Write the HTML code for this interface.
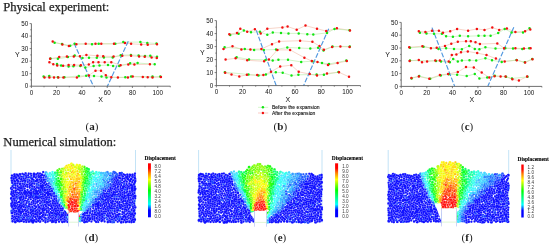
<!DOCTYPE html>
<html><head><meta charset="utf-8"><style>
html,body{margin:0;padding:0;background:#fff;overflow:hidden}
body{width:550px;height:247px}
svg{display:block}
</style></head><body>
<svg width="550" height="247" viewBox="0 0 550 247">
<text x="3.2" y="11.3" font-family="'Liberation Serif', serif" font-size="12.6" fill="#1e1e1e" stroke="#1e1e1e" stroke-width=".25">Physical experiment:</text>
<text x="3.3" y="145.6" font-family="'Liberation Serif', serif" font-size="12.6" fill="#1e1e1e" stroke="#1e1e1e" stroke-width=".25">Numerical simulation:</text>
<g font-family="'Liberation Sans', sans-serif" font-size="6.3" fill="#111"><path d="M52.7 41.6 62.4 44.4 68.9 46 76.4 44.2 85.7 43.8 95.5 43.8 101.3 43.8 114 43.8 125 43.1 131.1 43.8 141.2 44.4 147.7 44.7 157 44.2" fill="none" stroke="#f2b8a4" stroke-width=".6"/><path d="M54.6 42.8 62 44 70.2 45.7 74.7 43.8 92 44.2 98.7 43.8 115.3 43.8 123.3 42.1 140.4 42.1 147.3 42.9 156.5 43.5" fill="none" stroke="#b4eca4" stroke-width=".6"/><path d="M50.1 58.8 59.2 57.1 66.9 56.5 73.8 56.5 79.9 56.2 86.4 54.9 97.4 55.8 103.2 56.2 113.6 56.5 122.3 55.8 131.1 55.8 139.1 56.5 144.7 56.7 151.6 57.5 156.8 58" fill="none" stroke="#f2b8a4" stroke-width=".6"/><path d="M50.5 58.5 57.9 58.8 67.9 57.1 74.7 55.4 82.5 58 89 57.8 96.8 57.8 103.9 57.5 112.7 57.5 120.7 55.2 130.9 54.9 138.6 55.4 145 56 150.3 55.8 157 56.7" fill="none" stroke="#b4eca4" stroke-width=".6"/><path d="M49.4 62.3 53.3 64.3 57.2 65.6 63.1 65.8 68.6 64.9 74.1 64.9 80.8 65.2 88.8 64.6 93.1 62.2 98.5 62.2 104.7 62.2 111.3 62.2 120.6 65.2 128.3 64.5 134.4 64.5 149.9 64.3" fill="none" stroke="#f2b8a4" stroke-width=".6"/><path d="M57 64 61.1 65.6 68.6 66.6 73.4 66.2 80.3 66.1 85.3 67.5 93.6 66.1 99.5 65.5 108 65 113.1 66 119.2 66 130.1 63.2 137.6 63 154.7 64.3" fill="none" stroke="#b4eca4" stroke-width=".6"/><path d="M44.5 77.5 49.4 77.5 54 77.5 58.3 77.5 63.4 77.5 76.9 77.5 88.9 75.4 95.5 70.7 101 70.7 105.8 75.2 111.3 77.2 117.9 77.5 127.9 77.5 132.7 76.6 142.8 77 147.7 77.2 152.5 77.5 160.9 77" fill="none" stroke="#f2b8a4" stroke-width=".6"/><path d="M43.6 76.6 49.2 75.9 57.9 77.2 64.4 77.2 78.8 76 86.2 75.8 94 76 101.5 76.5 106.5 77.4 125.3 77.2 131.1 76.6 152.5 76.6 160.3 76.6" fill="none" stroke="#b4eca4" stroke-width=".6"/><line x1="74" y1="43.1" x2="93.4" y2="86.2" stroke="#5198e0" stroke-width="1.15" stroke-dasharray="5 1.7"/><line x1="128.3" y1="41.2" x2="107.4" y2="86.2" stroke="#5198e0" stroke-width="1.15" stroke-dasharray="5 1.7"/><path d="M54.6 42.8h0M62 44h0M70.2 45.7h0M74.7 43.8h0M92 44.2h0M98.7 43.8h0M115.3 43.8h0M123.3 42.1h0M140.4 42.1h0M147.3 42.9h0M156.5 43.5h0" stroke="#12e412" stroke-width="2.5" stroke-linecap="round"/><path d="M50.5 58.5h0M57.9 58.8h0M67.9 57.1h0M74.7 55.4h0M82.5 58h0M89 57.8h0M96.8 57.8h0M103.9 57.5h0M112.7 57.5h0M120.7 55.2h0M130.9 54.9h0M138.6 55.4h0M145 56h0M150.3 55.8h0M157 56.7h0" stroke="#12e412" stroke-width="2.5" stroke-linecap="round"/><path d="M57 64h0M61.1 65.6h0M68.6 66.6h0M73.4 66.2h0M80.3 66.1h0M85.3 67.5h0M93.6 66.1h0M99.5 65.5h0M108 65h0M113.1 66h0M119.2 66h0M130.1 63.2h0M137.6 63h0M154.7 64.3h0" stroke="#12e412" stroke-width="2.5" stroke-linecap="round"/><path d="M43.6 76.6h0M49.2 75.9h0M57.9 77.2h0M64.4 77.2h0M78.8 76h0M86.2 75.8h0M94 76h0M101.5 76.5h0M106.5 77.4h0M125.3 77.2h0M131.1 76.6h0M152.5 76.6h0M160.3 76.6h0" stroke="#12e412" stroke-width="2.5" stroke-linecap="round"/><path d="M52.7 41.6h0M62.4 44.4h0M68.9 46h0M76.4 44.2h0M85.7 43.8h0M95.5 43.8h0M101.3 43.8h0M114 43.8h0M125 43.1h0M131.1 43.8h0M141.2 44.4h0M147.7 44.7h0M157 44.2h0" stroke="#f21010" stroke-width="2.5" stroke-linecap="round"/><path d="M50.1 58.8h0M59.2 57.1h0M66.9 56.5h0M73.8 56.5h0M79.9 56.2h0M86.4 54.9h0M97.4 55.8h0M103.2 56.2h0M113.6 56.5h0M122.3 55.8h0M131.1 55.8h0M139.1 56.5h0M144.7 56.7h0M151.6 57.5h0M156.8 58h0" stroke="#f21010" stroke-width="2.5" stroke-linecap="round"/><path d="M49.4 62.3h0M53.3 64.3h0M57.2 65.6h0M63.1 65.8h0M68.6 64.9h0M74.1 64.9h0M80.8 65.2h0M88.8 64.6h0M93.1 62.2h0M98.5 62.2h0M104.7 62.2h0M111.3 62.2h0M120.6 65.2h0M128.3 64.5h0M134.4 64.5h0M149.9 64.3h0" stroke="#f21010" stroke-width="2.5" stroke-linecap="round"/><path d="M44.5 77.5h0M49.4 77.5h0M54 77.5h0M58.3 77.5h0M63.4 77.5h0M76.9 77.5h0M88.9 75.4h0M95.5 70.7h0M101 70.7h0M105.8 75.2h0M111.3 77.2h0M117.9 77.5h0M127.9 77.5h0M132.7 76.6h0M142.8 77h0M147.7 77.2h0M152.5 77.5h0M160.9 77h0" stroke="#f21010" stroke-width="2.5" stroke-linecap="round"/><path d="M31.4 86.2H170.3M31.4 86.2V23.6" fill="none" stroke="#4a4a4a" stroke-width=".8"/><path d="M31.4 86.2v1.8M44 86.2v1.1M56.6 86.2v1.8M69.3 86.2v1.1M81.9 86.2v1.8M94.5 86.2v1.1M107.2 86.2v1.8M119.8 86.2v1.1M132.4 86.2v1.8M145 86.2v1.1M157.7 86.2v1.8M170.3 86.2v1.1M31.4 86.2h-1.8M31.4 79.9h-1.1M31.4 73.7h-1.8M31.4 67.4h-1.1M31.4 61.1h-1.8M31.4 54.9h-1.1M31.4 48.6h-1.8M31.4 42.3h-1.1M31.4 36.1h-1.8M31.4 29.8h-1.1M31.4 23.6h-1.8" fill="none" stroke="#4a4a4a" stroke-width=".7"/><text x="31.4" y="94.6" text-anchor="middle">0</text><text x="56.6" y="94.6" text-anchor="middle">20</text><text x="81.9" y="94.6" text-anchor="middle">40</text><text x="107.2" y="94.6" text-anchor="middle">60</text><text x="132.4" y="94.6" text-anchor="middle">80</text><text x="157.7" y="94.6" text-anchor="middle">100</text><text x="28.3" y="88.4" text-anchor="end">0</text><text x="28.3" y="75.8" text-anchor="end">10</text><text x="28.3" y="63.3" text-anchor="end">20</text><text x="28.3" y="50.8" text-anchor="end">30</text><text x="28.3" y="38.2" text-anchor="end">40</text><text x="28.3" y="25.7" text-anchor="end">50</text><text x="100.6" y="101.9" text-anchor="middle" font-size="7">X</text><text x="17.45" y="57.0" text-anchor="middle" font-size="7">Y</text></g>
<g font-family="'Liberation Sans', sans-serif" font-size="6.3" fill="#111"><path d="M229.3 34.2 237 32.9 240.3 28.7 247.2 31.8 254.9 29.3 260.7 33.4 267.3 28.7 282.4 27.4 287.6 26.5 296.7 29.7 305.5 25.6 317 28.7 326.2 31.1 336.9 28.3 350 30.4" fill="none" stroke="#f2b8a4" stroke-width=".6"/><path d="M230.2 34.9 238.6 33.8 243.9 30.4 251 32.2 260 31.8 267.3 34.8 272.8 32.5 281 32.9 288.5 33.4 298.7 33.4 307.3 34.2 313.3 34.5 327 32.9 334.5 29 349.5 30.2" fill="none" stroke="#b4eca4" stroke-width=".6"/><path d="M223.5 49 232.5 46.2 241.4 49.4 250.4 49.4 261.4 48.9 272 44.2 279.1 41.4 300.1 40.7 312.4 41.8 319.5 46.1 323.9 49.7 332.1 46.9 340.4 46.6 349.6 46.9" fill="none" stroke="#f2b8a4" stroke-width=".6"/><path d="M224.6 47.2 244.8 49 254.1 49.9 263.8 49.9 276 49.5 287.3 47.5 299.2 48 310.3 48.5 318.1 47.8 323.5 50.6 332.5 46.5 349.8 46.4" fill="none" stroke="#b4eca4" stroke-width=".6"/><path d="M225.6 59.6 235.6 58.3 247.2 60.3 264.1 61.3 268.9 59.4 277.4 49.9 290.1 49.9 304.4 57.7 311.8 61.1 317.5 62.1 328 65.1 337.6 63.1 346.8 61" fill="none" stroke="#f2b8a4" stroke-width=".6"/><path d="M236.6 57.2 249 59.4 265.5 59.9 272.7 60.5 278.4 59.8 288 59.8 301.2 61.9 312.4 61.2 322 62.9 329 64 346.3 60.6" fill="none" stroke="#b4eca4" stroke-width=".6"/><path d="M225.2 72.7 231.5 74.5 239.3 76.4 246.9 74.8 257.2 75.1 263.4 75.1 271 71.8 280.2 66.5 291.3 65.2 298.7 71.8 309.7 74.1 317 75.5 327 73.4 339 72.3 349 76.8" fill="none" stroke="#f2b8a4" stroke-width=".6"/><path d="M224.8 72.2 248.5 74.5 258.5 75.5 265.9 74.5 275.8 72.3 282.7 72.7 291.5 75.5 298.4 74.8 316.6 74.5 323.9 74.8 338.5 72" fill="none" stroke="#b4eca4" stroke-width=".6"/><line x1="256.3" y1="30.4" x2="276.2" y2="85.6" stroke="#5198e0" stroke-width="1.15" stroke-dasharray="5 1.7"/><line x1="328.7" y1="28.7" x2="303.6" y2="85.6" stroke="#5198e0" stroke-width="1.15" stroke-dasharray="5 1.7"/><path d="M230.2 34.9h0M238.6 33.8h0M243.9 30.4h0M251 32.2h0M260 31.8h0M267.3 34.8h0M272.8 32.5h0M281 32.9h0M288.5 33.4h0M298.7 33.4h0M307.3 34.2h0M313.3 34.5h0M327 32.9h0M334.5 29h0M349.5 30.2h0" stroke="#12e412" stroke-width="2.5" stroke-linecap="round"/><path d="M224.6 47.2h0M244.8 49h0M254.1 49.9h0M263.8 49.9h0M276 49.5h0M287.3 47.5h0M299.2 48h0M310.3 48.5h0M318.1 47.8h0M323.5 50.6h0M332.5 46.5h0M349.8 46.4h0" stroke="#12e412" stroke-width="2.5" stroke-linecap="round"/><path d="M236.6 57.2h0M249 59.4h0M265.5 59.9h0M272.7 60.5h0M278.4 59.8h0M288 59.8h0M301.2 61.9h0M312.4 61.2h0M322 62.9h0M329 64h0M346.3 60.6h0" stroke="#12e412" stroke-width="2.5" stroke-linecap="round"/><path d="M224.8 72.2h0M248.5 74.5h0M258.5 75.5h0M265.9 74.5h0M275.8 72.3h0M282.7 72.7h0M291.5 75.5h0M298.4 74.8h0M316.6 74.5h0M323.9 74.8h0M338.5 72h0" stroke="#12e412" stroke-width="2.5" stroke-linecap="round"/><path d="M229.3 34.2h0M237 32.9h0M240.3 28.7h0M247.2 31.8h0M254.9 29.3h0M260.7 33.4h0M267.3 28.7h0M282.4 27.4h0M287.6 26.5h0M296.7 29.7h0M305.5 25.6h0M317 28.7h0M326.2 31.1h0M336.9 28.3h0M350 30.4h0" stroke="#f21010" stroke-width="2.5" stroke-linecap="round"/><path d="M223.5 49h0M232.5 46.2h0M241.4 49.4h0M250.4 49.4h0M261.4 48.9h0M272 44.2h0M279.1 41.4h0M300.1 40.7h0M312.4 41.8h0M319.5 46.1h0M323.9 49.7h0M332.1 46.9h0M340.4 46.6h0M349.6 46.9h0" stroke="#f21010" stroke-width="2.5" stroke-linecap="round"/><path d="M225.6 59.6h0M235.6 58.3h0M247.2 60.3h0M264.1 61.3h0M268.9 59.4h0M277.4 49.9h0M290.1 49.9h0M304.4 57.7h0M311.8 61.1h0M317.5 62.1h0M328 65.1h0M337.6 63.1h0M346.8 61h0" stroke="#f21010" stroke-width="2.5" stroke-linecap="round"/><path d="M225.2 72.7h0M231.5 74.5h0M239.3 76.4h0M246.9 74.8h0M257.2 75.1h0M263.4 75.1h0M271 71.8h0M280.2 66.5h0M291.3 65.2h0M298.7 71.8h0M309.7 74.1h0M317 75.5h0M327 73.4h0M339 72.3h0M349 76.8h0" stroke="#f21010" stroke-width="2.5" stroke-linecap="round"/><path d="M216.4 85.6H360.5M216.4 85.6V20.6" fill="none" stroke="#4a4a4a" stroke-width=".8"/><path d="M216.4 85.6v1.8M229.5 85.6v1.1M242.6 85.6v1.8M255.7 85.6v1.1M268.8 85.6v1.8M281.9 85.6v1.1M295 85.6v1.8M308.1 85.6v1.1M321.2 85.6v1.8M334.3 85.6v1.1M347.4 85.6v1.8M360.5 85.6v1.1M216.4 85.6h-1.8M216.4 79.1h-1.1M216.4 72.6h-1.8M216.4 66.1h-1.1M216.4 59.6h-1.8M216.4 53.1h-1.1M216.4 46.6h-1.8M216.4 40.1h-1.1M216.4 33.6h-1.8M216.4 27.1h-1.1M216.4 20.6h-1.8" fill="none" stroke="#4a4a4a" stroke-width=".7"/><text x="216.4" y="94" text-anchor="middle">0</text><text x="242.6" y="94" text-anchor="middle">20</text><text x="268.8" y="94" text-anchor="middle">40</text><text x="295" y="94" text-anchor="middle">60</text><text x="321.2" y="94" text-anchor="middle">80</text><text x="347.4" y="94" text-anchor="middle">100</text><text x="213.3" y="87.8" text-anchor="end">0</text><text x="213.3" y="74.8" text-anchor="end">10</text><text x="213.3" y="61.7" text-anchor="end">20</text><text x="213.3" y="48.7" text-anchor="end">30</text><text x="213.3" y="35.7" text-anchor="end">40</text><text x="213.3" y="22.7" text-anchor="end">50</text><text x="287.85" y="101.9" text-anchor="middle" font-size="7">X</text><text x="202.3" y="55.4" text-anchor="middle" font-size="7">Y</text></g>
<g font-family="'Liberation Sans', sans-serif" font-size="6.3" fill="#111"><path d="M418.8 31.3 425.4 32.1 432 30.7 438.9 30.7 443 32.7 450.2 31.3 457.1 28.9 468.1 30.7 476.9 28.9 484.5 29.9 492.3 27.6 499.2 29.9 506.9 28.5 515.4 32.1 525.1 31.3 530.3 29.4" fill="none" stroke="#f2b8a4" stroke-width=".6"/><path d="M419.9 32.7 426.5 33.5 434 33.8 441.9 33.8 446.1 36.2 452.9 36.8 459.8 35.8 468.1 36.2 478.5 35.8 484.5 35.8 490.6 35.8 498.2 33.1 504.7 28.9 511.6 32.4 523 32.4 529.5 28.3" fill="none" stroke="#b4eca4" stroke-width=".6"/><path d="M409.2 47.3 422.4 46.2 430.9 48.2 436.7 47.8 445 45.9 451.3 43.7 457.8 41.8 466 41.3 470.8 41.3 475.5 42.3 479.9 44.1 497.3 43.4 504.1 48.2 515.4 48.2 524 48.6 530.6 48.2" fill="none" stroke="#f2b8a4" stroke-width=".6"/><path d="M410 47.8 423.5 46.8 438.5 48.9 446.1 48.2 454 48.9 461.9 49.2 469.2 45.9 474.8 48.9 479.4 49.2 485.4 47.3 495.5 48.6 505.3 48.2 513 48.6 522.3 48.9 529.2 48.2" fill="none" stroke="#b4eca4" stroke-width=".6"/><path d="M409.6 60.9 418.8 60 422 62.3 427.1 61.6 435.3 60.5 439.9 60.5 448.7 61.4 451.8 55 456.4 54.5 461 52.3 467.8 51.4 477.2 53.1 486.5 55 495.9 58.6 504.7 61.4 516.8 60.2 525.1 62.6 532.5 59.2" fill="none" stroke="#f2b8a4" stroke-width=".6"/><path d="M410 60.5 436 60.9 441 61.4 449.9 62.3 453.2 58.9 457.8 61.4 461.9 60.5 469.5 60.3 476.2 60.5 485.4 58.2 492 60.3 501.7 61.9 516.5 60 524.8 62.3 532.2 58.9" fill="none" stroke="#b4eca4" stroke-width=".6"/><path d="M411.4 77.9 418.8 76.5 429.3 78.8 439.9 75.1 448.1 74 457.8 72 466 67.1 473.8 67.4 481.7 72.6 489.3 77.5 494.5 76.3 500.6 76.5 505.5 76.5 512.4 79.3 518.9 80.6 527.1 76.5" fill="none" stroke="#f2b8a4" stroke-width=".6"/><path d="M411.6 78.4 419.2 76.1 430.2 78.8 440.8 75.4 448.8 74.3 457.1 74.7 466.7 76.1 474.8 74 479.4 78.4 487.2 77.5 494.8 75.7 506 76.8 512 78.5 527.5 76.8" fill="none" stroke="#b4eca4" stroke-width=".6"/><line x1="432" y1="27.6" x2="454.6" y2="86.1" stroke="#5198e0" stroke-width="1.15" stroke-dasharray="5 1.7"/><line x1="513.8" y1="27.2" x2="487.9" y2="86.1" stroke="#5198e0" stroke-width="1.15" stroke-dasharray="5 1.7"/><path d="M419.9 32.7h0M426.5 33.5h0M434 33.8h0M441.9 33.8h0M446.1 36.2h0M452.9 36.8h0M459.8 35.8h0M468.1 36.2h0M478.5 35.8h0M484.5 35.8h0M490.6 35.8h0M498.2 33.1h0M504.7 28.9h0M511.6 32.4h0M523 32.4h0M529.5 28.3h0" stroke="#12e412" stroke-width="2.5" stroke-linecap="round"/><path d="M410 47.8h0M423.5 46.8h0M438.5 48.9h0M446.1 48.2h0M454 48.9h0M461.9 49.2h0M469.2 45.9h0M474.8 48.9h0M479.4 49.2h0M485.4 47.3h0M495.5 48.6h0M505.3 48.2h0M513 48.6h0M522.3 48.9h0M529.2 48.2h0" stroke="#12e412" stroke-width="2.5" stroke-linecap="round"/><path d="M410 60.5h0M436 60.9h0M441 61.4h0M449.9 62.3h0M453.2 58.9h0M457.8 61.4h0M461.9 60.5h0M469.5 60.3h0M476.2 60.5h0M485.4 58.2h0M492 60.3h0M501.7 61.9h0M516.5 60h0M524.8 62.3h0M532.2 58.9h0" stroke="#12e412" stroke-width="2.5" stroke-linecap="round"/><path d="M411.6 78.4h0M419.2 76.1h0M430.2 78.8h0M440.8 75.4h0M448.8 74.3h0M457.1 74.7h0M466.7 76.1h0M474.8 74h0M479.4 78.4h0M487.2 77.5h0M494.8 75.7h0M506 76.8h0M512 78.5h0M527.5 76.8h0" stroke="#12e412" stroke-width="2.5" stroke-linecap="round"/><path d="M418.8 31.3h0M425.4 32.1h0M432 30.7h0M438.9 30.7h0M443 32.7h0M450.2 31.3h0M457.1 28.9h0M468.1 30.7h0M476.9 28.9h0M484.5 29.9h0M492.3 27.6h0M499.2 29.9h0M506.9 28.5h0M515.4 32.1h0M525.1 31.3h0M530.3 29.4h0" stroke="#f21010" stroke-width="2.5" stroke-linecap="round"/><path d="M409.2 47.3h0M422.4 46.2h0M430.9 48.2h0M436.7 47.8h0M445 45.9h0M451.3 43.7h0M457.8 41.8h0M466 41.3h0M470.8 41.3h0M475.5 42.3h0M479.9 44.1h0M497.3 43.4h0M504.1 48.2h0M515.4 48.2h0M524 48.6h0M530.6 48.2h0" stroke="#f21010" stroke-width="2.5" stroke-linecap="round"/><path d="M409.6 60.9h0M418.8 60h0M422 62.3h0M427.1 61.6h0M435.3 60.5h0M439.9 60.5h0M448.7 61.4h0M451.8 55h0M456.4 54.5h0M461 52.3h0M467.8 51.4h0M477.2 53.1h0M486.5 55h0M495.9 58.6h0M504.7 61.4h0M516.8 60.2h0M525.1 62.6h0M532.5 59.2h0" stroke="#f21010" stroke-width="2.5" stroke-linecap="round"/><path d="M411.4 77.9h0M418.8 76.5h0M429.3 78.8h0M439.9 75.1h0M448.1 74h0M457.8 72h0M466 67.1h0M473.8 67.4h0M481.7 72.6h0M489.3 77.5h0M494.5 76.3h0M500.6 76.5h0M505.5 76.5h0M512.4 79.3h0M518.9 80.6h0M527.1 76.5h0" stroke="#f21010" stroke-width="2.5" stroke-linecap="round"/><path d="M401.2 86.4H541.9M401.2 86.4V22.4" fill="none" stroke="#4a4a4a" stroke-width=".8"/><path d="M401.2 86.4v1.8M414 86.4v1.1M426.8 86.4v1.8M439.6 86.4v1.1M452.4 86.4v1.8M465.1 86.4v1.1M477.9 86.4v1.8M490.7 86.4v1.1M503.5 86.4v1.8M516.3 86.4v1.1M529.1 86.4v1.8M541.9 86.4v1.1M401.2 86.4h-1.8M401.2 80h-1.1M401.2 73.6h-1.8M401.2 67.2h-1.1M401.2 60.8h-1.8M401.2 54.4h-1.1M401.2 48h-1.8M401.2 41.6h-1.1M401.2 35.2h-1.8M401.2 28.8h-1.1M401.2 22.4h-1.8" fill="none" stroke="#4a4a4a" stroke-width=".7"/><text x="401.2" y="94.8" text-anchor="middle">0</text><text x="426.8" y="94.8" text-anchor="middle">20</text><text x="452.4" y="94.8" text-anchor="middle">40</text><text x="477.9" y="94.8" text-anchor="middle">60</text><text x="503.5" y="94.8" text-anchor="middle">80</text><text x="529.1" y="94.8" text-anchor="middle">100</text><text x="398.1" y="88.6" text-anchor="end">0</text><text x="398.1" y="75.8" text-anchor="end">10</text><text x="398.1" y="63" text-anchor="end">20</text><text x="398.1" y="50.2" text-anchor="end">30</text><text x="398.1" y="37.4" text-anchor="end">40</text><text x="398.1" y="24.6" text-anchor="end">50</text><text x="471.75" y="101.9" text-anchor="middle" font-size="7">X</text><text x="387.7" y="57.1" text-anchor="middle" font-size="7">Y</text></g>
<path d="M258 107.3h10.2" stroke="#b8f0a8" stroke-width=".6"/><path d="M258 113h10.2" stroke="#f7a8a0" stroke-width=".6"/>
<path d="M262.9 107.3h0" stroke="#12e412" stroke-width="2.4" stroke-linecap="round"/><path d="M262.9 113h0" stroke="#f21010" stroke-width="2.4" stroke-linecap="round"/>
<g font-family="'Liberation Sans', sans-serif" font-size="5.05" fill="#111" stroke="#111" stroke-width=".1"><text x="271.9" y="109.1">Before the expansion</text><text x="271.9" y="114.8">After the expansion</text></g>
<text x="85.6" y="129.9" font-family="'Liberation Serif', serif" font-size="11" fill="#1e1e1e">(<tspan font-weight="bold">a</tspan>)</text>
<text x="273.6" y="129.9" font-family="'Liberation Serif', serif" font-size="11" fill="#1e1e1e">(<tspan font-weight="bold">b</tspan>)</text>
<text x="461.0" y="129.9" font-family="'Liberation Serif', serif" font-size="11" fill="#1e1e1e">(<tspan font-weight="bold">c</tspan>)</text>
<text x="84.8" y="240.9" font-family="'Liberation Serif', serif" font-size="11" fill="#1e1e1e">(<tspan font-weight="bold">d</tspan>)</text>
<text x="274.0" y="240.9" font-family="'Liberation Serif', serif" font-size="11" fill="#1e1e1e">(<tspan font-weight="bold">e</tspan>)</text>
<text x="461.6" y="240.9" font-family="'Liberation Serif', serif" font-size="11" fill="#1e1e1e">(<tspan font-weight="bold">f</tspan>)</text>
<defs><linearGradient id="jet" x1="0" y1="0" x2="0" y2="1"><stop offset="0" stop-color="#f00"/><stop offset=".09" stop-color="#f00"/><stop offset=".18" stop-color="#ff8000"/><stop offset=".3" stop-color="#ff0"/><stop offset=".5" stop-color="#0f0"/><stop offset=".76" stop-color="#0ff"/><stop offset=".87" stop-color="#00f"/><stop offset="1" stop-color="#00f"/></linearGradient></defs>
<path d="M11.0 150V222.5M135.5 150V222.5" stroke="#b4dcf4" stroke-width=".8"/>
<path d="M14.6 174.8h0m5.3-.4h0m14.1-.5h0m7.8 .8h0m88 .2h0m-117.9 3.1h0m2.5-1h0m1.6 .6h0m18.1-1.2h0m4.8 .4h0m1.6-.6h0m77.3-.1h0m8.1 1.3h0m1.7-.5h0m5-.3h0m-118.5 3.7h0m7.2-1.3h0m1.1 1.9h0m17.1-1h0m86 .6h0m-110.4 1.3h0m29.9-.2h0m74.6 2.4h0m-96 2.3h0m8.8 .3h0m4.6-.9h0m3.6 .2h0m2.3-.8h0m69.1 .3h0m13.6 1.9h0m3.8-2.1h0m1.7-.4h0m1.8 1.1h0m-121.4 2.3h0m6.3 .7h0m2.4 1.6h0m2.4-2.1h0m13 .5h0m5.8-.4h0m1.2 1.4h0m.5-2.4h0m4.1 2.1h0m69 .5h0m15.4-2.2h0m.6 2.1h0m1-1.5h0m-108.9 4.4h0m.5-1.7h0m2 1.2h0m2.1-.3h0m2.8 .5h0m13.1-.8h0m87.8 .5h0m-115.7 2h0m4.7 2.1h0m3.9-2.2h0m4.5-.1h0m1.7 1.5h0m4.6 .2h0m6.9 .5h0m9-2.4h0m54 1.5h0m3.3 .6h0m1.9-1.7h0m11 .2h0m10.5 1.9h0m2-.4h0m-119.1 2.1h0m2.8-.8h0m1.7 .9h0m5.2-.4h0m4.1-.6h0m5.2 0h0m1.8 1.1h0m1.9-.7h0m2.6-.4h0m4.5-.3h0m1.8 .3h0m8.3 .5h0m52.3-.5h0m13.9 1.1h0m4.3-1.4h0m4.4 2.6h0m4.2-1.4h0m-122.4 1.7h0m10.5 .1h0m12.4 1.5h0m8 .6h0m9.8-1.5h0m2.4 1.7h0m48.1-.4h0m4.8-1.1h0m8.7 1.4h0m5.5-.2h0m1.3-1.9h0m-110.9 4.2h0m1.6 1.1h0m7.5-.1h0m3.4-.8h0m21.9-.6h0m3.1 .7h0m44.7 0h0m2-1.3h0m.4 2.2h0m1.3-2.8h0m.4 2.4h0m2.7-.3h0m4.3-1.8h0m12.6 1.1h0m9.5 .3h0m1.7 1.2h0m-116 1.7h0m2.3-.9h0m4.2 .6h0m3.3-.3h0m6.2 1.2h0m10.4 .4h0m14.6-1.9h0m4.2 .7h0m39.2 1.1h0m9.1-1.1h0m5.9 0h0m6.3-.9h0m.8 1.7h0m2.2-2.1h0m-108.6 5.2h0m3.8-2.4h0m3.1 .3h0m4 1.1h0m8.1 .2h0m5.1-.7h0m61.5 2h0m5.9-.1h0m4.8-1.1h0m6-1.1h0m8.1-.5h0m1.9 1.6h0m7.4-.1h0m-117.1 3.4h0m13.7-.7h0m1.9-1.2h0m2.9 2.4h0m1.8 .3h0m1.8-1.7h0m4.3-.2h0m7.5 .2h0m2.1 .7h0m4.5-.8h0m1.1 1.3h0m26.8-.9h0m7.1 1.6h0m4.5-1.6h0m2.3 .7h0m4.4-1.6h0m30.2 .3h0m-115 4.6h0m6-1.5h0m14.7 1.4h0m1.7 .6h0m4.3-2.6h0m10.5 1.8h0m3.9-1.1h0m6.4 1.9h0m31.8-1.8h0m9.1-.3h0m1.4 .9h0m14 1.3h0m2-2h0m-111.1 2.1h0m4.4 1.5h0m3.7 1.4h0m6.7-.6h0m2.8-.9h0m1.2 1.2h0m1.9 .2h0m5.1-1.9h0m9.7-1h0m9.3 2.1h0m27.1-1.3h0m6.2-.5h0m6.3 1.6h0m3.5-1h0m9.1 1.8h0m15.4-2.4h0m6.5 1.7h0m2.3 0h0m-117.9 1.3h0m2.7 .1h0m11-.2h0m2.5 1.2h0m51.6-.1h0m2.5-.6h0m34.3 .8h0m10.1-.3h0" stroke="#adadff" stroke-width="3.36" stroke-linecap="round"/>
<path d="M113.5 177.7h0m.2 3.2h0m-10.6 11.5h0" stroke="#adb4ff" stroke-width="3.36" stroke-linecap="round"/>
<path d="M115.3 173.1h0m-3.7 6.7h0m8.6 1.6h0m-80.7 14.6h0m60.9-.9h0m14.1 1.4h0m-19.8 5.9h0m-61.8 6.1h0m59.7-2h0m26 1.6h0m-106.7 2.9h0m15.2 6.5h0m26.7-2.7h0" stroke="#adbbff" stroke-width="3.36" stroke-linecap="round"/>
<path d="M113.8 172.3h0m-3.4 13.7h0m-8.6 7.8h0m-4.4 3.9h0m-15.7 21.2h0" stroke="#adc2ff" stroke-width="3.36" stroke-linecap="round"/>
<path d="M104.5 186.4h0m-15.2 19.8h0" stroke="#adc9ff" stroke-width="3.36" stroke-linecap="round"/>
<path d="M45.8 174.9h0m65.2 2.6h0m-17.8 23.6h0" stroke="#add0ff" stroke-width="3.36" stroke-linecap="round"/>
<path d="M104.2 177.6h0m-.1 6.8h0m-7.3 6.6h0m-4.6 7.9h0m-1.2 3.4h0" stroke="#add7ff" stroke-width="3.36" stroke-linecap="round"/>
<path d="M46 172.8h0m3.2 6.7h0m53.1 7.7h0m-16.8 22.7h0" stroke="#addeff" stroke-width="3.36" stroke-linecap="round"/>
<path d="M105.4 173.3h0m-12.7 16.6h0m-38.5 1.8h0m13.7 24.9h0m12.3 4.1h0" stroke="#ade5ff" stroke-width="3.36" stroke-linecap="round"/>
<path d="M99.8 177.2h0m3.4-1.4h0m-52.2 3.7h0m46.7 .9h0m-14.5 30h0m-12.8 4.6h0" stroke="#adecff" stroke-width="3.36" stroke-linecap="round"/>
<path d="M94.9 180.1h0m3.6 2.8h0m-12.5 22.6h0" stroke="#adf3ff" stroke-width="3.36" stroke-linecap="round"/>
<path d="M95.8 178.3h0" stroke="#adfaff" stroke-width="3.36" stroke-linecap="round"/>
<path d="M91.4 184.7h0m.8 3.4h0m-1.5 3.9h0" stroke="#adfffd" stroke-width="3.36" stroke-linecap="round"/>
<path d="M99.1 173h0m-11.6 25.2h0m-3.7 5.7h0m-19.3 3.2h0" stroke="#adfff6" stroke-width="3.36" stroke-linecap="round"/>
<path d="M52.4 174.4h0m2.1 .2h0m36.6 6.2h0" stroke="#adffef" stroke-width="3.36" stroke-linecap="round"/>
<path d="M88.2 187.6h0m-29.3 4h0" stroke="#adffe1" stroke-width="3.36" stroke-linecap="round"/>
<path d="M55.9 185.1h0m32.2-.2h0" stroke="#adffd4" stroke-width="3.36" stroke-linecap="round"/>
<path d="M87.5 173.4h0m4.1 4.7h0m-3.3 .9h0m.9 4.3h0m-8.1 23.4h0" stroke="#adffcd" stroke-width="3.36" stroke-linecap="round"/>
<path d="M57.8 185.6h0m28.5 4.8h0" stroke="#adffc6" stroke-width="3.36" stroke-linecap="round"/>
<path d="M88.1 171.2h0m-31.5 9.8h0m29.1-.3h0" stroke="#adffbf" stroke-width="3.36" stroke-linecap="round"/>
<path d="M64.4 205h0m9.4 10h0" stroke="#adffb8" stroke-width="3.36" stroke-linecap="round"/>
<path d="M86.6 178.3h0m-27.8 2.6h0" stroke="#adffb1" stroke-width="3.36" stroke-linecap="round"/>
<path d="M86.5 170.4h0m-1.8 6.5h0m-24.2 5.5h0m13.3 36.4h0m2.2 .3h0" stroke="#b1ffad" stroke-width="3.36" stroke-linecap="round"/>
<path d="M63 196.7h0" stroke="#b8ffad" stroke-width="3.36" stroke-linecap="round"/>
<path d="M61.1 178.7h0m-.8 5.4h0m20.7 13.7h0" stroke="#bfffad" stroke-width="3.36" stroke-linecap="round"/>
<path d="M85 169.2h0m-1.2 10.3h0m-.8 4.7h0m-19.4 14.7h0" stroke="#c6ffad" stroke-width="3.36" stroke-linecap="round"/>
<path d="M81.8 191.7h0m-1.5 11.9h0" stroke="#cdffad" stroke-width="3.36" stroke-linecap="round"/>
<path d="M80.5 193.3h0" stroke="#d4ffad" stroke-width="3.36" stroke-linecap="round"/>
<path d="M82.5 178.1h0m-20.7 10.7h0m1.9 2.6h0" stroke="#dbffad" stroke-width="3.36" stroke-linecap="round"/>
<path d="M82 171.6h0m-19.6 3.3h0m1.2 4h0m-1.5 2.9h0" stroke="#e1ffad" stroke-width="3.36" stroke-linecap="round"/>
<path d="M64.5 174.9h0m1.6 21.2h0" stroke="#e8ffad" stroke-width="3.36" stroke-linecap="round"/>
<path d="M80.8 167.3h0m0 11.1h0m-15.4 5h0m1.2 22.3h0" stroke="#efffad" stroke-width="3.36" stroke-linecap="round"/>
<path d="M73.9 166.8h0m1.7 .1h0m1.4 1.2h0m-5.1 7.8h0m9 .8h0m-.2 6h0" stroke="#f6ffad" stroke-width="3.36" stroke-linecap="round"/>
<path d="M71.5 164h0m-4.1 3.8h0m-.2 6.8h0m6.5 .3h0m-6.8 7.3h0m13.3 2.8h0m-14.8 8.4h0m2-1.8h0" stroke="#fdffad" stroke-width="3.36" stroke-linecap="round"/>
<path d="M73.5 170.8h0m1.8 7.7h0" stroke="#fffaad" stroke-width="3.36" stroke-linecap="round"/>
<path d="M66.8 166.2h0m11.2 10.8h0" stroke="#fff3ad" stroke-width="3.36" stroke-linecap="round"/>
<path d="M71.4 182.5h0" stroke="#ffecad" stroke-width="3.36" stroke-linecap="round"/>
<path d="M72.2 172.2h0m.2 15.9h0m6.3 3.9h0" stroke="#ffe5ad" stroke-width="3.36" stroke-linecap="round"/>
<path d="M72.4 191.8h0" stroke="#ffd7ad" stroke-width="3.36" stroke-linecap="round"/>
<path d="M75.4 196.7h0" stroke="#ffd0ad" stroke-width="3.36" stroke-linecap="round"/>
<path d="M78.2 199.2h0" stroke="#ffc9ad" stroke-width="3.36" stroke-linecap="round"/>
<path d="M70.5 200.7h0" stroke="#ffc2ad" stroke-width="3.36" stroke-linecap="round"/>
<path d="M70.6 198.6h0m4.1 1.4h0m-2.3 6.3h0" stroke="#ffbbad" stroke-width="3.36" stroke-linecap="round"/>
<path d="M74.5 202.6h0m.9 3.4h0m-5.5 4h0m8.8 6.4h0" stroke="#ffadad" stroke-width="3.36" stroke-linecap="round"/>
<path d="M14.6 174.8h0m5.3-.4h0m14.1-.5h0m7.8 .8h0m88 .2h0m-117.9 3.1h0m2.5-1h0m1.6 .6h0m18.1-1.2h0m4.8 .4h0m1.6-.6h0m77.3-.1h0m8.1 1.3h0m1.7-.5h0m5-.3h0m-118.5 3.7h0m7.2-1.3h0m1.1 1.9h0m17.1-1h0m86 .6h0m-110.4 1.3h0m29.9-.2h0m74.6 2.4h0m-96 2.3h0m8.8 .3h0m4.6-.9h0m3.6 .2h0m2.3-.8h0m69.1 .3h0m13.6 1.9h0m3.8-2.1h0m1.7-.4h0m1.8 1.1h0m-121.4 2.3h0m6.3 .7h0m2.4 1.6h0m2.4-2.1h0m13 .5h0m5.8-.4h0m1.2 1.4h0m.5-2.4h0m4.1 2.1h0m69 .5h0m15.4-2.2h0m.6 2.1h0m1-1.5h0m-108.9 4.4h0m.5-1.7h0m2 1.2h0m2.1-.3h0m2.8 .5h0m13.1-.8h0m87.8 .5h0m-115.7 2h0m4.7 2.1h0m3.9-2.2h0m4.5-.1h0m1.7 1.5h0m4.6 .2h0m6.9 .5h0m9-2.4h0m54 1.5h0m3.3 .6h0m1.9-1.7h0m11 .2h0m10.5 1.9h0m2-.4h0m-119.1 2.1h0m2.8-.8h0m1.7 .9h0m5.2-.4h0m4.1-.6h0m5.2 0h0m1.8 1.1h0m1.9-.7h0m2.6-.4h0m4.5-.3h0m1.8 .3h0m8.3 .5h0m52.3-.5h0m13.9 1.1h0m4.3-1.4h0m4.4 2.6h0m4.2-1.4h0m-122.4 1.7h0m10.5 .1h0m12.4 1.5h0m8 .6h0m9.8-1.5h0m2.4 1.7h0m48.1-.4h0m4.8-1.1h0m8.7 1.4h0m5.5-.2h0m1.3-1.9h0m-110.9 4.2h0m1.6 1.1h0m7.5-.1h0m3.4-.8h0m21.9-.6h0m3.1 .7h0m44.7 0h0m2-1.3h0m.4 2.2h0m1.3-2.8h0m.4 2.4h0m2.7-.3h0m4.3-1.8h0m12.6 1.1h0m9.5 .3h0m1.7 1.2h0m-116 1.7h0m2.3-.9h0m4.2 .6h0m3.3-.3h0m6.2 1.2h0m10.4 .4h0m14.6-1.9h0m4.2 .7h0m39.2 1.1h0m9.1-1.1h0m5.9 0h0m6.3-.9h0m.8 1.7h0m2.2-2.1h0m-108.6 5.2h0m3.8-2.4h0m3.1 .3h0m4 1.1h0m8.1 .2h0m5.1-.7h0m61.5 2h0m5.9-.1h0m4.8-1.1h0m6-1.1h0m8.1-.5h0m1.9 1.6h0m7.4-.1h0m-117.1 3.4h0m13.7-.7h0m1.9-1.2h0m2.9 2.4h0m1.8 .3h0m1.8-1.7h0m4.3-.2h0m7.5 .2h0m2.1 .7h0m4.5-.8h0m1.1 1.3h0m26.8-.9h0m7.1 1.6h0m4.5-1.6h0m2.3 .7h0m4.4-1.6h0m30.2 .3h0m-115 4.6h0m6-1.5h0m14.7 1.4h0m1.7 .6h0m4.3-2.6h0m10.5 1.8h0m3.9-1.1h0m6.4 1.9h0m31.8-1.8h0m9.1-.3h0m1.4 .9h0m14 1.3h0m2-2h0m-111.1 2.1h0m4.4 1.5h0m3.7 1.4h0m6.7-.6h0m2.8-.9h0m1.2 1.2h0m1.9 .2h0m5.1-1.9h0m9.7-1h0m9.3 2.1h0m27.1-1.3h0m6.2-.5h0m6.3 1.6h0m3.5-1h0m9.1 1.8h0m15.4-2.4h0m6.5 1.7h0m2.3 0h0m-117.9 1.3h0m2.7 .1h0m11-.2h0m2.5 1.2h0m51.6-.1h0m2.5-.6h0m34.3 .8h0m10.1-.3h0" stroke="#1212ff" stroke-width="3.0" stroke-linecap="round"/>
<path d="M113.5 177.7h0m.2 3.2h0m-10.6 11.5h0" stroke="#182bff" stroke-width="3.0" stroke-linecap="round"/>
<path d="M115.3 173.1h0m-3.7 6.7h0m8.6 1.6h0m-80.7 14.6h0m60.9-.9h0m14.1 1.4h0m-19.8 5.9h0m-61.8 6.1h0m59.7-2h0m26 1.6h0m-106.7 2.9h0m15.2 6.5h0m26.7-2.7h0" stroke="#1e44ff" stroke-width="3.0" stroke-linecap="round"/>
<path d="M113.8 172.3h0m-3.4 13.7h0m-8.6 7.8h0m-4.4 3.9h0m-15.7 21.2h0" stroke="#245cff" stroke-width="3.0" stroke-linecap="round"/>
<path d="M104.5 186.4h0m-15.2 19.8h0" stroke="#2a72ff" stroke-width="3.0" stroke-linecap="round"/>
<path d="M45.8 174.9h0m65.2 2.6h0m-17.8 23.6h0" stroke="#3088ff" stroke-width="3.0" stroke-linecap="round"/>
<path d="M104.2 177.6h0m-.1 6.8h0m-7.3 6.6h0m-4.6 7.9h0m-1.2 3.4h0" stroke="#369cff" stroke-width="3.0" stroke-linecap="round"/>
<path d="M46 172.8h0m3.2 6.7h0m53.1 7.7h0m-16.8 22.7h0" stroke="#3cb0ff" stroke-width="3.0" stroke-linecap="round"/>
<path d="M105.4 173.3h0m-12.7 16.6h0m-38.5 1.8h0m13.7 24.9h0m12.3 4.1h0" stroke="#42c3ff" stroke-width="3.0" stroke-linecap="round"/>
<path d="M99.8 177.2h0m3.4-1.4h0m-52.2 3.7h0m46.7 .9h0m-14.5 30h0m-12.8 4.6h0" stroke="#48d4ff" stroke-width="3.0" stroke-linecap="round"/>
<path d="M94.9 180.1h0m3.6 2.8h0m-12.5 22.6h0" stroke="#46e4ff" stroke-width="3.0" stroke-linecap="round"/>
<path d="M95.8 178.3h0" stroke="#40f3ff" stroke-width="3.0" stroke-linecap="round"/>
<path d="M91.4 184.7h0m.8 3.4h0m-1.5 3.9h0" stroke="#3afffb" stroke-width="3.0" stroke-linecap="round"/>
<path d="M99.1 173h0m-11.6 25.2h0m-3.7 5.7h0m-19.3 3.2h0" stroke="#34ffe9" stroke-width="3.0" stroke-linecap="round"/>
<path d="M52.4 174.4h0m2.1 .2h0m36.6 6.2h0" stroke="#2effd7" stroke-width="3.0" stroke-linecap="round"/>
<path d="M88.2 187.6h0m-29.3 4h0" stroke="#23ffaf" stroke-width="3.0" stroke-linecap="round"/>
<path d="M55.9 185.1h0m32.2-.2h0" stroke="#17ff83" stroke-width="3.0" stroke-linecap="round"/>
<path d="M87.5 173.4h0m4.1 4.7h0m-3.3 .9h0m.9 4.3h0m-8.1 23.4h0" stroke="#12ff6d" stroke-width="3.0" stroke-linecap="round"/>
<path d="M57.8 185.6h0m28.5 4.8h0" stroke="#12ff58" stroke-width="3.0" stroke-linecap="round"/>
<path d="M88.1 171.2h0m-31.5 9.8h0m29.1-.3h0" stroke="#12ff44" stroke-width="3.0" stroke-linecap="round"/>
<path d="M64.4 205h0m9.4 10h0" stroke="#12ff30" stroke-width="3.0" stroke-linecap="round"/>
<path d="M86.6 178.3h0m-27.8 2.6h0" stroke="#12ff1c" stroke-width="3.0" stroke-linecap="round"/>
<path d="M86.5 170.4h0m-1.8 6.5h0m-24.2 5.5h0m13.3 36.4h0m2.2 .3h0" stroke="#1cff12" stroke-width="3.0" stroke-linecap="round"/>
<path d="M63 196.7h0" stroke="#30ff12" stroke-width="3.0" stroke-linecap="round"/>
<path d="M61.1 178.7h0m-.8 5.4h0m20.7 13.7h0" stroke="#44ff12" stroke-width="3.0" stroke-linecap="round"/>
<path d="M85 169.2h0m-1.2 10.3h0m-.8 4.7h0m-19.4 14.7h0" stroke="#58ff12" stroke-width="3.0" stroke-linecap="round"/>
<path d="M81.8 191.7h0m-1.5 11.9h0" stroke="#6dff12" stroke-width="3.0" stroke-linecap="round"/>
<path d="M80.5 193.3h0" stroke="#81ff12" stroke-width="3.0" stroke-linecap="round"/>
<path d="M82.5 178.1h0m-20.7 10.7h0m1.9 2.6h0" stroke="#95ff12" stroke-width="3.0" stroke-linecap="round"/>
<path d="M82 171.6h0m-19.6 3.3h0m1.2 4h0m-1.5 2.9h0" stroke="#a9ff12" stroke-width="3.0" stroke-linecap="round"/>
<path d="M64.5 174.9h0m1.6 21.2h0" stroke="#bdff12" stroke-width="3.0" stroke-linecap="round"/>
<path d="M80.8 167.3h0m0 11.1h0m-15.4 5h0m1.2 22.3h0" stroke="#d2ff12" stroke-width="3.0" stroke-linecap="round"/>
<path d="M73.9 166.8h0m1.7 .1h0m1.4 1.2h0m-5.1 7.8h0m9 .8h0m-.2 6h0" stroke="#e6ff12" stroke-width="3.0" stroke-linecap="round"/>
<path d="M71.5 164h0m-4.1 3.8h0m-.2 6.8h0m6.5 .3h0m-6.8 7.3h0m13.3 2.8h0m-14.8 8.4h0m2-1.8h0" stroke="#faff12" stroke-width="3.0" stroke-linecap="round"/>
<path d="M73.5 170.8h0m1.8 7.7h0" stroke="#fff012" stroke-width="3.0" stroke-linecap="round"/>
<path d="M66.8 166.2h0m11.2 10.8h0" stroke="#ffdc12" stroke-width="3.0" stroke-linecap="round"/>
<path d="M71.4 182.5h0" stroke="#ffc712" stroke-width="3.0" stroke-linecap="round"/>
<path d="M72.2 172.2h0m.2 15.9h0m6.3 3.9h0" stroke="#ffb312" stroke-width="3.0" stroke-linecap="round"/>
<path d="M72.4 191.8h0" stroke="#ff8b12" stroke-width="3.0" stroke-linecap="round"/>
<path d="M75.4 196.7h0" stroke="#ff7712" stroke-width="3.0" stroke-linecap="round"/>
<path d="M78.2 199.2h0" stroke="#ff6312" stroke-width="3.0" stroke-linecap="round"/>
<path d="M70.5 200.7h0" stroke="#ff4e12" stroke-width="3.0" stroke-linecap="round"/>
<path d="M70.6 198.6h0m4.1 1.4h0m-2.3 6.3h0" stroke="#ff3a12" stroke-width="3.0" stroke-linecap="round"/>
<path d="M74.5 202.6h0m.9 3.4h0m-5.5 4h0m8.8 6.4h0" stroke="#ff1212" stroke-width="3.0" stroke-linecap="round"/>
<path d="M25.8 175.3h0m4.9-1.3h0m89.2-.7h0m1.2 2h0m11.5-.5h0m-112.5 1.8h0m8 .5h0m13.1 1h0m75.1 .1h0m18.3-1h0m-121 1.4h0m3.5 1.3h0m8.4-.9h0m6.4-.4h0m1.4 1.4h0m10.4-.3h0m72.2 .8h0m12.2-1.3h0m1.9 1.7h0m1.3-1.9h0m3.7 0h0m-116.6 2.7h0m1.8 2.5h0m9.8-2.1h0m2.1 1.3h0m11.9-.3h0m69.6 1.1h0m2.4 0h0m1-2.2h0m7.2-.1h0m-98.7 3.9h0m22.3-.3h0m70.2 .8h0m5.2 .6h0m1.3-1.2h0m-105.6 1.8h0m2 .5h0m12.8 1.4h0m11.3 .6h0m65.5-2.2h0m.7 2.2h0m6-1.8h0m3.5 .8h0m2.5-.1h0m3.8 1h0m.7-1.9h0m6.7 2.4h0m.7-1.6h0m-123.2 3.2h0m3.2 .3h0m.7-1.7h0m3.3 2.4h0m16.5-2.4h0m1.3 1.1h0m2-1h0m7.5 2.3h0m1.8-1.4h0m3.6-.5h0m55 2.4h0m13.1-1.9h0m-108.4 2.5h0m1.3 1.9h0m13.7 .1h0m.9-1.9h0m6.6-.7h0m1.7 .2h0m2.2 0h0m3.2 .2h0m3.6 1.2h0m3.4-1.6h0m0 1.9h0m2.1-1.4h0m1.2 1.5h0m52.9-1.5h0m7.8 2.1h0m1.1-1.9h0m1.7 .4h0m3.9-.4h0m3.1 2.3h0m2.8-.6h0m2.8-.5h0m1.1-1.5h0m1.3 1.2h0m1.7 .2h0m-120.3 3.1h0m2.9-1.5h0m2.7 0h0m15.6 .3h0m9.7 1.3h0m11.9-2h0m52.8 2.2h0m3.4-.8h0m4.2 .9h0m9.3-.8h0m9.3 .5h0m-112.7 1.7h0m12.7 .8h0m5.1 .1h0m3.2 .8h0m3.6-2.2h0m0 2.3h0m11.5-1.4h0m48.7-.2h0m6 2h0m1.5-1h0m12.7-.4h0m4-.3h0m3.5 1h0m-112.1 1.9h0m12.8-.3h0m3.2-.8h0m18 1.3h0m2.7-.9h0m46.6 .9h0m8.6 .5h0m13.2-.2h0m1.5-1.3h0m4.1 .5h0m-119.8 2.4h0m.7 1.6h0m14.9 .3h0m1.9-1.4h0m9.8 .7h0m7.3-.5h0m5-.3h0m.9 1.8h0m50.2-.3h0m23.2-.3h0m9.5 0h0m-116.6 4.2h0m.7-1.8h0m3.6 1.8h0m7.9-1.7h0m23 .8h0m1.4-1.4h0m1.7 .1h0m3.1 .7h0m2.2 .1h0m2.9 1.4h0m22.7-1h0m4.8 .8h0m3.5-1.9h0m11.3-.1h0m8.8 1.5h0m-104.1 2.2h0m2.8-.5h0m5.6-.7h0m.4 1.7h0m5-.2h0m23.6 .7h0m5.8-.6h0m10.6-.4h0m17.1 1.2h0m4.3-1.4h0m20.8 .8h0m3.7-1h0m7.7 1.5h0m9.8-.7h0m3.3 .5h0m-105.3 1.6h0m1.9 1h0m4.1-.8h0m4.2 .6h0m5-.3h0m.9-1.4h0m6.2 1.2h0m7.2-1.1h0m4.9 1.6h0m.2-1.7h0m2.1 .2h0m20.7 .7h0m3.7 1.8h0m4.5-.7h0m7.2-1.2h0m2.3 .4h0m.9 1.5h0m8.8-.3h0m5.6-1.9h0m.6 2h0m12.7-2.3h0m2.8 .7h0m-119.4 4h0m8.2-.8h0m1.8 .5h0m21.2 .9h0m7.8-2.5h0m7 .3h0m4 1.4h0m25.6-.3h0m6.7-.8h0m12.1 2.2h0m10.4 0h0m2.9-1.3h0m2.6 .9h0m4.2-1.9h0m-113.5 3.9h0m13.6-.5h0m7.4 0h0m3.7 0h0m15.8 .4h0m6.6-.1h0m3.5-.8h0m23.1-.5h0m40.4 1.2h0" stroke="#adadff" stroke-width="3.06" stroke-linecap="round"/>
<path d="M54.1 193.4h0m45.8 5.4h0" stroke="#adb4ff" stroke-width="3.06" stroke-linecap="round"/>
<path d="M121.7 173.2h0m-91.3 4.1h0m85.4-1.1h0m-69.6 3.3h0m-21.2 3.2h0m8.5-1h0m3.5 2.2h0m9.7 3h0m58.8 2.1h0m-72 6.5h0m22.9 .6h0m52.5-2.4h0m-10.6 5.6h0m21.5-1h0m-97.6 4.1h0m6.5-.7h0m20.3-1.8h0m47.1 1.4h0m5.1-1.2h0m-58.6 4.4h0m-16.2 1.6h0m82.7 3h0m21.3 2.9h0m-108 3.9h0m91.4 4.1h0m5.6-1.3h0m-7.2 3.2h0" stroke="#adbbff" stroke-width="3.06" stroke-linecap="round"/>
<path d="M110.2 175.5h0" stroke="#adc2ff" stroke-width="3.06" stroke-linecap="round"/>
<path d="M112.6 176.1h0" stroke="#adc9ff" stroke-width="3.06" stroke-linecap="round"/>
<path d="M104.1 180.3h0m-7.6 12.4h0" stroke="#add0ff" stroke-width="3.06" stroke-linecap="round"/>
<path d="M102 179.2h0m3.3 3.1h0m-10.6 10.3h0m-35.5 7.1h0" stroke="#add7ff" stroke-width="3.06" stroke-linecap="round"/>
<path d="M106.8 175.4h0m-.9 1.4h0m-19.9 24h0m1 6.4h0m-18.1 10.7h0" stroke="#addeff" stroke-width="3.06" stroke-linecap="round"/>
<path d="M101.2 173.2h0m2.2 .1h0m-51.8 8.1h0m51.2 1.4h0m-7.9 7.4h0m.9 6.5h0m-7.6 7.8h0m-2.8 3.3h0m-12.1 9.2h0" stroke="#ade5ff" stroke-width="3.06" stroke-linecap="round"/>
<path d="M49.4 174.8h0m.5 6.8h0m50.2 .7h0m2.6 3.1h0m-12.1 14.3h0" stroke="#adecff" stroke-width="3.06" stroke-linecap="round"/>
<path d="M101.2 175.1h0m-47.6 4.7h0m-1.5 3.3h0m46.5 2.2h0m-43.9 4.5h0m35.2 3.9h0m.3 1.7h0m-1 1.9h0m-18.4 20.2h0" stroke="#adf3ff" stroke-width="3.06" stroke-linecap="round"/>
<path d="M85.3 202.6h0" stroke="#adfaff" stroke-width="3.06" stroke-linecap="round"/>
<path d="M96.8 173.8h0m-42.7 13.8h0m36.7 2.4h0m-4.7 7.2h0m-5.9 15.3h0" stroke="#adfffd" stroke-width="3.06" stroke-linecap="round"/>
<path d="M93.8 177.2h0m-6.5 18.6h0" stroke="#adfff6" stroke-width="3.06" stroke-linecap="round"/>
<path d="M95.1 173.8h0m-7.5 20.4h0m-21.7 15h0" stroke="#adffef" stroke-width="3.06" stroke-linecap="round"/>
<path d="M57.7 190h0m28.1 9h0" stroke="#adffe8" stroke-width="3.06" stroke-linecap="round"/>
<path d="M89.9 177.8h0m-9 33.2h0" stroke="#adffe1" stroke-width="3.06" stroke-linecap="round"/>
<path d="M90.7 174.8h0m-1.3 1.2h0" stroke="#adffdb" stroke-width="3.06" stroke-linecap="round"/>
<path d="M60.8 197.2h0" stroke="#adffd4" stroke-width="3.06" stroke-linecap="round"/>
<path d="M86.9 183.6h0m-24.2 18.8h0" stroke="#adffcd" stroke-width="3.06" stroke-linecap="round"/>
<path d="M88.6 169.4h0m.8 4h0m-7.2 26.8h0" stroke="#adffc6" stroke-width="3.06" stroke-linecap="round"/>
<path d="M56.4 182.9h0m28.5 .3h0" stroke="#adffbf" stroke-width="3.06" stroke-linecap="round"/>
<path d="M86.8 168.5h0" stroke="#adffb8" stroke-width="3.06" stroke-linecap="round"/>
<path d="M59.5 189.6h0m23.7-.1h0m-6.4 24.5h0m-.8 3.2h0" stroke="#adffb1" stroke-width="3.06" stroke-linecap="round"/>
<path d="M61.5 195h0m21 1.4h0m-6.8 24.5h0" stroke="#b1ffad" stroke-width="3.06" stroke-linecap="round"/>
<path d="M57.7 170.7h0" stroke="#bfffad" stroke-width="3.06" stroke-linecap="round"/>
<path d="M83.2 182.1h0m-.7 3.9h0m-18.9 14.8h0" stroke="#c6ffad" stroke-width="3.06" stroke-linecap="round"/>
<path d="M62.6 193.4h0" stroke="#cdffad" stroke-width="3.06" stroke-linecap="round"/>
<path d="M80.5 199.6h0" stroke="#d4ffad" stroke-width="3.06" stroke-linecap="round"/>
<path d="M64 186.9h0m-.5 2.1h0m2 2.5h0" stroke="#dbffad" stroke-width="3.06" stroke-linecap="round"/>
<path d="M80.1 170.1h0" stroke="#e1ffad" stroke-width="3.06" stroke-linecap="round"/>
<path d="M79 168.7h0m1.5 26.8h0m-15.7 2.1h0" stroke="#e8ffad" stroke-width="3.06" stroke-linecap="round"/>
<path d="M78.6 166.8h0m-14 14.9h0m1.1 5.4h0m15.8 2.7h0" stroke="#efffad" stroke-width="3.06" stroke-linecap="round"/>
<path d="M79.6 165.3h0m-4.1 6.2h0m-12.4 1.9h0" stroke="#f6ffad" stroke-width="3.06" stroke-linecap="round"/>
<path d="M68.8 165.4h0m10.5 9.8h0m-14.8 1.7h0m1.5 8.2h0m.3 18.7h0" stroke="#fdffad" stroke-width="3.06" stroke-linecap="round"/>
<path d="M68.1 173.2h0m5.6-.3h0m-3.9 3.6h0m1.1 10.2h0m-4.4 11.1h0" stroke="#fff3ad" stroke-width="3.06" stroke-linecap="round"/>
<path d="M71.7 166.1h0m6 7.7h0m1.4 5.3h0m-8.9 5.2h0m3-1.8h0" stroke="#ffecad" stroke-width="3.06" stroke-linecap="round"/>
<path d="M77.6 187h0m1.4 9.7h0" stroke="#ffe5ad" stroke-width="3.06" stroke-linecap="round"/>
<path d="M69.4 187.5h0m9.5 6.6h0" stroke="#ffdead" stroke-width="3.06" stroke-linecap="round"/>
<path d="M76.4 200h0" stroke="#ffc2ad" stroke-width="3.06" stroke-linecap="round"/>
<path d="M68.2 209.4h0m8.9 1.8h0" stroke="#ffbbad" stroke-width="3.06" stroke-linecap="round"/>
<path d="M76.1 201.8h0m-2 10h0" stroke="#ffb4ad" stroke-width="3.06" stroke-linecap="round"/>
<path d="M70.4 204.1h0m8.5 6.8h0m-3.8 2.3h0" stroke="#ffadad" stroke-width="3.06" stroke-linecap="round"/>
<path d="M25.8 175.3h0m4.9-1.3h0m89.2-.7h0m1.2 2h0m11.5-.5h0m-112.5 1.8h0m8 .5h0m13.1 1h0m75.1 .1h0m18.3-1h0m-121 1.4h0m3.5 1.3h0m8.4-.9h0m6.4-.4h0m1.4 1.4h0m10.4-.3h0m72.2 .8h0m12.2-1.3h0m1.9 1.7h0m1.3-1.9h0m3.7 0h0m-116.6 2.7h0m1.8 2.5h0m9.8-2.1h0m2.1 1.3h0m11.9-.3h0m69.6 1.1h0m2.4 0h0m1-2.2h0m7.2-.1h0m-98.7 3.9h0m22.3-.3h0m70.2 .8h0m5.2 .6h0m1.3-1.2h0m-105.6 1.8h0m2 .5h0m12.8 1.4h0m11.3 .6h0m65.5-2.2h0m.7 2.2h0m6-1.8h0m3.5 .8h0m2.5-.1h0m3.8 1h0m.7-1.9h0m6.7 2.4h0m.7-1.6h0m-123.2 3.2h0m3.2 .3h0m.7-1.7h0m3.3 2.4h0m16.5-2.4h0m1.3 1.1h0m2-1h0m7.5 2.3h0m1.8-1.4h0m3.6-.5h0m55 2.4h0m13.1-1.9h0m-108.4 2.5h0m1.3 1.9h0m13.7 .1h0m.9-1.9h0m6.6-.7h0m1.7 .2h0m2.2 0h0m3.2 .2h0m3.6 1.2h0m3.4-1.6h0m0 1.9h0m2.1-1.4h0m1.2 1.5h0m52.9-1.5h0m7.8 2.1h0m1.1-1.9h0m1.7 .4h0m3.9-.4h0m3.1 2.3h0m2.8-.6h0m2.8-.5h0m1.1-1.5h0m1.3 1.2h0m1.7 .2h0m-120.3 3.1h0m2.9-1.5h0m2.7 0h0m15.6 .3h0m9.7 1.3h0m11.9-2h0m52.8 2.2h0m3.4-.8h0m4.2 .9h0m9.3-.8h0m9.3 .5h0m-112.7 1.7h0m12.7 .8h0m5.1 .1h0m3.2 .8h0m3.6-2.2h0m0 2.3h0m11.5-1.4h0m48.7-.2h0m6 2h0m1.5-1h0m12.7-.4h0m4-.3h0m3.5 1h0m-112.1 1.9h0m12.8-.3h0m3.2-.8h0m18 1.3h0m2.7-.9h0m46.6 .9h0m8.6 .5h0m13.2-.2h0m1.5-1.3h0m4.1 .5h0m-119.8 2.4h0m.7 1.6h0m14.9 .3h0m1.9-1.4h0m9.8 .7h0m7.3-.5h0m5-.3h0m.9 1.8h0m50.2-.3h0m23.2-.3h0m9.5 0h0m-116.6 4.2h0m.7-1.8h0m3.6 1.8h0m7.9-1.7h0m23 .8h0m1.4-1.4h0m1.7 .1h0m3.1 .7h0m2.2 .1h0m2.9 1.4h0m22.7-1h0m4.8 .8h0m3.5-1.9h0m11.3-.1h0m8.8 1.5h0m-104.1 2.2h0m2.8-.5h0m5.6-.7h0m.4 1.7h0m5-.2h0m23.6 .7h0m5.8-.6h0m10.6-.4h0m17.1 1.2h0m4.3-1.4h0m20.8 .8h0m3.7-1h0m7.7 1.5h0m9.8-.7h0m3.3 .5h0m-105.3 1.6h0m1.9 1h0m4.1-.8h0m4.2 .6h0m5-.3h0m.9-1.4h0m6.2 1.2h0m7.2-1.1h0m4.9 1.6h0m.2-1.7h0m2.1 .2h0m20.7 .7h0m3.7 1.8h0m4.5-.7h0m7.2-1.2h0m2.3 .4h0m.9 1.5h0m8.8-.3h0m5.6-1.9h0m.6 2h0m12.7-2.3h0m2.8 .7h0m-119.4 4h0m8.2-.8h0m1.8 .5h0m21.2 .9h0m7.8-2.5h0m7 .3h0m4 1.4h0m25.6-.3h0m6.7-.8h0m12.1 2.2h0m10.4 0h0m2.9-1.3h0m2.6 .9h0m4.2-1.9h0m-113.5 3.9h0m13.6-.5h0m7.4 0h0m3.7 0h0m15.8 .4h0m6.6-.1h0m3.5-.8h0m23.1-.5h0m40.4 1.2h0" stroke="#1212ff" stroke-width="2.7" stroke-linecap="round"/>
<path d="M54.1 193.4h0m45.8 5.4h0" stroke="#182bff" stroke-width="2.7" stroke-linecap="round"/>
<path d="M121.7 173.2h0m-91.3 4.1h0m85.4-1.1h0m-69.6 3.3h0m-21.2 3.2h0m8.5-1h0m3.5 2.2h0m9.7 3h0m58.8 2.1h0m-72 6.5h0m22.9 .6h0m52.5-2.4h0m-10.6 5.6h0m21.5-1h0m-97.6 4.1h0m6.5-.7h0m20.3-1.8h0m47.1 1.4h0m5.1-1.2h0m-58.6 4.4h0m-16.2 1.6h0m82.7 3h0m21.3 2.9h0m-108 3.9h0m91.4 4.1h0m5.6-1.3h0m-7.2 3.2h0" stroke="#1e44ff" stroke-width="2.7" stroke-linecap="round"/>
<path d="M110.2 175.5h0" stroke="#245cff" stroke-width="2.7" stroke-linecap="round"/>
<path d="M112.6 176.1h0" stroke="#2a72ff" stroke-width="2.7" stroke-linecap="round"/>
<path d="M104.1 180.3h0m-7.6 12.4h0" stroke="#3088ff" stroke-width="2.7" stroke-linecap="round"/>
<path d="M102 179.2h0m3.3 3.1h0m-10.6 10.3h0m-35.5 7.1h0" stroke="#369cff" stroke-width="2.7" stroke-linecap="round"/>
<path d="M106.8 175.4h0m-.9 1.4h0m-19.9 24h0m1 6.4h0m-18.1 10.7h0" stroke="#3cb0ff" stroke-width="2.7" stroke-linecap="round"/>
<path d="M101.2 173.2h0m2.2 .1h0m-51.8 8.1h0m51.2 1.4h0m-7.9 7.4h0m.9 6.5h0m-7.6 7.8h0m-2.8 3.3h0m-12.1 9.2h0" stroke="#42c3ff" stroke-width="2.7" stroke-linecap="round"/>
<path d="M49.4 174.8h0m.5 6.8h0m50.2 .7h0m2.6 3.1h0m-12.1 14.3h0" stroke="#48d4ff" stroke-width="2.7" stroke-linecap="round"/>
<path d="M101.2 175.1h0m-47.6 4.7h0m-1.5 3.3h0m46.5 2.2h0m-43.9 4.5h0m35.2 3.9h0m.3 1.7h0m-1 1.9h0m-18.4 20.2h0" stroke="#46e4ff" stroke-width="2.7" stroke-linecap="round"/>
<path d="M85.3 202.6h0" stroke="#40f3ff" stroke-width="2.7" stroke-linecap="round"/>
<path d="M96.8 173.8h0m-42.7 13.8h0m36.7 2.4h0m-4.7 7.2h0m-5.9 15.3h0" stroke="#3afffb" stroke-width="2.7" stroke-linecap="round"/>
<path d="M93.8 177.2h0m-6.5 18.6h0" stroke="#34ffe9" stroke-width="2.7" stroke-linecap="round"/>
<path d="M95.1 173.8h0m-7.5 20.4h0m-21.7 15h0" stroke="#2effd7" stroke-width="2.7" stroke-linecap="round"/>
<path d="M57.7 190h0m28.1 9h0" stroke="#29ffc4" stroke-width="2.7" stroke-linecap="round"/>
<path d="M89.9 177.8h0m-9 33.2h0" stroke="#23ffaf" stroke-width="2.7" stroke-linecap="round"/>
<path d="M90.7 174.8h0m-1.3 1.2h0" stroke="#1dff9a" stroke-width="2.7" stroke-linecap="round"/>
<path d="M60.8 197.2h0" stroke="#17ff83" stroke-width="2.7" stroke-linecap="round"/>
<path d="M86.9 183.6h0m-24.2 18.8h0" stroke="#12ff6d" stroke-width="2.7" stroke-linecap="round"/>
<path d="M88.6 169.4h0m.8 4h0m-7.2 26.8h0" stroke="#12ff58" stroke-width="2.7" stroke-linecap="round"/>
<path d="M56.4 182.9h0m28.5 .3h0" stroke="#12ff44" stroke-width="2.7" stroke-linecap="round"/>
<path d="M86.8 168.5h0" stroke="#12ff30" stroke-width="2.7" stroke-linecap="round"/>
<path d="M59.5 189.6h0m23.7-.1h0m-6.4 24.5h0m-.8 3.2h0" stroke="#12ff1c" stroke-width="2.7" stroke-linecap="round"/>
<path d="M61.5 195h0m21 1.4h0m-6.8 24.5h0" stroke="#1cff12" stroke-width="2.7" stroke-linecap="round"/>
<path d="M57.7 170.7h0" stroke="#44ff12" stroke-width="2.7" stroke-linecap="round"/>
<path d="M83.2 182.1h0m-.7 3.9h0m-18.9 14.8h0" stroke="#58ff12" stroke-width="2.7" stroke-linecap="round"/>
<path d="M62.6 193.4h0" stroke="#6dff12" stroke-width="2.7" stroke-linecap="round"/>
<path d="M80.5 199.6h0" stroke="#81ff12" stroke-width="2.7" stroke-linecap="round"/>
<path d="M64 186.9h0m-.5 2.1h0m2 2.5h0" stroke="#95ff12" stroke-width="2.7" stroke-linecap="round"/>
<path d="M80.1 170.1h0" stroke="#a9ff12" stroke-width="2.7" stroke-linecap="round"/>
<path d="M79 168.7h0m1.5 26.8h0m-15.7 2.1h0" stroke="#bdff12" stroke-width="2.7" stroke-linecap="round"/>
<path d="M78.6 166.8h0m-14 14.9h0m1.1 5.4h0m15.8 2.7h0" stroke="#d2ff12" stroke-width="2.7" stroke-linecap="round"/>
<path d="M79.6 165.3h0m-4.1 6.2h0m-12.4 1.9h0" stroke="#e6ff12" stroke-width="2.7" stroke-linecap="round"/>
<path d="M68.8 165.4h0m10.5 9.8h0m-14.8 1.7h0m1.5 8.2h0m.3 18.7h0" stroke="#faff12" stroke-width="2.7" stroke-linecap="round"/>
<path d="M68.1 173.2h0m5.6-.3h0m-3.9 3.6h0m1.1 10.2h0m-4.4 11.1h0" stroke="#ffdc12" stroke-width="2.7" stroke-linecap="round"/>
<path d="M71.7 166.1h0m6 7.7h0m1.4 5.3h0m-8.9 5.2h0m3-1.8h0" stroke="#ffc712" stroke-width="2.7" stroke-linecap="round"/>
<path d="M77.6 187h0m1.4 9.7h0" stroke="#ffb312" stroke-width="2.7" stroke-linecap="round"/>
<path d="M69.4 187.5h0m9.5 6.6h0" stroke="#ff9f12" stroke-width="2.7" stroke-linecap="round"/>
<path d="M76.4 200h0" stroke="#ff4e12" stroke-width="2.7" stroke-linecap="round"/>
<path d="M68.2 209.4h0m8.9 1.8h0" stroke="#ff3a12" stroke-width="2.7" stroke-linecap="round"/>
<path d="M76.1 201.8h0m-2 10h0" stroke="#ff2612" stroke-width="2.7" stroke-linecap="round"/>
<path d="M70.4 204.1h0m8.5 6.8h0m-3.8 2.3h0" stroke="#ff1212" stroke-width="2.7" stroke-linecap="round"/>
<path d="M16.8 174.6h0m8.8-1.1h0m13.1 1.3h0m88.6-.1h0m-115.3 .9h0m6.2 .2h0m1.1 2.4h0m17.1-2h0m82.5 1.3h0m1.5 .9h0m2.5-2.2h0m-111 4.3h0m12.1-.5h0m1.4 1h0m9.9 .1h0m1.7-1.7h0m.4 1.8h0m3 .2h0m1.1-1.5h0m76.2 .2h0m17.5 .8h0m-122.9 1.8h0m2.7 .8h0m2.5 0h0m12.1 .5h0m4.7-.4h0m8.2-1.5h0m91.3 2.2h0m.9-1.8h0m-122.1 3.7h0m3-.6h0m11.5-1h0m.4 2.2h0m22.4 0h0m71.3-1.6h0m13.5 1.5h0m-119.1 1.4h0m9 .5h0m6.2 1.8h0m7.9-2.5h0m1.7 2h0m68.2-.2h0m3.8-1.3h0m9.6 2.1h0m-108.8 2.8h0m.3-2.4h0m7.9 1.9h0m12.2-1h0m6.4 .4h0m69.7-.6h0m3.8 .1h0m1.8 .8h0m2.1-1h0m3.4 1.7h0m3.5-1.3h0m-109.7 3.2h0m7.8-.4h0m6.3 .7h0m73.8 .4h0m16.8 .5h0m4.9-2.7h0m8.7 .4h0m-119.1 4.6h0m21.4 .9h0m14.1-2.1h0m5.2 1.6h0m47.2-.8h0m15 .8h0m11.8-1.7h0m.1 1.7h0m-116.2 3.2h0m2.2-1.8h0m4.5 1.5h0m4.7-.3h0m23 .1h0m1.7 .7h0m1.8-1h0m52.8-1.8h0m16.5 2.6h0m7.9-1.1h0m2.4 1.3h0m-118.5 1.3h0m3.5-.8h0m2.2 .1h0m2.8 2.1h0m9.4-1h0m2.3 .2h0m8.6-.9h0m5 1.4h0m3.7 .4h0m3.9-2h0m.8 2.2h0m3.4 0h0m2.4-.5h0m33.8-.1h0m16.1-.5h0m5.5-.5h0m9.9 1.6h0m-109.1 2.7h0m3.3-1.3h0m15.5-1.2h0m2 1.2h0m7.3 1.1h0m16.7 .5h0m2.3 .1h0m33-2h0m8.4 1.1h0m.9-1.6h0m4.2 .5h0m1.1 1.4h0m1.3-2.1h0m5.5 1.4h0m10.2 .4h0m.1-1.8h0m-114 3.2h0m2.9 2h0m6.3-1.3h0m12.5-1.1h0m4.3 2.1h0m2.9-1.7h0m.4 1.7h0m1.8-.6h0m1.6-1h0m2.6 1.1h0m7.1 .8h0m2.3-.6h0m32.1-1.1h0m11.4 2h0m4-2h0m2.7 1.5h0m3.9-2.3h0m2.3 .1h0m0 2.6h0m3.6-.9h0m4.4-1.3h0m2.1 2.4h0m4.2 0h0m2.9-1.7h0m-112.8 4.7h0m9.3-2.4h0m4.8 1.4h0m4.1-1.3h0m2.6 2h0m1.4-1.2h0m22.4 0h0m31.5-.4h0m6.3 1.6h0m1.7 .1h0m1.8-.6h0m4.9-.3h0m3.1 .7h0m22.1-.5h0m-122.4 2.4h0m2.5 .6h0m8.9 .9h0m11.4-.4h0m29.1 .3h0m3.1-2.4h0m15.7 2.3h0m4-1.6h0m2.2-.1h0m4.7-.9h0m2.1 .3h0m14.2 .9h0m5.3-1h0m.5 2h0m11.4-.3h0m3.2 .3h0m2.6 .5h0m-117.5 1.1h0m10.1 1.8h0m6.5-2.1h0m3.9 1h0m12.5 1.3h0m3.1-1.7h0m2.4 1.4h0m2-.2h0m4.6-.4h0m26.3-.2h0m5.4 0h0m10.1 .5h0m11.6-1.6h0m-101.8 3h0m11.2 .4h0m14.5-.8h0m4.9-.2h0m2.3 1.5h0m13.6-.5h0m5.1-.1h0m37.4-.4h0m6.2 .9h0m18.1 .1h0m1.7-.7h0m6.2 .4h0" stroke="#adadff" stroke-width="2.76" stroke-linecap="round"/>
<path d="M95.7 199.3h0m-13.5 21.2h0" stroke="#adb4ff" stroke-width="2.76" stroke-linecap="round"/>
<path d="M27.7 179.7h0m21.4 3.7h0m61.4 .8h0m13.7-.2h0m-110.6 .8h0m25.1 .5h0m-6.7 3.6h0m16.4-1.2h0m76.6 1.8h0m-83.2 2.7h0m61.4 5.2h0m-1.5 4.6h0m30.6 3h0m-35.9 6.3h0m-35 1.4h0m58.9 4.1h0m-100.5 2.3h0m9.6-.9h0m17.9 1.5h0m20.3-.2h0m39.6-.2h0m10.2-.6h0m-3.4 3.4h0" stroke="#adbbff" stroke-width="2.76" stroke-linecap="round"/>
<path d="M116.8 174.2h0m-70.9 2.6h0m66.4 5.1h0m-4 4.6h0m-9.5 9.9h0" stroke="#adc2ff" stroke-width="2.76" stroke-linecap="round"/>
<path d="M109.7 179.2h0m-56.8 9.6h0m48.9 .7h0m-43.6 11.6h0m22.9 15.7h0" stroke="#adc9ff" stroke-width="2.76" stroke-linecap="round"/>
<path d="M107.4 172.1h0m1.2 12.4h0m-5.3 4.2h0" stroke="#add0ff" stroke-width="2.76" stroke-linecap="round"/>
<path d="M108.5 173.7h0m-60.8 7h0m59.4-.2h0m-.5 3.5h0" stroke="#add7ff" stroke-width="2.76" stroke-linecap="round"/>
<path d="M104.9 175.3h0m5.8-1.8h0m-10.1 12.4h0m-.3 2.5h0m-4.2 6h0m-5.9 9.6h0" stroke="#addeff" stroke-width="2.76" stroke-linecap="round"/>
<path d="M109.3 177.5h0m-3.9 1.5h0m-53.3 6.8h0m4.2 7.7h0m4.5 9.5h0" stroke="#ade5ff" stroke-width="2.76" stroke-linecap="round"/>
<path d="M92.2 195.2h0m-21 26.4h0" stroke="#adecff" stroke-width="2.76" stroke-linecap="round"/>
<path d="M48.2 176.4h0m4.6 1.7h0m49.2-.7h0m-2.4 3.2h0m.7-1.6h0m-6.6 5.3h0m-6.8 19.1h0" stroke="#adf3ff" stroke-width="2.76" stroke-linecap="round"/>
<path d="M49.9 173.2h0m46.2 8.4h0m-1.1 6.5h0" stroke="#adfaff" stroke-width="2.76" stroke-linecap="round"/>
<path d="M56.4 191.7h0" stroke="#adfffd" stroke-width="2.76" stroke-linecap="round"/>
<path d="M96.3 172.1h0m-43.2 3.9h0m31 30.1h0" stroke="#adfff6" stroke-width="2.76" stroke-linecap="round"/>
<path d="M54.7 178.3h0m34.3 10.9h0" stroke="#adffef" stroke-width="2.76" stroke-linecap="round"/>
<path d="M56.2 188.9h0m6.5 15.4h0" stroke="#adffe8" stroke-width="2.76" stroke-linecap="round"/>
<path d="M89.4 181.2h0" stroke="#adffe1" stroke-width="2.76" stroke-linecap="round"/>
<path d="M55.1 172.8h0m38.3 .6h0m-8.4 22h0m-3 9.7h0" stroke="#adffd4" stroke-width="2.76" stroke-linecap="round"/>
<path d="M56.5 179.2h0m27.4 18.3h0" stroke="#adffcd" stroke-width="2.76" stroke-linecap="round"/>
<path d="M87.5 180.5h0m-3.6 19.8h0m-2.7 8.5h0m-2 9.5h0" stroke="#adffc6" stroke-width="2.76" stroke-linecap="round"/>
<path d="M57.6 174.9h0m.6 9h0m26.5 9.5h0" stroke="#adffbf" stroke-width="2.76" stroke-linecap="round"/>
<path d="M59.5 185.8h0" stroke="#adffb1" stroke-width="2.76" stroke-linecap="round"/>
<path d="M86.6 176.5h0m-24.8 8.8h0m21.7 2.2h0m-1.6 6.9h0" stroke="#b8ffad" stroke-width="2.76" stroke-linecap="round"/>
<path d="M84.3 166.9h0m-23.3 5.4h0m23.8 2.1h0" stroke="#bfffad" stroke-width="2.76" stroke-linecap="round"/>
<path d="M59.8 175.3h0m20.9 26.7h0" stroke="#cdffad" stroke-width="2.76" stroke-linecap="round"/>
<path d="M81.9 174.2h0m-18.7 10.2h0m3.5 23h0" stroke="#dbffad" stroke-width="2.76" stroke-linecap="round"/>
<path d="M61 170.4h0m20.8 17.2h0m-17.5 8.1h0" stroke="#e1ffad" stroke-width="2.76" stroke-linecap="round"/>
<path d="M63.9 168.8h0m-.7 2.6h0m3 1.3h0" stroke="#e8ffad" stroke-width="2.76" stroke-linecap="round"/>
<path d="M73.2 164.9h0m6.5 7h0m-14.1 7.7h0" stroke="#efffad" stroke-width="2.76" stroke-linecap="round"/>
<path d="M68.2 170h0m-.5 15.1h0" stroke="#f6ffad" stroke-width="2.76" stroke-linecap="round"/>
<path d="M76.9 165h0m-6.9 2h0m-1.5 16.5h0m-1.1 3.9h0m-1.4 12.8h0m13.3 5h0" stroke="#fdffad" stroke-width="2.76" stroke-linecap="round"/>
<path d="M65.5 167.5h0m5 1.7h0m2.1-1.2h0m1.6 8.9h0m-4.6 4.7h0m-1.3 11.5h0m11.1 15.7h0" stroke="#fffaad" stroke-width="2.76" stroke-linecap="round"/>
<path d="M77.3 171.1h0m-3.7 8.4h0m-4.8 9.9h0" stroke="#fff3ad" stroke-width="2.76" stroke-linecap="round"/>
<path d="M76.7 175.6h0m-5.7 3.5h0m5.9-.1h0" stroke="#ffecad" stroke-width="2.76" stroke-linecap="round"/>
<path d="M71.1 189.6h0m6.5-.2h0m-10.1 9.8h0" stroke="#ffe5ad" stroke-width="2.76" stroke-linecap="round"/>
<path d="M75.7 189.6h0m-7.3 7.5h0m9.8 5.4h0" stroke="#ffdead" stroke-width="2.76" stroke-linecap="round"/>
<path d="M77.1 192.9h0m-9.4 8.1h0" stroke="#ffd0ad" stroke-width="2.76" stroke-linecap="round"/>
<path d="M73.3 196.9h0m4 .4h0" stroke="#ffc9ad" stroke-width="2.76" stroke-linecap="round"/>
<path d="M69.1 202h0m7.1 1.8h0m-5.1 7.5h0" stroke="#ffbbad" stroke-width="2.76" stroke-linecap="round"/>
<path d="M69.2 207.2h0m6 3.2h0" stroke="#ffb4ad" stroke-width="2.76" stroke-linecap="round"/>
<path d="M71.9 202.3h0m-3.3 2.9h0m4-.6h0m5.1 1.2h0m-9.1 7h0" stroke="#ffadad" stroke-width="2.76" stroke-linecap="round"/>
<path d="M16.8 174.6h0m8.8-1.1h0m13.1 1.3h0m88.6-.1h0m-115.3 .9h0m6.2 .2h0m1.1 2.4h0m17.1-2h0m82.5 1.3h0m1.5 .9h0m2.5-2.2h0m-111 4.3h0m12.1-.5h0m1.4 1h0m9.9 .1h0m1.7-1.7h0m.4 1.8h0m3 .2h0m1.1-1.5h0m76.2 .2h0m17.5 .8h0m-122.9 1.8h0m2.7 .8h0m2.5 0h0m12.1 .5h0m4.7-.4h0m8.2-1.5h0m91.3 2.2h0m.9-1.8h0m-122.1 3.7h0m3-.6h0m11.5-1h0m.4 2.2h0m22.4 0h0m71.3-1.6h0m13.5 1.5h0m-119.1 1.4h0m9 .5h0m6.2 1.8h0m7.9-2.5h0m1.7 2h0m68.2-.2h0m3.8-1.3h0m9.6 2.1h0m-108.8 2.8h0m.3-2.4h0m7.9 1.9h0m12.2-1h0m6.4 .4h0m69.7-.6h0m3.8 .1h0m1.8 .8h0m2.1-1h0m3.4 1.7h0m3.5-1.3h0m-109.7 3.2h0m7.8-.4h0m6.3 .7h0m73.8 .4h0m16.8 .5h0m4.9-2.7h0m8.7 .4h0m-119.1 4.6h0m21.4 .9h0m14.1-2.1h0m5.2 1.6h0m47.2-.8h0m15 .8h0m11.8-1.7h0m.1 1.7h0m-116.2 3.2h0m2.2-1.8h0m4.5 1.5h0m4.7-.3h0m23 .1h0m1.7 .7h0m1.8-1h0m52.8-1.8h0m16.5 2.6h0m7.9-1.1h0m2.4 1.3h0m-118.5 1.3h0m3.5-.8h0m2.2 .1h0m2.8 2.1h0m9.4-1h0m2.3 .2h0m8.6-.9h0m5 1.4h0m3.7 .4h0m3.9-2h0m.8 2.2h0m3.4 0h0m2.4-.5h0m33.8-.1h0m16.1-.5h0m5.5-.5h0m9.9 1.6h0m-109.1 2.7h0m3.3-1.3h0m15.5-1.2h0m2 1.2h0m7.3 1.1h0m16.7 .5h0m2.3 .1h0m33-2h0m8.4 1.1h0m.9-1.6h0m4.2 .5h0m1.1 1.4h0m1.3-2.1h0m5.5 1.4h0m10.2 .4h0m.1-1.8h0m-114 3.2h0m2.9 2h0m6.3-1.3h0m12.5-1.1h0m4.3 2.1h0m2.9-1.7h0m.4 1.7h0m1.8-.6h0m1.6-1h0m2.6 1.1h0m7.1 .8h0m2.3-.6h0m32.1-1.1h0m11.4 2h0m4-2h0m2.7 1.5h0m3.9-2.3h0m2.3 .1h0m0 2.6h0m3.6-.9h0m4.4-1.3h0m2.1 2.4h0m4.2 0h0m2.9-1.7h0m-112.8 4.7h0m9.3-2.4h0m4.8 1.4h0m4.1-1.3h0m2.6 2h0m1.4-1.2h0m22.4 0h0m31.5-.4h0m6.3 1.6h0m1.7 .1h0m1.8-.6h0m4.9-.3h0m3.1 .7h0m22.1-.5h0m-122.4 2.4h0m2.5 .6h0m8.9 .9h0m11.4-.4h0m29.1 .3h0m3.1-2.4h0m15.7 2.3h0m4-1.6h0m2.2-.1h0m4.7-.9h0m2.1 .3h0m14.2 .9h0m5.3-1h0m.5 2h0m11.4-.3h0m3.2 .3h0m2.6 .5h0m-117.5 1.1h0m10.1 1.8h0m6.5-2.1h0m3.9 1h0m12.5 1.3h0m3.1-1.7h0m2.4 1.4h0m2-.2h0m4.6-.4h0m26.3-.2h0m5.4 0h0m10.1 .5h0m11.6-1.6h0m-101.8 3h0m11.2 .4h0m14.5-.8h0m4.9-.2h0m2.3 1.5h0m13.6-.5h0m5.1-.1h0m37.4-.4h0m6.2 .9h0m18.1 .1h0m1.7-.7h0m6.2 .4h0" stroke="#1212ff" stroke-width="2.4" stroke-linecap="round"/>
<path d="M95.7 199.3h0m-13.5 21.2h0" stroke="#182bff" stroke-width="2.4" stroke-linecap="round"/>
<path d="M27.7 179.7h0m21.4 3.7h0m61.4 .8h0m13.7-.2h0m-110.6 .8h0m25.1 .5h0m-6.7 3.6h0m16.4-1.2h0m76.6 1.8h0m-83.2 2.7h0m61.4 5.2h0m-1.5 4.6h0m30.6 3h0m-35.9 6.3h0m-35 1.4h0m58.9 4.1h0m-100.5 2.3h0m9.6-.9h0m17.9 1.5h0m20.3-.2h0m39.6-.2h0m10.2-.6h0m-3.4 3.4h0" stroke="#1e44ff" stroke-width="2.4" stroke-linecap="round"/>
<path d="M116.8 174.2h0m-70.9 2.6h0m66.4 5.1h0m-4 4.6h0m-9.5 9.9h0" stroke="#245cff" stroke-width="2.4" stroke-linecap="round"/>
<path d="M109.7 179.2h0m-56.8 9.6h0m48.9 .7h0m-43.6 11.6h0m22.9 15.7h0" stroke="#2a72ff" stroke-width="2.4" stroke-linecap="round"/>
<path d="M107.4 172.1h0m1.2 12.4h0m-5.3 4.2h0" stroke="#3088ff" stroke-width="2.4" stroke-linecap="round"/>
<path d="M108.5 173.7h0m-60.8 7h0m59.4-.2h0m-.5 3.5h0" stroke="#369cff" stroke-width="2.4" stroke-linecap="round"/>
<path d="M104.9 175.3h0m5.8-1.8h0m-10.1 12.4h0m-.3 2.5h0m-4.2 6h0m-5.9 9.6h0" stroke="#3cb0ff" stroke-width="2.4" stroke-linecap="round"/>
<path d="M109.3 177.5h0m-3.9 1.5h0m-53.3 6.8h0m4.2 7.7h0m4.5 9.5h0" stroke="#42c3ff" stroke-width="2.4" stroke-linecap="round"/>
<path d="M92.2 195.2h0m-21 26.4h0" stroke="#48d4ff" stroke-width="2.4" stroke-linecap="round"/>
<path d="M48.2 176.4h0m4.6 1.7h0m49.2-.7h0m-2.4 3.2h0m.7-1.6h0m-6.6 5.3h0m-6.8 19.1h0" stroke="#46e4ff" stroke-width="2.4" stroke-linecap="round"/>
<path d="M49.9 173.2h0m46.2 8.4h0m-1.1 6.5h0" stroke="#40f3ff" stroke-width="2.4" stroke-linecap="round"/>
<path d="M56.4 191.7h0" stroke="#3afffb" stroke-width="2.4" stroke-linecap="round"/>
<path d="M96.3 172.1h0m-43.2 3.9h0m31 30.1h0" stroke="#34ffe9" stroke-width="2.4" stroke-linecap="round"/>
<path d="M54.7 178.3h0m34.3 10.9h0" stroke="#2effd7" stroke-width="2.4" stroke-linecap="round"/>
<path d="M56.2 188.9h0m6.5 15.4h0" stroke="#29ffc4" stroke-width="2.4" stroke-linecap="round"/>
<path d="M89.4 181.2h0" stroke="#23ffaf" stroke-width="2.4" stroke-linecap="round"/>
<path d="M55.1 172.8h0m38.3 .6h0m-8.4 22h0m-3 9.7h0" stroke="#17ff83" stroke-width="2.4" stroke-linecap="round"/>
<path d="M56.5 179.2h0m27.4 18.3h0" stroke="#12ff6d" stroke-width="2.4" stroke-linecap="round"/>
<path d="M87.5 180.5h0m-3.6 19.8h0m-2.7 8.5h0m-2 9.5h0" stroke="#12ff58" stroke-width="2.4" stroke-linecap="round"/>
<path d="M57.6 174.9h0m.6 9h0m26.5 9.5h0" stroke="#12ff44" stroke-width="2.4" stroke-linecap="round"/>
<path d="M59.5 185.8h0" stroke="#12ff1c" stroke-width="2.4" stroke-linecap="round"/>
<path d="M86.6 176.5h0m-24.8 8.8h0m21.7 2.2h0m-1.6 6.9h0" stroke="#30ff12" stroke-width="2.4" stroke-linecap="round"/>
<path d="M84.3 166.9h0m-23.3 5.4h0m23.8 2.1h0" stroke="#44ff12" stroke-width="2.4" stroke-linecap="round"/>
<path d="M59.8 175.3h0m20.9 26.7h0" stroke="#6dff12" stroke-width="2.4" stroke-linecap="round"/>
<path d="M81.9 174.2h0m-18.7 10.2h0m3.5 23h0" stroke="#95ff12" stroke-width="2.4" stroke-linecap="round"/>
<path d="M61 170.4h0m20.8 17.2h0m-17.5 8.1h0" stroke="#a9ff12" stroke-width="2.4" stroke-linecap="round"/>
<path d="M63.9 168.8h0m-.7 2.6h0m3 1.3h0" stroke="#bdff12" stroke-width="2.4" stroke-linecap="round"/>
<path d="M73.2 164.9h0m6.5 7h0m-14.1 7.7h0" stroke="#d2ff12" stroke-width="2.4" stroke-linecap="round"/>
<path d="M68.2 170h0m-.5 15.1h0" stroke="#e6ff12" stroke-width="2.4" stroke-linecap="round"/>
<path d="M76.9 165h0m-6.9 2h0m-1.5 16.5h0m-1.1 3.9h0m-1.4 12.8h0m13.3 5h0" stroke="#faff12" stroke-width="2.4" stroke-linecap="round"/>
<path d="M65.5 167.5h0m5 1.7h0m2.1-1.2h0m1.6 8.9h0m-4.6 4.7h0m-1.3 11.5h0m11.1 15.7h0" stroke="#fff012" stroke-width="2.4" stroke-linecap="round"/>
<path d="M77.3 171.1h0m-3.7 8.4h0m-4.8 9.9h0" stroke="#ffdc12" stroke-width="2.4" stroke-linecap="round"/>
<path d="M76.7 175.6h0m-5.7 3.5h0m5.9-.1h0" stroke="#ffc712" stroke-width="2.4" stroke-linecap="round"/>
<path d="M71.1 189.6h0m6.5-.2h0m-10.1 9.8h0" stroke="#ffb312" stroke-width="2.4" stroke-linecap="round"/>
<path d="M75.7 189.6h0m-7.3 7.5h0m9.8 5.4h0" stroke="#ff9f12" stroke-width="2.4" stroke-linecap="round"/>
<path d="M77.1 192.9h0m-9.4 8.1h0" stroke="#ff7712" stroke-width="2.4" stroke-linecap="round"/>
<path d="M73.3 196.9h0m4 .4h0" stroke="#ff6312" stroke-width="2.4" stroke-linecap="round"/>
<path d="M69.1 202h0m7.1 1.8h0m-5.1 7.5h0" stroke="#ff3a12" stroke-width="2.4" stroke-linecap="round"/>
<path d="M69.2 207.2h0m6 3.2h0" stroke="#ff2612" stroke-width="2.4" stroke-linecap="round"/>
<path d="M71.9 202.3h0m-3.3 2.9h0m4-.6h0m5.1 1.2h0m-9.1 7h0" stroke="#ff1212" stroke-width="2.4" stroke-linecap="round"/>
<path d="M43.2 172.1h0m-20.8 1.7h0m1.7 .8h0m4 .7h0m.6-1.8h0m7.5 .9h0m1.6-1.2h0m2.2 .4h0m79.4 1.6h0m4.1-1h0m1.5 .9h0m9.6 .1h0m.4-1.7h0m-113.1 3.3h0m1.8 1.5h0m2.5-1.2h0m5.2-1.5h0m4.4 2.2h0m7.6-.3h0m.7-2h0m78.3 2.8h0m1.9 .2h0m5.1-1.6h0m-108.9 4.6h0m9-1.1h0m2.2 .8h0m82.9-1.9h0m7.5 .7h0m11 .2h0m-110.6 3.5h0m1.9 .6h0m3.4-2.3h0m10.8 .5h0m2.2 1.2h0m5.9 .2h0m67.7-1.5h0m3.3 1.9h0m.9-1.9h0m3.4 .4h0m4.5 1.2h0m.4-2.2h0m2.4 1.4h0m2.9-1.1h0m-114.5 4h0m3.3 0h0m8.6 0h0m1.5-1.2h0m3.3 2h0m10.8-1.8h0m68.2 1.4h0m1.7-.8h0m5.4 1.4h0m6.8-1.5h0m1.6 1.2h0m-116.9 3h0m1.9-2.1h0m8.2 2.7h0m5.4-.5h0m2.3-2.1h0m7.2 0h0m7.8 0h0m4.7 1.7h0m64.8-.2h0m1.2-1.6h0m2.8 1.9h0m11.2-1.1h0m-112.4 4h0m32.9-1h0m53.7-1h0m4.2 .8h0m3.6 1.2h0m11.2 .2h0m3.4 .1h0m1.2-1.2h0m2.5-.2h0m.4 2h0m4.2-.3h0m-114.2 1.3h0m3.2 1.9h0m19.5-2.2h0m61.4 1.9h0m12.8-1.3h0m3.6 .4h0m-97.2 3h0m4.7 1.2h0m2.6 0h0m2.9-.6h0m10.2-.5h0m2.9 .9h0m4.7-.8h0m48.9-1.3h0m4.9 .4h0m3.7 1.6h0m2.9-.3h0m6.5 .7h0m7.4-.6h0m4.6-1h0m-114.1 3.1h0m8.7-.4h0m2 .5h0m4.6 1.2h0m8.2-1.9h0m3 0h0m67.8 .3h0m4.8 .7h0m5.9-1.4h0m-103.6 4.8h0m5.9-.5h0m3-1.3h0m8.8 .7h0m2.7 1.4h0m62.3-1.3h0m6 1.2h0m1.8-2h0m9.2 2.4h0m3.7-.4h0m2.6-1.1h0m10.4-.4h0m-108.7 4.4h0m6.9-.9h0m8.9-1.1h0m2.2 .3h0m4.7 1.8h0m9.3-.8h0m35.9 1.1h0m7.5-2.3h0m14.2 .1h0m14.8 1.6h0m3-.9h0m.4 1.7h0m1.3-2.8h0m-108.5 5.9h0m1.4-1.1h0m8.8-.1h0m10.6 .3h0m3.4-1.7h0m1.8 1.4h0m6.7-1.7h0m35.7 2h0m4.1-.3h0m2.5-1.5h0m2.3 .3h0m25.2 0h0m-113.8 5.2h0m9.2-.4h0m4.5 .4h0m6.8-2.6h0m11.4 .7h0m1.9-.4h0m11.1 .1h0m30.4 .8h0m24.8 .4h0m2.4-1h0m5.1 1.9h0m.2-2.3h0m1.6 1.1h0m3.3 .3h0m-110.5 2.9h0m3.5-.8h0m11.1-.5h0m12.7 2.5h0m6.5-.1h0m1.4-1.7h0m13.7-.5h0m28.7 1.4h0m5 .9h0m14.1-1.2h0m12.5-1.7h0m2.7 .7h0m-116.8 3.4h0m30 .8h0m3.8-1.2h0m4.8 2.2h0m2.1 0h0m2.6-2.1h0m7.5 .3h0m21.4 1.5h0m10.2-1.8h0m.3 2.1h0m4.9-.5h0m4.8-1.3h0m5.2-.3h0m2.4 .9h0m3.8 1.1h0m11.2-.8h0m3.6-.7h0m-104.3 3.2h0m21.5-.4h0m4.2 .5h0m1.8-.4h0m13.7 .3h0m23.9-.5h0m4.7 .4h0m2.1 .1h0m6.4-.6h0m5.6 .5h0m7.5-.2h0m5.7 .4h0" stroke="#adadff" stroke-width="2.46" stroke-linecap="round"/>
<path d="M51.1 188.6h0m54.3 2.5h0" stroke="#adb4ff" stroke-width="2.46" stroke-linecap="round"/>
<path d="M23.6 176.4h0m84.5 6h0m-89.6 13.1h0m-.9 3.3h0m99.3-2h0m17.6 4.3h0m-73.1 5.1h0m-32.9 2.6h0m61.8 2.3h0m22.2-.7h0m7.6 .4h0m-89.2 6.1h0m16.4-1.6h0m10.9 1.7h0m45.9-1.5h0m2.1 2h0m-85.1 0h0" stroke="#adbbff" stroke-width="2.46" stroke-linecap="round"/>
<path d="M112.8 174.1h0m-24.3 34.8h0" stroke="#adc2ff" stroke-width="2.46" stroke-linecap="round"/>
<path d="M109.7 181.2h0m-2.6 6.7h0m-8.5 6.6h0m-5.5 8.3h0m-2.2 4h0" stroke="#adc9ff" stroke-width="2.46" stroke-linecap="round"/>
<path d="M47.7 178.3h0m59 7.5h0m-7.4 6.6h0m-5.4 7.2h0m-11.8 12.8h0" stroke="#add0ff" stroke-width="2.46" stroke-linecap="round"/>
<path d="M50.7 184.2h0m50.7 7.3h0m-30.8 28.3h0m2 .5h0" stroke="#add7ff" stroke-width="2.46" stroke-linecap="round"/>
<path d="M107.8 178.9h0m-11.4 5.1h0m2.7 6.3h0m-4.8 4h0m-22.5 19.4h0m8.9 .6h0" stroke="#addeff" stroke-width="2.46" stroke-linecap="round"/>
<path d="M93.4 186.5h0m4.6 .5h0m-.6 1.8h0m-39.1 8.8h0m35.9-.3h0m-22.2 18.3h0m-2.9 5.2h0" stroke="#ade5ff" stroke-width="2.46" stroke-linecap="round"/>
<path d="M96.5 186h0m-3.7 6.8h0m-1.7 4.6h0" stroke="#adecff" stroke-width="2.46" stroke-linecap="round"/>
<path d="M101.7 181.1h0m-18.9 26.2h0m1.2 1.6h0" stroke="#adf3ff" stroke-width="2.46" stroke-linecap="round"/>
<path d="M47.3 174h0m53.7 10.1h0" stroke="#adfaff" stroke-width="2.46" stroke-linecap="round"/>
<path d="M52.5 172.1h0m45.7 2.7h0m-47.8 1.6h0m45.1-.9h0m2.6 1.9h0m-4.9 1.8h0m.2 2.6h0m-4.3 9.1h0m-.9 10.4h0" stroke="#adfffd" stroke-width="2.46" stroke-linecap="round"/>
<path d="M92.3 176.3h0m-36.5 10.9h0m2.7 7.7h0m8.8 16.6h0" stroke="#adfff6" stroke-width="2.46" stroke-linecap="round"/>
<path d="M92.7 171.5h0m-1.2 11.3h0m-37.7 1.9h0m35.8 1.4h0" stroke="#adffef" stroke-width="2.46" stroke-linecap="round"/>
<path d="M91.1 172.6h0m-36.2 8.8h0m35.1-1.9h0m-36 3.4h0m33.4 8.9h0" stroke="#adffe8" stroke-width="2.46" stroke-linecap="round"/>
<path d="M61.8 200.4h0" stroke="#adffdb" stroke-width="2.46" stroke-linecap="round"/>
<path d="M56.2 176.2h0" stroke="#adffd4" stroke-width="2.46" stroke-linecap="round"/>
<path d="M57.9 187.4h0m28.9-1.4h0m-4.3 16.4h0" stroke="#adffcd" stroke-width="2.46" stroke-linecap="round"/>
<path d="M57.2 172.9h0m27.6 13.3h0m1 2.3h0" stroke="#adffc6" stroke-width="2.46" stroke-linecap="round"/>
<path d="M87.6 175.1h0m-3.2 15.9h0m-8.9 24.4h0" stroke="#adffbf" stroke-width="2.46" stroke-linecap="round"/>
<path d="M58.3 178.1h0m1.8 9.9h0m18.3 32h0m-4.5 1.7h0" stroke="#adffb1" stroke-width="2.46" stroke-linecap="round"/>
<path d="M85.9 172.1h0m-25.2 20.6h0m16.8 28.8h0" stroke="#b1ffad" stroke-width="2.46" stroke-linecap="round"/>
<path d="M62 191.3h0" stroke="#b8ffad" stroke-width="2.46" stroke-linecap="round"/>
<path d="M59.4 169h0m24.4 2.6h0" stroke="#c6ffad" stroke-width="2.46" stroke-linecap="round"/>
<path d="M58.9 172.6h0m5.7 29.7h0" stroke="#cdffad" stroke-width="2.46" stroke-linecap="round"/>
<path d="M83.1 176.2h0" stroke="#d4ffad" stroke-width="2.46" stroke-linecap="round"/>
<path d="M62.1 168.7h0m19.9 .2h0m-20.4 7.9h0" stroke="#dbffad" stroke-width="2.46" stroke-linecap="round"/>
<path d="M82.5 166.5h0" stroke="#e1ffad" stroke-width="2.46" stroke-linecap="round"/>
<path d="M65.6 189.2h0" stroke="#e8ffad" stroke-width="2.46" stroke-linecap="round"/>
<path d="M65.5 170.2h0m4.9 .9h0m11.2 9.7h0" stroke="#efffad" stroke-width="2.46" stroke-linecap="round"/>
<path d="M72.1 174.2h0m-4.3 5h0" stroke="#f6ffad" stroke-width="2.46" stroke-linecap="round"/>
<path d="M75.3 169.7h0m-5.4 4.1h0m5.5 .4h0" stroke="#fdffad" stroke-width="2.46" stroke-linecap="round"/>
<path d="M66.9 176.8h0m13.2 10.2h0m-12.8 7.8h0" stroke="#fffaad" stroke-width="2.46" stroke-linecap="round"/>
<path d="M72.4 177.6h0m2.8 3.7h0m2.8 3.9h0" stroke="#fff3ad" stroke-width="2.46" stroke-linecap="round"/>
<path d="M77 181h0m.8 2.4h0m-1.6 2.2h0m3.3 4.2h0m-2.7 1.5h0m-6.6 4.4h0" stroke="#ffecad" stroke-width="2.46" stroke-linecap="round"/>
<path d="M73.7 184.2h0m5.4-2.4h0m-9.7 9.6h0m.7 2.6h0" stroke="#ffe5ad" stroke-width="2.46" stroke-linecap="round"/>
<path d="M73.2 185.8h0m1 4.9h0m.3 3.7h0" stroke="#ffdead" stroke-width="2.46" stroke-linecap="round"/>
<path d="M75.7 187.7h0m-1.2 4.9h0m-2.9 4.1h0" stroke="#ffd7ad" stroke-width="2.46" stroke-linecap="round"/>
<path d="M75.8 183.5h0m.4 11.1h0" stroke="#ffd0ad" stroke-width="2.46" stroke-linecap="round"/>
<path d="M74.1 188.9h0m-1.5 5.9h0" stroke="#ffc2ad" stroke-width="2.46" stroke-linecap="round"/>
<path d="M72.8 199.3h0m3.9 9.3h0" stroke="#ffbbad" stroke-width="2.46" stroke-linecap="round"/>
<path d="M79 214.3h0" stroke="#ffb4ad" stroke-width="2.46" stroke-linecap="round"/>
<path d="M72 208.2h0m.6 1.6h0m2-1.3h0" stroke="#ffadad" stroke-width="2.46" stroke-linecap="round"/>
<path d="M43.2 172.1h0m-20.8 1.7h0m1.7 .8h0m4 .7h0m.6-1.8h0m7.5 .9h0m1.6-1.2h0m2.2 .4h0m79.4 1.6h0m4.1-1h0m1.5 .9h0m9.6 .1h0m.4-1.7h0m-113.1 3.3h0m1.8 1.5h0m2.5-1.2h0m5.2-1.5h0m4.4 2.2h0m7.6-.3h0m.7-2h0m78.3 2.8h0m1.9 .2h0m5.1-1.6h0m-108.9 4.6h0m9-1.1h0m2.2 .8h0m82.9-1.9h0m7.5 .7h0m11 .2h0m-110.6 3.5h0m1.9 .6h0m3.4-2.3h0m10.8 .5h0m2.2 1.2h0m5.9 .2h0m67.7-1.5h0m3.3 1.9h0m.9-1.9h0m3.4 .4h0m4.5 1.2h0m.4-2.2h0m2.4 1.4h0m2.9-1.1h0m-114.5 4h0m3.3 0h0m8.6 0h0m1.5-1.2h0m3.3 2h0m10.8-1.8h0m68.2 1.4h0m1.7-.8h0m5.4 1.4h0m6.8-1.5h0m1.6 1.2h0m-116.9 3h0m1.9-2.1h0m8.2 2.7h0m5.4-.5h0m2.3-2.1h0m7.2 0h0m7.8 0h0m4.7 1.7h0m64.8-.2h0m1.2-1.6h0m2.8 1.9h0m11.2-1.1h0m-112.4 4h0m32.9-1h0m53.7-1h0m4.2 .8h0m3.6 1.2h0m11.2 .2h0m3.4 .1h0m1.2-1.2h0m2.5-.2h0m.4 2h0m4.2-.3h0m-114.2 1.3h0m3.2 1.9h0m19.5-2.2h0m61.4 1.9h0m12.8-1.3h0m3.6 .4h0m-97.2 3h0m4.7 1.2h0m2.6 0h0m2.9-.6h0m10.2-.5h0m2.9 .9h0m4.7-.8h0m48.9-1.3h0m4.9 .4h0m3.7 1.6h0m2.9-.3h0m6.5 .7h0m7.4-.6h0m4.6-1h0m-114.1 3.1h0m8.7-.4h0m2 .5h0m4.6 1.2h0m8.2-1.9h0m3 0h0m67.8 .3h0m4.8 .7h0m5.9-1.4h0m-103.6 4.8h0m5.9-.5h0m3-1.3h0m8.8 .7h0m2.7 1.4h0m62.3-1.3h0m6 1.2h0m1.8-2h0m9.2 2.4h0m3.7-.4h0m2.6-1.1h0m10.4-.4h0m-108.7 4.4h0m6.9-.9h0m8.9-1.1h0m2.2 .3h0m4.7 1.8h0m9.3-.8h0m35.9 1.1h0m7.5-2.3h0m14.2 .1h0m14.8 1.6h0m3-.9h0m.4 1.7h0m1.3-2.8h0m-108.5 5.9h0m1.4-1.1h0m8.8-.1h0m10.6 .3h0m3.4-1.7h0m1.8 1.4h0m6.7-1.7h0m35.7 2h0m4.1-.3h0m2.5-1.5h0m2.3 .3h0m25.2 0h0m-113.8 5.2h0m9.2-.4h0m4.5 .4h0m6.8-2.6h0m11.4 .7h0m1.9-.4h0m11.1 .1h0m30.4 .8h0m24.8 .4h0m2.4-1h0m5.1 1.9h0m.2-2.3h0m1.6 1.1h0m3.3 .3h0m-110.5 2.9h0m3.5-.8h0m11.1-.5h0m12.7 2.5h0m6.5-.1h0m1.4-1.7h0m13.7-.5h0m28.7 1.4h0m5 .9h0m14.1-1.2h0m12.5-1.7h0m2.7 .7h0m-116.8 3.4h0m30 .8h0m3.8-1.2h0m4.8 2.2h0m2.1 0h0m2.6-2.1h0m7.5 .3h0m21.4 1.5h0m10.2-1.8h0m.3 2.1h0m4.9-.5h0m4.8-1.3h0m5.2-.3h0m2.4 .9h0m3.8 1.1h0m11.2-.8h0m3.6-.7h0m-104.3 3.2h0m21.5-.4h0m4.2 .5h0m1.8-.4h0m13.7 .3h0m23.9-.5h0m4.7 .4h0m2.1 .1h0m6.4-.6h0m5.6 .5h0m7.5-.2h0m5.7 .4h0" stroke="#1212ff" stroke-width="2.1" stroke-linecap="round"/>
<path d="M51.1 188.6h0m54.3 2.5h0" stroke="#182bff" stroke-width="2.1" stroke-linecap="round"/>
<path d="M23.6 176.4h0m84.5 6h0m-89.6 13.1h0m-.9 3.3h0m99.3-2h0m17.6 4.3h0m-73.1 5.1h0m-32.9 2.6h0m61.8 2.3h0m22.2-.7h0m7.6 .4h0m-89.2 6.1h0m16.4-1.6h0m10.9 1.7h0m45.9-1.5h0m2.1 2h0m-85.1 0h0" stroke="#1e44ff" stroke-width="2.1" stroke-linecap="round"/>
<path d="M112.8 174.1h0m-24.3 34.8h0" stroke="#245cff" stroke-width="2.1" stroke-linecap="round"/>
<path d="M109.7 181.2h0m-2.6 6.7h0m-8.5 6.6h0m-5.5 8.3h0m-2.2 4h0" stroke="#2a72ff" stroke-width="2.1" stroke-linecap="round"/>
<path d="M47.7 178.3h0m59 7.5h0m-7.4 6.6h0m-5.4 7.2h0m-11.8 12.8h0" stroke="#3088ff" stroke-width="2.1" stroke-linecap="round"/>
<path d="M50.7 184.2h0m50.7 7.3h0m-30.8 28.3h0m2 .5h0" stroke="#369cff" stroke-width="2.1" stroke-linecap="round"/>
<path d="M107.8 178.9h0m-11.4 5.1h0m2.7 6.3h0m-4.8 4h0m-22.5 19.4h0m8.9 .6h0" stroke="#3cb0ff" stroke-width="2.1" stroke-linecap="round"/>
<path d="M93.4 186.5h0m4.6 .5h0m-.6 1.8h0m-39.1 8.8h0m35.9-.3h0m-22.2 18.3h0m-2.9 5.2h0" stroke="#42c3ff" stroke-width="2.1" stroke-linecap="round"/>
<path d="M96.5 186h0m-3.7 6.8h0m-1.7 4.6h0" stroke="#48d4ff" stroke-width="2.1" stroke-linecap="round"/>
<path d="M101.7 181.1h0m-18.9 26.2h0m1.2 1.6h0" stroke="#46e4ff" stroke-width="2.1" stroke-linecap="round"/>
<path d="M47.3 174h0m53.7 10.1h0" stroke="#40f3ff" stroke-width="2.1" stroke-linecap="round"/>
<path d="M52.5 172.1h0m45.7 2.7h0m-47.8 1.6h0m45.1-.9h0m2.6 1.9h0m-4.9 1.8h0m.2 2.6h0m-4.3 9.1h0m-.9 10.4h0" stroke="#3afffb" stroke-width="2.1" stroke-linecap="round"/>
<path d="M92.3 176.3h0m-36.5 10.9h0m2.7 7.7h0m8.8 16.6h0" stroke="#34ffe9" stroke-width="2.1" stroke-linecap="round"/>
<path d="M92.7 171.5h0m-1.2 11.3h0m-37.7 1.9h0m35.8 1.4h0" stroke="#2effd7" stroke-width="2.1" stroke-linecap="round"/>
<path d="M91.1 172.6h0m-36.2 8.8h0m35.1-1.9h0m-36 3.4h0m33.4 8.9h0" stroke="#29ffc4" stroke-width="2.1" stroke-linecap="round"/>
<path d="M61.8 200.4h0" stroke="#1dff9a" stroke-width="2.1" stroke-linecap="round"/>
<path d="M56.2 176.2h0" stroke="#17ff83" stroke-width="2.1" stroke-linecap="round"/>
<path d="M57.9 187.4h0m28.9-1.4h0m-4.3 16.4h0" stroke="#12ff6d" stroke-width="2.1" stroke-linecap="round"/>
<path d="M57.2 172.9h0m27.6 13.3h0m1 2.3h0" stroke="#12ff58" stroke-width="2.1" stroke-linecap="round"/>
<path d="M87.6 175.1h0m-3.2 15.9h0m-8.9 24.4h0" stroke="#12ff44" stroke-width="2.1" stroke-linecap="round"/>
<path d="M58.3 178.1h0m1.8 9.9h0m18.3 32h0m-4.5 1.7h0" stroke="#12ff1c" stroke-width="2.1" stroke-linecap="round"/>
<path d="M85.9 172.1h0m-25.2 20.6h0m16.8 28.8h0" stroke="#1cff12" stroke-width="2.1" stroke-linecap="round"/>
<path d="M62 191.3h0" stroke="#30ff12" stroke-width="2.1" stroke-linecap="round"/>
<path d="M59.4 169h0m24.4 2.6h0" stroke="#58ff12" stroke-width="2.1" stroke-linecap="round"/>
<path d="M58.9 172.6h0m5.7 29.7h0" stroke="#6dff12" stroke-width="2.1" stroke-linecap="round"/>
<path d="M83.1 176.2h0" stroke="#81ff12" stroke-width="2.1" stroke-linecap="round"/>
<path d="M62.1 168.7h0m19.9 .2h0m-20.4 7.9h0" stroke="#95ff12" stroke-width="2.1" stroke-linecap="round"/>
<path d="M82.5 166.5h0" stroke="#a9ff12" stroke-width="2.1" stroke-linecap="round"/>
<path d="M65.6 189.2h0" stroke="#bdff12" stroke-width="2.1" stroke-linecap="round"/>
<path d="M65.5 170.2h0m4.9 .9h0m11.2 9.7h0" stroke="#d2ff12" stroke-width="2.1" stroke-linecap="round"/>
<path d="M72.1 174.2h0m-4.3 5h0" stroke="#e6ff12" stroke-width="2.1" stroke-linecap="round"/>
<path d="M75.3 169.7h0m-5.4 4.1h0m5.5 .4h0" stroke="#faff12" stroke-width="2.1" stroke-linecap="round"/>
<path d="M66.9 176.8h0m13.2 10.2h0m-12.8 7.8h0" stroke="#fff012" stroke-width="2.1" stroke-linecap="round"/>
<path d="M72.4 177.6h0m2.8 3.7h0m2.8 3.9h0" stroke="#ffdc12" stroke-width="2.1" stroke-linecap="round"/>
<path d="M77 181h0m.8 2.4h0m-1.6 2.2h0m3.3 4.2h0m-2.7 1.5h0m-6.6 4.4h0" stroke="#ffc712" stroke-width="2.1" stroke-linecap="round"/>
<path d="M73.7 184.2h0m5.4-2.4h0m-9.7 9.6h0m.7 2.6h0" stroke="#ffb312" stroke-width="2.1" stroke-linecap="round"/>
<path d="M73.2 185.8h0m1 4.9h0m.3 3.7h0" stroke="#ff9f12" stroke-width="2.1" stroke-linecap="round"/>
<path d="M75.7 187.7h0m-1.2 4.9h0m-2.9 4.1h0" stroke="#ff8b12" stroke-width="2.1" stroke-linecap="round"/>
<path d="M75.8 183.5h0m.4 11.1h0" stroke="#ff7712" stroke-width="2.1" stroke-linecap="round"/>
<path d="M74.1 188.9h0m-1.5 5.9h0" stroke="#ff4e12" stroke-width="2.1" stroke-linecap="round"/>
<path d="M72.8 199.3h0m3.9 9.3h0" stroke="#ff3a12" stroke-width="2.1" stroke-linecap="round"/>
<path d="M79 214.3h0" stroke="#ff2612" stroke-width="2.1" stroke-linecap="round"/>
<path d="M72 208.2h0m.6 1.6h0m2-1.3h0" stroke="#ff1212" stroke-width="2.1" stroke-linecap="round"/>
<path d="M68.5 212.6H78.5V224.5H68.5ZM63.5 208.5L68.4 209.5L68.4 213.8ZM78.6 210.5L83.5 211.5L78.6 215.5Z" fill="#fff"/>
<path d="M68.5 212.6V226.5M78.5 212.6V226.5" stroke="#c0c8f4" stroke-width=".8"/>
<path d="M68.5 222.2H78.5" stroke="#c8f0b8" stroke-width=".6"/>
<rect x="148.0" y="163.3" width="2.9" height="54.0" fill="url(#jet)"/>
<g font-family="'Liberation Sans', sans-serif" font-size="4.6" fill="#3a3a3a"><text x="154.4" y="167.7">8.0</text><text x="154.4" y="172.8">7.2</text><text x="154.4" y="177.8">6.4</text><text x="154.4" y="182.8">5.6</text><text x="154.4" y="187.9">4.8</text><text x="154.4" y="192.9">4.0</text><text x="154.4" y="198.0">3.2</text><text x="154.4" y="203.0">2.4</text><text x="154.4" y="208.1">1.6</text><text x="154.4" y="213.1">8.0</text><text x="154.4" y="218.2">0.0</text></g>
<text x="144.6" y="159.7" font-family="'Liberation Serif', serif" font-size="5.4" font-weight="bold" fill="#000" stroke="#000" stroke-width=".08">Displacement</text>
<path d="M198.6 150V222.7M322.0 150V222.7" stroke="#b4dcf4" stroke-width=".8"/>
<path d="M213.1 173.9h0m6.2 .6h0m92.1-.3h0m-112.1 2.5h0m7.4 1.4h0m8.8-1h0m2.1 1.3h0m2.1-2.2h0m10.7 .9h0m80.3 .8h0m2.3-2.4h0m3.5 3h0m1.2-1.8h0m-118.4 4.3h0m12.6-1.2h0m2.1 1.1h0m8.5-.9h0m1.7-.5h0m7.2-.3h0m82.1 1.4h0m-111.1 1.7h0m3.7 1.6h0m16.3-1.2h0m86.2-1.1h0m5.8 1.9h0m5.8 .1h0m1.3-1.4h0m-117.5 2.3h0m3.6 .7h0m3 2.2h0m13.6-1.7h0m1.7 .6h0m88.5-.3h0m-110.3 4.3h0m8.7-2.3h0m2 .8h0m6.7-.1h0m12.6-.2h0m1.8 1.7h0m68.3-1.9h0m4 .5h0m2.6 1.6h0m2.8-2.6h0m1.6 .8h0m4.6 1.6h0m-117.9 .5h0m.7 2.3h0m7.5-1.4h0m21.3 1.8h0m6.3-.6h0m71.1 .7h0m2.3-1.1h0m9.6-.4h0m-117.5 2.7h0m4.2 1.6h0m14.4-2.7h0m71.9 .7h0m7.3 .4h0m1.9-.2h0m4 .6h0m5.6 1.1h0m1.2-1.4h0m1.7 .2h0m5.4-.7h0m-106.8 3.1h0m1.9-.6h0m.1 1.8h0m3.3-1.7h0m15.3 2.2h0m6 .1h0m57.6-2.3h0m4.9 2.5h0m15.4-.9h0m-113 1.5h0m2.9 .7h0m5.1-.8h0m3.7 .1h0m.6 1.7h0m8.4-2.2h0m7.7 1.5h0m2.7-1.4h0m63.1 2.8h0m7.2-1.3h0m2.7 .7h0m1.4-1.8h0m2 1h0m2.2 .4h0m4.1 .1h0m-95.8 2.8h0m3.3 .9h0m13.2-1.7h0m49.8 1.6h0m1.9-.9h0m2.7-1.2h0m1.1 1.4h0m2.2-.1h0m8-1.5h0m1 2h0m4.3-1.5h0m7.9 2h0m-118.1 2.7h0m6.5-.2h0m2.4-.8h0m11.4 1h0m.6-2.3h0m11.8 .6h0m64.8 1.9h0m12.4 .3h0m2.2-.2h0m-105 2.9h0m8.2-.3h0m.6-1.8h0m4.6 1.5h0m5-.5h0m1.3-1.2h0m8.6 1h0m2.1 0h0m4.3-1h0m40.9 1.9h0m4 .6h0m10 .1h0m14.7-.3h0m5.7-.2h0m-114.1 .9h0m9.4 1.9h0m11.3-1.4h0m1.7-.5h0m8.8 1.8h0m1.8-1.9h0m2.8 2.7h0m1.9-1.9h0m6 1.6h0m3.1-2.1h0m30 .3h0m4.4-.7h0m13.5 1.2h0m2.3-.9h0m1.6 .6h0m13 1.6h0m-105.2 .5h0m26.1 1.2h0m5.2-.8h0m8 2.4h0m26.8-.6h0m1.2-1.3h0m40.4-.1h0m2.6 1.7h0m-121.4 3.1h0m4.2-1.5h0m24.1 1.4h0m7.5-.8h0m6.3 .5h0m6.8-1.2h0m2.5 1.4h0m3.3-1.3h0m1.2 1.5h0m1.8-.4h0m16.3-1.7h0m17.2 .5h0m7-.7h0m2.8 .5h0m7.4 .3h0m1.5 1.3h0m3.2-1.5h0m2.8-.6h0m4.6 1.5h0m-115.7 1.4h0m4.6 0h0m15.6 1.3h0m2.5-.3h0m3.1-.9h0m43.9 .1h0m13.6 .2h0m5.2 .8h0m2-1h0m6.8 .9h0m1.9-.6h0m8.5-.6h0m4 1.3h0" stroke="#adadff" stroke-width="3.36" stroke-linecap="round"/>
<path d="M302.5 183.8h0m-3.5 6.1h0m-12.8 10.6h0m-10.3 13.9h0" stroke="#adb4ff" stroke-width="3.36" stroke-linecap="round"/>
<path d="M227.1 177.5h0m71.7 2.8h0m2.3 6.7h0m18.4 .3h0m-30.6 14.6h0m20.6 7.7h0m-17.1 4.7h0m-86.5 5.1h0m98.9 2.4h0m3.2 .4h0" stroke="#adbbff" stroke-width="3.36" stroke-linecap="round"/>
<path d="M297.1 174.3h0m-2.4 8h0m-8.5 11.7h0m-8 17h0" stroke="#adc2ff" stroke-width="3.36" stroke-linecap="round"/>
<path d="M305.1 176.4h0m-14.8 8.3h0m2.1 6.8h0" stroke="#adc9ff" stroke-width="3.36" stroke-linecap="round"/>
<path d="M299.5 176.5h0m-65.8 2.5h0m59 9.6h0" stroke="#add0ff" stroke-width="3.36" stroke-linecap="round"/>
<path d="M299 173.9h0m-7.7 6.2h0m-1.8 1.8h0m4.2 2.9h0m.6 5.4h0m-50.3 9h0" stroke="#add7ff" stroke-width="3.36" stroke-linecap="round"/>
<path d="M293.2 178.6h0m-9.3 7.3h0m.1 10h0m2.5 1.4h0m-2.2 2.8h0m-4.5 7.1h0" stroke="#addeff" stroke-width="3.36" stroke-linecap="round"/>
<path d="M291.2 175h0m-1.2 2.4h0m-53.9 7.7h0m55.9 1.9h0m-1.6 2.5h0" stroke="#ade5ff" stroke-width="3.36" stroke-linecap="round"/>
<path d="M289.6 179.2h0m-50.1 10.9h0m42 14.8h0m-13.7 17.2h0" stroke="#adecff" stroke-width="3.36" stroke-linecap="round"/>
<path d="M233.9 175.4h0m1.5-1.1h0m48.2 3.2h0m1.6-1.1h0m4.3-.7h0m-3.8 6h0m-.3 6.9h0m-42.8 2.4h0m6.6 17.3h0" stroke="#adf3ff" stroke-width="3.36" stroke-linecap="round"/>
<path d="M283.2 181.6h0m-7 17.8h0m3.1-2.7h0" stroke="#adfaff" stroke-width="3.36" stroke-linecap="round"/>
<path d="M284.4 174.3h0m-47.7 2.3h0m11.7 28h0m20.6 10.8h0" stroke="#adfffd" stroke-width="3.36" stroke-linecap="round"/>
<path d="M237.5 174.8h0m48.8-1.5h0m-8.7 12.8h0m2.4 .9h0" stroke="#adfff6" stroke-width="3.36" stroke-linecap="round"/>
<path d="M279.8 178.1h0m-32.4 24.5h0" stroke="#adffef" stroke-width="3.36" stroke-linecap="round"/>
<path d="M239.4 180.2h0" stroke="#adffe8" stroke-width="3.36" stroke-linecap="round"/>
<path d="M246.5 197.5h0" stroke="#adffe1" stroke-width="3.36" stroke-linecap="round"/>
<path d="M277.4 178.2h0m-36.5 1h0m2.1 7.7h0m-1 1.4h0" stroke="#adffdb" stroke-width="3.36" stroke-linecap="round"/>
<path d="M273.9 179.7h0m3.8 .2h0m-32.5 12.3h0" stroke="#adffd4" stroke-width="3.36" stroke-linecap="round"/>
<path d="M244.1 190h0m6.8 20.4h0m12.5 5.3h0" stroke="#adffcd" stroke-width="3.36" stroke-linecap="round"/>
<path d="M242.2 183.2h0m29 11.1h0" stroke="#adffc6" stroke-width="3.36" stroke-linecap="round"/>
<path d="M270.8 190.4h0m-.3 1.9h0m-1.1 17h0" stroke="#adffbf" stroke-width="3.36" stroke-linecap="round"/>
<path d="M242.6 173.9h0m-.3 4.2h0m3.5 12.4h0" stroke="#adffb8" stroke-width="3.36" stroke-linecap="round"/>
<path d="M244.7 176h0m26.4 4.2h0m2.1 3.4h0m-1.8 2.3h0m-24.4 8.5h0" stroke="#adffb1" stroke-width="3.36" stroke-linecap="round"/>
<path d="M270.2 176.7h0m-25.5 6.4h0m5.2 15.8h0" stroke="#b1ffad" stroke-width="3.36" stroke-linecap="round"/>
<path d="M269.7 182.4h0m1.1 1.3h0m-6.8 30.3h0" stroke="#b8ffad" stroke-width="3.36" stroke-linecap="round"/>
<path d="M250.8 171.9h0m21.1 .1h0m-2.7 17.7h0" stroke="#bfffad" stroke-width="3.36" stroke-linecap="round"/>
<path d="M263.5 170.7h0" stroke="#c6ffad" stroke-width="3.36" stroke-linecap="round"/>
<path d="M248.4 182.2h0m20.7 2.7h0" stroke="#cdffad" stroke-width="3.36" stroke-linecap="round"/>
<path d="M258.1 164.5h0m-8.7 12.3h0m.1 1.9h0m1 17.1h0m.6-1.8h0m.8 5.9h0" stroke="#d4ffad" stroke-width="3.36" stroke-linecap="round"/>
<path d="M255.9 166.3h0m-3.1 31.7h0m-.5 4.8h0m15.3 5.9h0" stroke="#dbffad" stroke-width="3.36" stroke-linecap="round"/>
<path d="M253.1 189h0" stroke="#e1ffad" stroke-width="3.36" stroke-linecap="round"/>
<path d="M261.4 167.9h0m4.4 9.1h0m-12.1 4.2h0m12.6 19.4h0" stroke="#e8ffad" stroke-width="3.36" stroke-linecap="round"/>
<path d="M264.7 183.8h0" stroke="#efffad" stroke-width="3.36" stroke-linecap="round"/>
<path d="M256.4 183.9h0m3.6 2.5h0" stroke="#f6ffad" stroke-width="3.36" stroke-linecap="round"/>
<path d="M253.7 177.1h0m7.3 5h0m1.9 1.6h0m3.2 4.3h0m-10.1 4.9h0m-2 10.8h0" stroke="#fdffad" stroke-width="3.36" stroke-linecap="round"/>
<path d="M256.6 181.7h0m5.7 6.8h0m.1 1.9h0m-4.3 .2h0" stroke="#fff3ad" stroke-width="3.36" stroke-linecap="round"/>
<path d="M261 191.3h0" stroke="#ffe5ad" stroke-width="3.36" stroke-linecap="round"/>
<path d="M259.2 196.1h0" stroke="#ffdead" stroke-width="3.36" stroke-linecap="round"/>
<path d="M261 195.9h0m-3.2 2.6h0" stroke="#ffd7ad" stroke-width="3.36" stroke-linecap="round"/>
<path d="M265.5 208.6h0m-11.2 3h0" stroke="#ffbbad" stroke-width="3.36" stroke-linecap="round"/>
<path d="M264 204.7h0m-4 2.4h0m-5.8 2.7h0" stroke="#ffadad" stroke-width="3.36" stroke-linecap="round"/>
<path d="M213.1 173.9h0m6.2 .6h0m92.1-.3h0m-112.1 2.5h0m7.4 1.4h0m8.8-1h0m2.1 1.3h0m2.1-2.2h0m10.7 .9h0m80.3 .8h0m2.3-2.4h0m3.5 3h0m1.2-1.8h0m-118.4 4.3h0m12.6-1.2h0m2.1 1.1h0m8.5-.9h0m1.7-.5h0m7.2-.3h0m82.1 1.4h0m-111.1 1.7h0m3.7 1.6h0m16.3-1.2h0m86.2-1.1h0m5.8 1.9h0m5.8 .1h0m1.3-1.4h0m-117.5 2.3h0m3.6 .7h0m3 2.2h0m13.6-1.7h0m1.7 .6h0m88.5-.3h0m-110.3 4.3h0m8.7-2.3h0m2 .8h0m6.7-.1h0m12.6-.2h0m1.8 1.7h0m68.3-1.9h0m4 .5h0m2.6 1.6h0m2.8-2.6h0m1.6 .8h0m4.6 1.6h0m-117.9 .5h0m.7 2.3h0m7.5-1.4h0m21.3 1.8h0m6.3-.6h0m71.1 .7h0m2.3-1.1h0m9.6-.4h0m-117.5 2.7h0m4.2 1.6h0m14.4-2.7h0m71.9 .7h0m7.3 .4h0m1.9-.2h0m4 .6h0m5.6 1.1h0m1.2-1.4h0m1.7 .2h0m5.4-.7h0m-106.8 3.1h0m1.9-.6h0m.1 1.8h0m3.3-1.7h0m15.3 2.2h0m6 .1h0m57.6-2.3h0m4.9 2.5h0m15.4-.9h0m-113 1.5h0m2.9 .7h0m5.1-.8h0m3.7 .1h0m.6 1.7h0m8.4-2.2h0m7.7 1.5h0m2.7-1.4h0m63.1 2.8h0m7.2-1.3h0m2.7 .7h0m1.4-1.8h0m2 1h0m2.2 .4h0m4.1 .1h0m-95.8 2.8h0m3.3 .9h0m13.2-1.7h0m49.8 1.6h0m1.9-.9h0m2.7-1.2h0m1.1 1.4h0m2.2-.1h0m8-1.5h0m1 2h0m4.3-1.5h0m7.9 2h0m-118.1 2.7h0m6.5-.2h0m2.4-.8h0m11.4 1h0m.6-2.3h0m11.8 .6h0m64.8 1.9h0m12.4 .3h0m2.2-.2h0m-105 2.9h0m8.2-.3h0m.6-1.8h0m4.6 1.5h0m5-.5h0m1.3-1.2h0m8.6 1h0m2.1 0h0m4.3-1h0m40.9 1.9h0m4 .6h0m10 .1h0m14.7-.3h0m5.7-.2h0m-114.1 .9h0m9.4 1.9h0m11.3-1.4h0m1.7-.5h0m8.8 1.8h0m1.8-1.9h0m2.8 2.7h0m1.9-1.9h0m6 1.6h0m3.1-2.1h0m30 .3h0m4.4-.7h0m13.5 1.2h0m2.3-.9h0m1.6 .6h0m13 1.6h0m-105.2 .5h0m26.1 1.2h0m5.2-.8h0m8 2.4h0m26.8-.6h0m1.2-1.3h0m40.4-.1h0m2.6 1.7h0m-121.4 3.1h0m4.2-1.5h0m24.1 1.4h0m7.5-.8h0m6.3 .5h0m6.8-1.2h0m2.5 1.4h0m3.3-1.3h0m1.2 1.5h0m1.8-.4h0m16.3-1.7h0m17.2 .5h0m7-.7h0m2.8 .5h0m7.4 .3h0m1.5 1.3h0m3.2-1.5h0m2.8-.6h0m4.6 1.5h0m-115.7 1.4h0m4.6 0h0m15.6 1.3h0m2.5-.3h0m3.1-.9h0m43.9 .1h0m13.6 .2h0m5.2 .8h0m2-1h0m6.8 .9h0m1.9-.6h0m8.5-.6h0m4 1.3h0" stroke="#1212ff" stroke-width="3.0" stroke-linecap="round"/>
<path d="M302.5 183.8h0m-3.5 6.1h0m-12.8 10.6h0m-10.3 13.9h0" stroke="#182bff" stroke-width="3.0" stroke-linecap="round"/>
<path d="M227.1 177.5h0m71.7 2.8h0m2.3 6.7h0m18.4 .3h0m-30.6 14.6h0m20.6 7.7h0m-17.1 4.7h0m-86.5 5.1h0m98.9 2.4h0m3.2 .4h0" stroke="#1e44ff" stroke-width="3.0" stroke-linecap="round"/>
<path d="M297.1 174.3h0m-2.4 8h0m-8.5 11.7h0m-8 17h0" stroke="#245cff" stroke-width="3.0" stroke-linecap="round"/>
<path d="M305.1 176.4h0m-14.8 8.3h0m2.1 6.8h0" stroke="#2a72ff" stroke-width="3.0" stroke-linecap="round"/>
<path d="M299.5 176.5h0m-65.8 2.5h0m59 9.6h0" stroke="#3088ff" stroke-width="3.0" stroke-linecap="round"/>
<path d="M299 173.9h0m-7.7 6.2h0m-1.8 1.8h0m4.2 2.9h0m.6 5.4h0m-50.3 9h0" stroke="#369cff" stroke-width="3.0" stroke-linecap="round"/>
<path d="M293.2 178.6h0m-9.3 7.3h0m.1 10h0m2.5 1.4h0m-2.2 2.8h0m-4.5 7.1h0" stroke="#3cb0ff" stroke-width="3.0" stroke-linecap="round"/>
<path d="M291.2 175h0m-1.2 2.4h0m-53.9 7.7h0m55.9 1.9h0m-1.6 2.5h0" stroke="#42c3ff" stroke-width="3.0" stroke-linecap="round"/>
<path d="M289.6 179.2h0m-50.1 10.9h0m42 14.8h0m-13.7 17.2h0" stroke="#48d4ff" stroke-width="3.0" stroke-linecap="round"/>
<path d="M233.9 175.4h0m1.5-1.1h0m48.2 3.2h0m1.6-1.1h0m4.3-.7h0m-3.8 6h0m-.3 6.9h0m-42.8 2.4h0m6.6 17.3h0" stroke="#46e4ff" stroke-width="3.0" stroke-linecap="round"/>
<path d="M283.2 181.6h0m-7 17.8h0m3.1-2.7h0" stroke="#40f3ff" stroke-width="3.0" stroke-linecap="round"/>
<path d="M284.4 174.3h0m-47.7 2.3h0m11.7 28h0m20.6 10.8h0" stroke="#3afffb" stroke-width="3.0" stroke-linecap="round"/>
<path d="M237.5 174.8h0m48.8-1.5h0m-8.7 12.8h0m2.4 .9h0" stroke="#34ffe9" stroke-width="3.0" stroke-linecap="round"/>
<path d="M279.8 178.1h0m-32.4 24.5h0" stroke="#2effd7" stroke-width="3.0" stroke-linecap="round"/>
<path d="M239.4 180.2h0" stroke="#29ffc4" stroke-width="3.0" stroke-linecap="round"/>
<path d="M246.5 197.5h0" stroke="#23ffaf" stroke-width="3.0" stroke-linecap="round"/>
<path d="M277.4 178.2h0m-36.5 1h0m2.1 7.7h0m-1 1.4h0" stroke="#1dff9a" stroke-width="3.0" stroke-linecap="round"/>
<path d="M273.9 179.7h0m3.8 .2h0m-32.5 12.3h0" stroke="#17ff83" stroke-width="3.0" stroke-linecap="round"/>
<path d="M244.1 190h0m6.8 20.4h0m12.5 5.3h0" stroke="#12ff6d" stroke-width="3.0" stroke-linecap="round"/>
<path d="M242.2 183.2h0m29 11.1h0" stroke="#12ff58" stroke-width="3.0" stroke-linecap="round"/>
<path d="M270.8 190.4h0m-.3 1.9h0m-1.1 17h0" stroke="#12ff44" stroke-width="3.0" stroke-linecap="round"/>
<path d="M242.6 173.9h0m-.3 4.2h0m3.5 12.4h0" stroke="#12ff30" stroke-width="3.0" stroke-linecap="round"/>
<path d="M244.7 176h0m26.4 4.2h0m2.1 3.4h0m-1.8 2.3h0m-24.4 8.5h0" stroke="#12ff1c" stroke-width="3.0" stroke-linecap="round"/>
<path d="M270.2 176.7h0m-25.5 6.4h0m5.2 15.8h0" stroke="#1cff12" stroke-width="3.0" stroke-linecap="round"/>
<path d="M269.7 182.4h0m1.1 1.3h0m-6.8 30.3h0" stroke="#30ff12" stroke-width="3.0" stroke-linecap="round"/>
<path d="M250.8 171.9h0m21.1 .1h0m-2.7 17.7h0" stroke="#44ff12" stroke-width="3.0" stroke-linecap="round"/>
<path d="M263.5 170.7h0" stroke="#58ff12" stroke-width="3.0" stroke-linecap="round"/>
<path d="M248.4 182.2h0m20.7 2.7h0" stroke="#6dff12" stroke-width="3.0" stroke-linecap="round"/>
<path d="M258.1 164.5h0m-8.7 12.3h0m.1 1.9h0m1 17.1h0m.6-1.8h0m.8 5.9h0" stroke="#81ff12" stroke-width="3.0" stroke-linecap="round"/>
<path d="M255.9 166.3h0m-3.1 31.7h0m-.5 4.8h0m15.3 5.9h0" stroke="#95ff12" stroke-width="3.0" stroke-linecap="round"/>
<path d="M253.1 189h0" stroke="#a9ff12" stroke-width="3.0" stroke-linecap="round"/>
<path d="M261.4 167.9h0m4.4 9.1h0m-12.1 4.2h0m12.6 19.4h0" stroke="#bdff12" stroke-width="3.0" stroke-linecap="round"/>
<path d="M264.7 183.8h0" stroke="#d2ff12" stroke-width="3.0" stroke-linecap="round"/>
<path d="M256.4 183.9h0m3.6 2.5h0" stroke="#e6ff12" stroke-width="3.0" stroke-linecap="round"/>
<path d="M253.7 177.1h0m7.3 5h0m1.9 1.6h0m3.2 4.3h0m-10.1 4.9h0m-2 10.8h0" stroke="#faff12" stroke-width="3.0" stroke-linecap="round"/>
<path d="M256.6 181.7h0m5.7 6.8h0m.1 1.9h0m-4.3 .2h0" stroke="#ffdc12" stroke-width="3.0" stroke-linecap="round"/>
<path d="M261 191.3h0" stroke="#ffb312" stroke-width="3.0" stroke-linecap="round"/>
<path d="M259.2 196.1h0" stroke="#ff9f12" stroke-width="3.0" stroke-linecap="round"/>
<path d="M261 195.9h0m-3.2 2.6h0" stroke="#ff8b12" stroke-width="3.0" stroke-linecap="round"/>
<path d="M265.5 208.6h0m-11.2 3h0" stroke="#ff3a12" stroke-width="3.0" stroke-linecap="round"/>
<path d="M264 204.7h0m-4 2.4h0m-5.8 2.7h0" stroke="#ff1212" stroke-width="3.0" stroke-linecap="round"/>
<path d="M199.2 175h0m1.5-.8h0m1.9 .4h0m23.2 .5h0m3.9-1.1h0m-25.8 1.8h0m.9 2.3h0m2.9-2h0m3.4 .6h0m1.6 .7h0m9.7 .6h0m90.6-.5h0m8.5-.2h0m-122.5 1.4h0m2.2 .3h0m9.1-.1h0m8.3 1.1h0m6.8 .9h0m2.3-.7h0m1.8-1.6h0m80.5 1.9h0m4.6-1.8h0m3.6 .4h0m2.6 .1h0m-110.2 2.5h0m4.4 1.3h0m6.5 1.4h0m2.9-2h0m3.8 1.7h0m3.6-.7h0m73.4 1h0m1.6-1.1h0m1.7 .7h0m2-.7h0m-99.6 2.1h0m3.7 .6h0m13.6 .6h0m4.5-1.8h0m69.2 .6h0m4.6 .1h0m12.4-.6h0m-119.8 5.3h0m3.3-1.2h0m8.8 .5h0m18.8-1h0m76.4 2h0m-107.5 1.9h0m5.6 .3h0m2-1.6h0m1.9-.2h0m3.5 1h0m3.4 .8h0m.7-1.6h0m12.6 1.7h0m4.8-.2h0m63.1-1.2h0m4.2 1.4h0m12.1 .3h0m4.5-.2h0m1.6-.6h0m-113.3 2.1h0m5.1-.3h0m1.3 1.1h0m15.4-.4h0m87.2 1.7h0m2.6-1.6h0m-118.2 2.7h0m8.7 1.3h0m4.1 .1h0m7.1-.3h0m9.8-2.1h0m1.5 1h0m3.3-.9h0m2.6 0h0m58.8 .9h0m1.5 1.1h0m4.1-.7h0m8.9-.6h0m4.2 1.2h0m-112.2 2.3h0m11.3 1h0m19.2-1.1h0m4.4 .8h0m2.5-1.8h0m3.2 1.1h0m1.3 1.1h0m47.7-1.3h0m-91.8 4h0m6.8-.3h0m2.6-1.7h0m.6 1.7h0m20.3 .5h0m2.5-1.6h0m1.9 .2h0m53.9-.2h0m25.1-.4h0m1.8 1.6h0m-114.7 1.7h0m6.2 .2h0m6.4-.4h0m6.5 1.3h0m4.2-.5h0m1.6-1.3h0m3.4 .8h0m7.8 0h0m4.5-.2h0m50.2 2.1h0m1.6-1.4h0m5-.3h0m16.5-.2h0m3.2 .4h0m4.5 .8h0m-122.4 1.3h0m14.5-.1h0m.3 2.4h0m16.1-1.2h0m1.4 1.4h0m10.1-1h0m3.4-.2h0m1.2 1.2h0m39.7-1.2h0m2.6-1.2h0m5.7 2h0m1.5-.9h0m5.1-1.3h0m18.9 2.2h0m2-1.7h0m-119.6 3.2h0m1.7 1.7h0m10.9-1.4h0m22.8 1.6h0m8.5-1.2h0m4.7 .9h0m1.8-.1h0m33.2-.4h0m5.5-.9h0m-86.8 3.3h0m6.4 1.1h0m4.5-1.2h0m5.5 1.6h0m9.1-2.4h0m4.5 .8h0m6.6 1.2h0m5.2 .2h0m11.7 .2h0m20.7-.2h0m2-2.1h0m6.7 .9h0m8.2-.2h0m2.9-.5h0m6.5 1.9h0m4.1-1.1h0m6.2-.2h0m5.8-1.4h0m-119.6 5.1h0m10.7-.6h0m4.1 .6h0m3.5-.7h0m5.6 .5h0m27 .7h0m3.7-2.3h0m15.7 2.4h0m3-2.6h0m4.7 2.7h0m2.9-.7h0m16.1 .2h0m11.9-1.6h0m11.4 2h0m-116.7 2.1h0m1.8-1.2h0m9.2 .3h0m1.7-.7h0m23.8 1.6h0m15.8 0h0m20.8-.4h0m20.8-.1h0m7.9-1.3h0" stroke="#adadff" stroke-width="3.06" stroke-linecap="round"/>
<path d="M303.6 182.2h0m-18.2 25.1h0" stroke="#adb4ff" stroke-width="3.06" stroke-linecap="round"/>
<path d="M212.3 181.5h0m.6 1.7h0m87.2 .6h0m-92.1 3.9h0m88.3 .9h0m14.5 7.2h0m-84.3 1h0m70 4.7h0m-51.3 3.7h0m55.5-1.1h0m-18.2 4.3h0m-4 4.3h0m10.1 4.4h0m-88 .5h0m33 .2h0" stroke="#adbbff" stroke-width="3.06" stroke-linecap="round"/>
<path d="M302.4 177.1h0m5.4-.5h0m-3.2 4h0m-13 17.3h0m-5.6 4.3h0" stroke="#adc2ff" stroke-width="3.06" stroke-linecap="round"/>
<path d="M300.8 174.7h0m-1.6 3.8h0m-15.9 26.4h0m-.7 1.7h0m-8.9 8.6h0" stroke="#adc9ff" stroke-width="3.06" stroke-linecap="round"/>
<path d="M298 182.3h0m-62 4.6h0m52.5-.3h0m8.1 .1h0m-5.4 6.2h0m-9 9.3h0m-1.9 8.2h0m-22.5 4.6h0" stroke="#add0ff" stroke-width="3.06" stroke-linecap="round"/>
<path d="M292.6 181.5h0m-2.8 10.2h0m-7.5 3.7h0m5.5 .6h0m-11 13.8h0m-1.4 2.1h0" stroke="#add7ff" stroke-width="3.06" stroke-linecap="round"/>
<path d="M295 178.3h0m2.4-2.2h0m-62.5 4.2h0m3.2 7.7h0m41.7 17.3h0m-6.1 5.8h0m-16.7 2.3h0m15.6-.9h0" stroke="#addeff" stroke-width="3.06" stroke-linecap="round"/>
<path d="M276.1 207.3h0" stroke="#ade5ff" stroke-width="3.06" stroke-linecap="round"/>
<path d="M237.1 179.2h0m5.5 14.1h0m37.9-1.5h0m3.3 2.1h0m-8.8 15.6h0m-3.6 4.3h0m-10.9 7.7h0" stroke="#adecff" stroke-width="3.06" stroke-linecap="round"/>
<path d="M286.8 178.5h0m.9 3.3h0" stroke="#adf3ff" stroke-width="3.06" stroke-linecap="round"/>
<path d="M280.4 182.9h0m-40.5 4.5h0m40.1 6.7h0m-4.5 9.9h0m-11.4 16.5h0" stroke="#adfaff" stroke-width="3.06" stroke-linecap="round"/>
<path d="M237.6 182.5h0m30.6 34.8h0m-6.8 2.6h0m4.1 2.3h0" stroke="#adfffd" stroke-width="3.06" stroke-linecap="round"/>
<path d="M238.5 177.8h0m42.6 3.5h0m-2.9 .5h0m-38.3 3.4h0m32.9 22h0" stroke="#adfff6" stroke-width="3.06" stroke-linecap="round"/>
<path d="M277 191.2h0m-12.8 27.1h0" stroke="#adffef" stroke-width="3.06" stroke-linecap="round"/>
<path d="M280.5 172h0m-6.3 14.4h0" stroke="#adffe8" stroke-width="3.06" stroke-linecap="round"/>
<path d="M275.7 182.4h0" stroke="#adffe1" stroke-width="3.06" stroke-linecap="round"/>
<path d="M239.2 176h0m13.2 35.6h0m10.1 6.2h0" stroke="#adffdb" stroke-width="3.06" stroke-linecap="round"/>
<path d="M240.6 177.5h0m35.3 2.8h0m-3 9.6h0m-2.2 8.8h0m1.2-2.2h0m.4 2.8h0" stroke="#adffd4" stroke-width="3.06" stroke-linecap="round"/>
<path d="M276.9 172.3h0m-28.1 28.7h0" stroke="#adffcd" stroke-width="3.06" stroke-linecap="round"/>
<path d="M274.6 177.3h0m-1.6 10.3h0" stroke="#adffc6" stroke-width="3.06" stroke-linecap="round"/>
<path d="M243.8 180h0m24.9 31.2h0" stroke="#adffbf" stroke-width="3.06" stroke-linecap="round"/>
<path d="M246.5 173.5h0m25.8 5.5h0m-28.9 2.8h0" stroke="#adffb8" stroke-width="3.06" stroke-linecap="round"/>
<path d="M272.1 177h0" stroke="#adffb1" stroke-width="3.06" stroke-linecap="round"/>
<path d="M269.9 166.5h0m-20.8 .7h0m22.2 2.9h0" stroke="#b1ffad" stroke-width="3.06" stroke-linecap="round"/>
<path d="M269 187.2h0m-21.6 5.5h0" stroke="#b8ffad" stroke-width="3.06" stroke-linecap="round"/>
<path d="M268 166.1h0" stroke="#bfffad" stroke-width="3.06" stroke-linecap="round"/>
<path d="M252.9 166.8h0m-6 14h0m22.1-.7h0" stroke="#c6ffad" stroke-width="3.06" stroke-linecap="round"/>
<path d="M269.4 168.4h0m-18.5 33.2h0m9.6 11.2h0" stroke="#cdffad" stroke-width="3.06" stroke-linecap="round"/>
<path d="M260 164.3h0m-3.3 5.1h0m1.9 1.8h0m-12.2 12.5h0m3.8 5.9h0m17.6 7h0" stroke="#d4ffad" stroke-width="3.06" stroke-linecap="round"/>
<path d="M259.8 166.9h0m6.6 3.6h0m-1.3 4.8h0m2.8 1.2h0" stroke="#dbffad" stroke-width="3.06" stroke-linecap="round"/>
<path d="M258.1 176.3h0m-6.1 3.4h0m2.3 4.9h0m11.4 27.7h0" stroke="#e1ffad" stroke-width="3.06" stroke-linecap="round"/>
<path d="M262.7 177.1h0m-4.6 2.2h0m-6.7 4.7h0m1.3 9.3h0" stroke="#e8ffad" stroke-width="3.06" stroke-linecap="round"/>
<path d="M258 184.3h0m-2.3 5.8h0m1.7-2h0m7 0h0m1.9 2.5h0m.7 13.9h0" stroke="#efffad" stroke-width="3.06" stroke-linecap="round"/>
<path d="M249.4 183.9h0m5.4 10.6h0" stroke="#f6ffad" stroke-width="3.06" stroke-linecap="round"/>
<path d="M255.1 182.6h0m-1.6 13.2h0m12.7-1.2h0m-13.7 15.2h0" stroke="#fdffad" stroke-width="3.06" stroke-linecap="round"/>
<path d="M255.2 180.2h0m4.1 9.1h0m6.4 3.6h0m-10.5 4.8h0" stroke="#fffaad" stroke-width="3.06" stroke-linecap="round"/>
<path d="M264.3 190h0m-5 2.6h0m-1.7 1.2h0" stroke="#fff3ad" stroke-width="3.06" stroke-linecap="round"/>
<path d="M257.5 195.6h0" stroke="#ffecad" stroke-width="3.06" stroke-linecap="round"/>
<path d="M264 192.5h0" stroke="#ffdead" stroke-width="3.06" stroke-linecap="round"/>
<path d="M255.5 202.9h0" stroke="#ffd7ad" stroke-width="3.06" stroke-linecap="round"/>
<path d="M260.8 197.6h0" stroke="#ffd0ad" stroke-width="3.06" stroke-linecap="round"/>
<path d="M260.5 202.9h0" stroke="#ffc2ad" stroke-width="3.06" stroke-linecap="round"/>
<path d="M255 205.6h0" stroke="#ffbbad" stroke-width="3.06" stroke-linecap="round"/>
<path d="M261.6 201.4h0m2.1 .8h0m-6.4 .7h0" stroke="#ffb4ad" stroke-width="3.06" stroke-linecap="round"/>
<path d="M261.4 204.6h0m-5.8 4h0m6.2 1.8h0" stroke="#ffadad" stroke-width="3.06" stroke-linecap="round"/>
<path d="M199.2 175h0m1.5-.8h0m1.9 .4h0m23.2 .5h0m3.9-1.1h0m-25.8 1.8h0m.9 2.3h0m2.9-2h0m3.4 .6h0m1.6 .7h0m9.7 .6h0m90.6-.5h0m8.5-.2h0m-122.5 1.4h0m2.2 .3h0m9.1-.1h0m8.3 1.1h0m6.8 .9h0m2.3-.7h0m1.8-1.6h0m80.5 1.9h0m4.6-1.8h0m3.6 .4h0m2.6 .1h0m-110.2 2.5h0m4.4 1.3h0m6.5 1.4h0m2.9-2h0m3.8 1.7h0m3.6-.7h0m73.4 1h0m1.6-1.1h0m1.7 .7h0m2-.7h0m-99.6 2.1h0m3.7 .6h0m13.6 .6h0m4.5-1.8h0m69.2 .6h0m4.6 .1h0m12.4-.6h0m-119.8 5.3h0m3.3-1.2h0m8.8 .5h0m18.8-1h0m76.4 2h0m-107.5 1.9h0m5.6 .3h0m2-1.6h0m1.9-.2h0m3.5 1h0m3.4 .8h0m.7-1.6h0m12.6 1.7h0m4.8-.2h0m63.1-1.2h0m4.2 1.4h0m12.1 .3h0m4.5-.2h0m1.6-.6h0m-113.3 2.1h0m5.1-.3h0m1.3 1.1h0m15.4-.4h0m87.2 1.7h0m2.6-1.6h0m-118.2 2.7h0m8.7 1.3h0m4.1 .1h0m7.1-.3h0m9.8-2.1h0m1.5 1h0m3.3-.9h0m2.6 0h0m58.8 .9h0m1.5 1.1h0m4.1-.7h0m8.9-.6h0m4.2 1.2h0m-112.2 2.3h0m11.3 1h0m19.2-1.1h0m4.4 .8h0m2.5-1.8h0m3.2 1.1h0m1.3 1.1h0m47.7-1.3h0m-91.8 4h0m6.8-.3h0m2.6-1.7h0m.6 1.7h0m20.3 .5h0m2.5-1.6h0m1.9 .2h0m53.9-.2h0m25.1-.4h0m1.8 1.6h0m-114.7 1.7h0m6.2 .2h0m6.4-.4h0m6.5 1.3h0m4.2-.5h0m1.6-1.3h0m3.4 .8h0m7.8 0h0m4.5-.2h0m50.2 2.1h0m1.6-1.4h0m5-.3h0m16.5-.2h0m3.2 .4h0m4.5 .8h0m-122.4 1.3h0m14.5-.1h0m.3 2.4h0m16.1-1.2h0m1.4 1.4h0m10.1-1h0m3.4-.2h0m1.2 1.2h0m39.7-1.2h0m2.6-1.2h0m5.7 2h0m1.5-.9h0m5.1-1.3h0m18.9 2.2h0m2-1.7h0m-119.6 3.2h0m1.7 1.7h0m10.9-1.4h0m22.8 1.6h0m8.5-1.2h0m4.7 .9h0m1.8-.1h0m33.2-.4h0m5.5-.9h0m-86.8 3.3h0m6.4 1.1h0m4.5-1.2h0m5.5 1.6h0m9.1-2.4h0m4.5 .8h0m6.6 1.2h0m5.2 .2h0m11.7 .2h0m20.7-.2h0m2-2.1h0m6.7 .9h0m8.2-.2h0m2.9-.5h0m6.5 1.9h0m4.1-1.1h0m6.2-.2h0m5.8-1.4h0m-119.6 5.1h0m10.7-.6h0m4.1 .6h0m3.5-.7h0m5.6 .5h0m27 .7h0m3.7-2.3h0m15.7 2.4h0m3-2.6h0m4.7 2.7h0m2.9-.7h0m16.1 .2h0m11.9-1.6h0m11.4 2h0m-116.7 2.1h0m1.8-1.2h0m9.2 .3h0m1.7-.7h0m23.8 1.6h0m15.8 0h0m20.8-.4h0m20.8-.1h0m7.9-1.3h0" stroke="#1212ff" stroke-width="2.7" stroke-linecap="round"/>
<path d="M303.6 182.2h0m-18.2 25.1h0" stroke="#182bff" stroke-width="2.7" stroke-linecap="round"/>
<path d="M212.3 181.5h0m.6 1.7h0m87.2 .6h0m-92.1 3.9h0m88.3 .9h0m14.5 7.2h0m-84.3 1h0m70 4.7h0m-51.3 3.7h0m55.5-1.1h0m-18.2 4.3h0m-4 4.3h0m10.1 4.4h0m-88 .5h0m33 .2h0" stroke="#1e44ff" stroke-width="2.7" stroke-linecap="round"/>
<path d="M302.4 177.1h0m5.4-.5h0m-3.2 4h0m-13 17.3h0m-5.6 4.3h0" stroke="#245cff" stroke-width="2.7" stroke-linecap="round"/>
<path d="M300.8 174.7h0m-1.6 3.8h0m-15.9 26.4h0m-.7 1.7h0m-8.9 8.6h0" stroke="#2a72ff" stroke-width="2.7" stroke-linecap="round"/>
<path d="M298 182.3h0m-62 4.6h0m52.5-.3h0m8.1 .1h0m-5.4 6.2h0m-9 9.3h0m-1.9 8.2h0m-22.5 4.6h0" stroke="#3088ff" stroke-width="2.7" stroke-linecap="round"/>
<path d="M292.6 181.5h0m-2.8 10.2h0m-7.5 3.7h0m5.5 .6h0m-11 13.8h0m-1.4 2.1h0" stroke="#369cff" stroke-width="2.7" stroke-linecap="round"/>
<path d="M295 178.3h0m2.4-2.2h0m-62.5 4.2h0m3.2 7.7h0m41.7 17.3h0m-6.1 5.8h0m-16.7 2.3h0m15.6-.9h0" stroke="#3cb0ff" stroke-width="2.7" stroke-linecap="round"/>
<path d="M276.1 207.3h0" stroke="#42c3ff" stroke-width="2.7" stroke-linecap="round"/>
<path d="M237.1 179.2h0m5.5 14.1h0m37.9-1.5h0m3.3 2.1h0m-8.8 15.6h0m-3.6 4.3h0m-10.9 7.7h0" stroke="#48d4ff" stroke-width="2.7" stroke-linecap="round"/>
<path d="M286.8 178.5h0m.9 3.3h0" stroke="#46e4ff" stroke-width="2.7" stroke-linecap="round"/>
<path d="M280.4 182.9h0m-40.5 4.5h0m40.1 6.7h0m-4.5 9.9h0m-11.4 16.5h0" stroke="#40f3ff" stroke-width="2.7" stroke-linecap="round"/>
<path d="M237.6 182.5h0m30.6 34.8h0m-6.8 2.6h0m4.1 2.3h0" stroke="#3afffb" stroke-width="2.7" stroke-linecap="round"/>
<path d="M238.5 177.8h0m42.6 3.5h0m-2.9 .5h0m-38.3 3.4h0m32.9 22h0" stroke="#34ffe9" stroke-width="2.7" stroke-linecap="round"/>
<path d="M277 191.2h0m-12.8 27.1h0" stroke="#2effd7" stroke-width="2.7" stroke-linecap="round"/>
<path d="M280.5 172h0m-6.3 14.4h0" stroke="#29ffc4" stroke-width="2.7" stroke-linecap="round"/>
<path d="M275.7 182.4h0" stroke="#23ffaf" stroke-width="2.7" stroke-linecap="round"/>
<path d="M239.2 176h0m13.2 35.6h0m10.1 6.2h0" stroke="#1dff9a" stroke-width="2.7" stroke-linecap="round"/>
<path d="M240.6 177.5h0m35.3 2.8h0m-3 9.6h0m-2.2 8.8h0m1.2-2.2h0m.4 2.8h0" stroke="#17ff83" stroke-width="2.7" stroke-linecap="round"/>
<path d="M276.9 172.3h0m-28.1 28.7h0" stroke="#12ff6d" stroke-width="2.7" stroke-linecap="round"/>
<path d="M274.6 177.3h0m-1.6 10.3h0" stroke="#12ff58" stroke-width="2.7" stroke-linecap="round"/>
<path d="M243.8 180h0m24.9 31.2h0" stroke="#12ff44" stroke-width="2.7" stroke-linecap="round"/>
<path d="M246.5 173.5h0m25.8 5.5h0m-28.9 2.8h0" stroke="#12ff30" stroke-width="2.7" stroke-linecap="round"/>
<path d="M272.1 177h0" stroke="#12ff1c" stroke-width="2.7" stroke-linecap="round"/>
<path d="M269.9 166.5h0m-20.8 .7h0m22.2 2.9h0" stroke="#1cff12" stroke-width="2.7" stroke-linecap="round"/>
<path d="M269 187.2h0m-21.6 5.5h0" stroke="#30ff12" stroke-width="2.7" stroke-linecap="round"/>
<path d="M268 166.1h0" stroke="#44ff12" stroke-width="2.7" stroke-linecap="round"/>
<path d="M252.9 166.8h0m-6 14h0m22.1-.7h0" stroke="#58ff12" stroke-width="2.7" stroke-linecap="round"/>
<path d="M269.4 168.4h0m-18.5 33.2h0m9.6 11.2h0" stroke="#6dff12" stroke-width="2.7" stroke-linecap="round"/>
<path d="M260 164.3h0m-3.3 5.1h0m1.9 1.8h0m-12.2 12.5h0m3.8 5.9h0m17.6 7h0" stroke="#81ff12" stroke-width="2.7" stroke-linecap="round"/>
<path d="M259.8 166.9h0m6.6 3.6h0m-1.3 4.8h0m2.8 1.2h0" stroke="#95ff12" stroke-width="2.7" stroke-linecap="round"/>
<path d="M258.1 176.3h0m-6.1 3.4h0m2.3 4.9h0m11.4 27.7h0" stroke="#a9ff12" stroke-width="2.7" stroke-linecap="round"/>
<path d="M262.7 177.1h0m-4.6 2.2h0m-6.7 4.7h0m1.3 9.3h0" stroke="#bdff12" stroke-width="2.7" stroke-linecap="round"/>
<path d="M258 184.3h0m-2.3 5.8h0m1.7-2h0m7 0h0m1.9 2.5h0m.7 13.9h0" stroke="#d2ff12" stroke-width="2.7" stroke-linecap="round"/>
<path d="M249.4 183.9h0m5.4 10.6h0" stroke="#e6ff12" stroke-width="2.7" stroke-linecap="round"/>
<path d="M255.1 182.6h0m-1.6 13.2h0m12.7-1.2h0m-13.7 15.2h0" stroke="#faff12" stroke-width="2.7" stroke-linecap="round"/>
<path d="M255.2 180.2h0m4.1 9.1h0m6.4 3.6h0m-10.5 4.8h0" stroke="#fff012" stroke-width="2.7" stroke-linecap="round"/>
<path d="M264.3 190h0m-5 2.6h0m-1.7 1.2h0" stroke="#ffdc12" stroke-width="2.7" stroke-linecap="round"/>
<path d="M257.5 195.6h0" stroke="#ffc712" stroke-width="2.7" stroke-linecap="round"/>
<path d="M264 192.5h0" stroke="#ff9f12" stroke-width="2.7" stroke-linecap="round"/>
<path d="M255.5 202.9h0" stroke="#ff8b12" stroke-width="2.7" stroke-linecap="round"/>
<path d="M260.8 197.6h0" stroke="#ff7712" stroke-width="2.7" stroke-linecap="round"/>
<path d="M260.5 202.9h0" stroke="#ff4e12" stroke-width="2.7" stroke-linecap="round"/>
<path d="M255 205.6h0" stroke="#ff3a12" stroke-width="2.7" stroke-linecap="round"/>
<path d="M261.6 201.4h0m2.1 .8h0m-6.4 .7h0" stroke="#ff2612" stroke-width="2.7" stroke-linecap="round"/>
<path d="M261.4 204.6h0m-5.8 4h0m6.2 1.8h0" stroke="#ff1212" stroke-width="2.7" stroke-linecap="round"/>
<path d="M208.8 174.1h0m2.6 .6h0m2.8 .8h0m3.2-.6h0m104.1 .1h0m-115.5 .7h0m15.5 0h0m6.2 0h0m-23.6 4h0m4.3 .2h0m6.8-.5h0m1.6 1.3h0m3.4-1.5h0m5.7 0h0m80.2 2.2h0m10 0h0m1.9-.1h0m-109.3 2.5h0m1.7 0h0m19.6-.1h0m86 .8h0m3.7-2.9h0m-120.1 4.7h0m16.2 1h0m2.2-1.7h0m1.4-1h0m3.4 2.7h0m82.3-.6h0m2.2 .3h0m2.7-1.4h0m1.9 .1h0m9.3 .8h0m-119.8 1h0m15.7 1.9h0m7.7-.6h0m3.1-.3h0m2.6 1.7h0m71.9-.8h0m3.7-.8h0m15.6 .8h0m-103.1 2.7h0m7.2-1.3h0m2.4 0h0m70.1 2.2h0m9.6-1.1h0m5.6-.8h0m2.1 1.4h0m-106.6 2.2h0m4.8-.5h0m6.3 .2h0m5.4 .6h0m4.2 .2h0m1.9 .2h0m4.2-.4h0m3.1 .6h0m59-.6h0m21.3 .2h0m-118.2 2.4h0m2.6 1.4h0m1.3-2h0m4.3 0h0m12.5 .6h0m1.2 1.5h0m85-2.5h0m8.2 2.1h0m3.5-1.6h0m.6 1.7h0m-109.8 1.2h0m0 1.9h0m8.6-1.5h0m1.1 1.7h0m9.1-1h0m8.7 1.3h0m1.6-.7h0m51.7 .7h0m2.9-1.6h0m6.1-.9h0m1.2 1.2h0m3.5-.8h0m12.8 0h0m-110 5.1h0m2.9 .1h0m2.3-1.5h0m4.6-.4h0m2.2 .4h0m7-1.2h0m2.5 .1h0m5.6 2.2h0m67.6-.3h0m1.3-2.2h0m.9 1.8h0m3.9-1h0m-105.7 3h0m.8 1.5h0m13.5-2.2h0m9.1 1.5h0m9 1.3h0m8.4-1.4h0m1.5 1.1h0m43.7-1h0m11.3-1.5h0m2.2 1.4h0m2.9 .2h0m3.5-1.7h0m.1 1.7h0m-105.9 3h0m3.1-.4h0m12.9-.9h0m5.7 .4h0m23.1 .2h0m41.4 1h0m2.4 0h0m7.8-.1h0m2.9 .3h0m8 .6h0m3.6-1.1h0m1.6-1.4h0m.5 1.8h0m1.8-1.5h0m1.8-.1h0m-119.9 2.7h0m1.6 2.6h0m4.4-.8h0m1.6-.3h0m2.3-1.6h0m1.8 1.4h0m20.7 1.1h0m11.9-1.2h0m4.9 0h0m44.4-.4h0m12.8-1.1h0m1.8 .8h0m3.6 2h0m6.8-1.4h0m2.6-.6h0m-121.1 3.7h0m13.4-.5h0m4.4 2h0m5.3-1.7h0m2.1 0h0m1.2 1.5h0m1.4-1.7h0m15.6 1.4h0m2.6-2.1h0m4.1 .8h0m32.1 .9h0m2.3-1.8h0m6.6 .7h0m12.1 1.3h0m8.2-.4h0m2.1 .2h0m-103.2 2.2h0m4.1-.5h0m8.3 2.1h0m5.2-1.9h0m2.9 .1h0m5.9-.2h0m1.9 .8h0m20.8 .7h0m10.6 .3h0m6.2-.2h0m7.5-2h0m1.6 1.1h0m10.4-.1h0m7.8 .3h0m13.7-.2h0m-104.7 1.6h0m7.6 1.2h0m16-.2h0m12.1-.6h0m24 1h0m4.1 0h0m8.1-.8h0m33.6-.1h0" stroke="#adadff" stroke-width="2.76" stroke-linecap="round"/>
<path d="M299.8 185.7h0" stroke="#adb4ff" stroke-width="2.76" stroke-linecap="round"/>
<path d="M319.7 175.5h0m-102 1.1h0m83.7 5.1h0m-82.1 8.5h0m17.2-1.6h0m54 7.6h0m5.2-1.1h0m-65.7 4.2h0m-2.7 1.7h0m10.8 3.8h0m3.6-1.3h0m70.8 1.8h0m-73.6 6.3h0m57.7 2.5h0m-41.6 1.3h0m38.8 1.4h0m-49.8 2.4h0m49 .9h0" stroke="#adbbff" stroke-width="2.76" stroke-linecap="round"/>
<path d="M296.1 184.3h0m2.2 4h0m-5.1 8.1h0m-4.7 1.5h0m1.2 1.5h0m-43.2 7.4h0m23.3 11.6h0" stroke="#adc2ff" stroke-width="2.76" stroke-linecap="round"/>
<path d="M301.2 179.3h0m-3 5.8h0m-10.3 14.8h0" stroke="#adc9ff" stroke-width="2.76" stroke-linecap="round"/>
<path d="M297 179.8h0m-62.1 3.9h0m10.2 18.1h0" stroke="#add0ff" stroke-width="2.76" stroke-linecap="round"/>
<path d="M292.7 174h0m4 4h0" stroke="#add7ff" stroke-width="2.76" stroke-linecap="round"/>
<path d="M288.2 180.1h0m-7.4 18.9h0m-3.1 3.5h0m5-2.8h0m-2.3 3.4h0" stroke="#addeff" stroke-width="2.76" stroke-linecap="round"/>
<path d="M245.7 199.3h0m35 1.4h0m3.4 1.6h0" stroke="#ade5ff" stroke-width="2.76" stroke-linecap="round"/>
<path d="M289.1 172.5h0m-55.5 4.6h0m50.6 13h0m-43.4 1.7h0m41.3 .7h0m.5-1.8h0m-.8 6.9h0m-5 7.6h0m-27.9 1.1h0" stroke="#adecff" stroke-width="2.76" stroke-linecap="round"/>
<path d="M236.7 173.2h0m-1.3 4.6h0m45.9-2.2h0m6.7 1.4h0m-3.5 3.3h0m-9 13.7h0m1.8 3.6h0" stroke="#adf3ff" stroke-width="2.76" stroke-linecap="round"/>
<path d="M277.9 189.2h0m.8 2.1h0m-.7 4.1h0m-3.8 3.4h0m2.2 2.4h0" stroke="#adfaff" stroke-width="2.76" stroke-linecap="round"/>
<path d="M281.9 178.1h0m-1.9 1.8h0m3.4 3.5h0m1.8 .5h0" stroke="#adfffd" stroke-width="2.76" stroke-linecap="round"/>
<path d="M276.2 187.8h0m4.4 1.1h0m-5.4 2.6h0m2.2 1.7h0m-4 2.4h0" stroke="#adfff6" stroke-width="2.76" stroke-linecap="round"/>
<path d="M244.5 194.5h0m19 27.6h0" stroke="#adffef" stroke-width="2.76" stroke-linecap="round"/>
<path d="M274.7 189.5h0m-1.9 13.8h0" stroke="#adffe8" stroke-width="2.76" stroke-linecap="round"/>
<path d="M241.8 185h0m29.1 23.3h0" stroke="#adffe1" stroke-width="2.76" stroke-linecap="round"/>
<path d="M239 171.8h0m33.9 20.4h0m-2.2 11.2h0" stroke="#adffdb" stroke-width="2.76" stroke-linecap="round"/>
<path d="M241.2 172.1h0m34.3 1.6h0m1.4 1.4h0m-1.6 9.2h0m-1.9 9.5h0" stroke="#adffd4" stroke-width="2.76" stroke-linecap="round"/>
<path d="M243.6 184.8h0m4.1 14.7h0m1.6 3.1h0" stroke="#adffcd" stroke-width="2.76" stroke-linecap="round"/>
<path d="M273.6 181.7h0m-2.6 6.7h0m-2.1 12.2h0m-8.3 16.3h0" stroke="#adffbf" stroke-width="2.76" stroke-linecap="round"/>
<path d="M274.5 169.5h0m-.7 5.1h0m-4.2 20.9h0m-.5 8.7h0" stroke="#adffb8" stroke-width="2.76" stroke-linecap="round"/>
<path d="M250.7 206.2h0m11.4 7.2h0" stroke="#adffb1" stroke-width="2.76" stroke-linecap="round"/>
<path d="M248.1 196.4h0m2.8 7.7h0m.2 4.1h0m16.5 4.3h0" stroke="#b1ffad" stroke-width="2.76" stroke-linecap="round"/>
<path d="M247.2 170h0" stroke="#b8ffad" stroke-width="2.76" stroke-linecap="round"/>
<path d="M266.9 167.5h0m-17.7 3.4h0m-3.8 7.8h0m3.1 10.2h0" stroke="#bfffad" stroke-width="2.76" stroke-linecap="round"/>
<path d="M265 166.6h0m-14.6 3h0m17.5 5h0m-15.8 3.2h0m17.9 .9h0m-20.3 7.4h0m18.4 12.1h0" stroke="#cdffad" stroke-width="2.76" stroke-linecap="round"/>
<path d="M251.8 168.3h0m3.6-.4h0m4 1.3h0m7.7 3.7h0m-17.4 7.7h0m17.8 8.6h0" stroke="#d4ffad" stroke-width="2.76" stroke-linecap="round"/>
<path d="M254.3 165.5h0m8.7 3.6h0m-6.9 5.9h0m-3.8 .9h0" stroke="#dbffad" stroke-width="2.76" stroke-linecap="round"/>
<path d="M256.4 177.8h0m8.2 2.2h0m.2 1.9h0" stroke="#e1ffad" stroke-width="2.76" stroke-linecap="round"/>
<path d="M260 175.4h0m.6-2.3h0m-1 5.4h0m7 .6h0m-13.7 4.1h0m14.8 2.7h0m-16.9 6.2h0" stroke="#e8ffad" stroke-width="2.76" stroke-linecap="round"/>
<path d="M253.6 179h0m10.8 15.8h0" stroke="#efffad" stroke-width="2.76" stroke-linecap="round"/>
<path d="M261 177h0m2.1 4h0m-3.4 2.8h0m-5.7 15.7h0" stroke="#f6ffad" stroke-width="2.76" stroke-linecap="round"/>
<path d="M261.2 179.9h0m-2.2 1.6h0" stroke="#fdffad" stroke-width="2.76" stroke-linecap="round"/>
<path d="M263.2 186.5h0m2.6 10.9h0m1.1 9.3h0" stroke="#fffaad" stroke-width="2.76" stroke-linecap="round"/>
<path d="M263.4 196.2h0m-6.9 3.8h0" stroke="#ffe5ad" stroke-width="2.76" stroke-linecap="round"/>
<path d="M260 194.2h0m-6.3 13.6h0" stroke="#ffdead" stroke-width="2.76" stroke-linecap="round"/>
<path d="M262.5 197.8h0" stroke="#ffd7ad" stroke-width="2.76" stroke-linecap="round"/>
<path d="M258.8 212.2h0" stroke="#ffc9ad" stroke-width="2.76" stroke-linecap="round"/>
<path d="M258.8 202.1h0" stroke="#ffbbad" stroke-width="2.76" stroke-linecap="round"/>
<path d="M256.5 204.8h0m6.4 3.3h0m-4.6 1.2h0" stroke="#ffb4ad" stroke-width="2.76" stroke-linecap="round"/>
<path d="M259.6 205h0m2.3 1.8h0m-1.8 3.9h0" stroke="#ffadad" stroke-width="2.76" stroke-linecap="round"/>
<path d="M208.8 174.1h0m2.6 .6h0m2.8 .8h0m3.2-.6h0m104.1 .1h0m-115.5 .7h0m15.5 0h0m6.2 0h0m-23.6 4h0m4.3 .2h0m6.8-.5h0m1.6 1.3h0m3.4-1.5h0m5.7 0h0m80.2 2.2h0m10 0h0m1.9-.1h0m-109.3 2.5h0m1.7 0h0m19.6-.1h0m86 .8h0m3.7-2.9h0m-120.1 4.7h0m16.2 1h0m2.2-1.7h0m1.4-1h0m3.4 2.7h0m82.3-.6h0m2.2 .3h0m2.7-1.4h0m1.9 .1h0m9.3 .8h0m-119.8 1h0m15.7 1.9h0m7.7-.6h0m3.1-.3h0m2.6 1.7h0m71.9-.8h0m3.7-.8h0m15.6 .8h0m-103.1 2.7h0m7.2-1.3h0m2.4 0h0m70.1 2.2h0m9.6-1.1h0m5.6-.8h0m2.1 1.4h0m-106.6 2.2h0m4.8-.5h0m6.3 .2h0m5.4 .6h0m4.2 .2h0m1.9 .2h0m4.2-.4h0m3.1 .6h0m59-.6h0m21.3 .2h0m-118.2 2.4h0m2.6 1.4h0m1.3-2h0m4.3 0h0m12.5 .6h0m1.2 1.5h0m85-2.5h0m8.2 2.1h0m3.5-1.6h0m.6 1.7h0m-109.8 1.2h0m0 1.9h0m8.6-1.5h0m1.1 1.7h0m9.1-1h0m8.7 1.3h0m1.6-.7h0m51.7 .7h0m2.9-1.6h0m6.1-.9h0m1.2 1.2h0m3.5-.8h0m12.8 0h0m-110 5.1h0m2.9 .1h0m2.3-1.5h0m4.6-.4h0m2.2 .4h0m7-1.2h0m2.5 .1h0m5.6 2.2h0m67.6-.3h0m1.3-2.2h0m.9 1.8h0m3.9-1h0m-105.7 3h0m.8 1.5h0m13.5-2.2h0m9.1 1.5h0m9 1.3h0m8.4-1.4h0m1.5 1.1h0m43.7-1h0m11.3-1.5h0m2.2 1.4h0m2.9 .2h0m3.5-1.7h0m.1 1.7h0m-105.9 3h0m3.1-.4h0m12.9-.9h0m5.7 .4h0m23.1 .2h0m41.4 1h0m2.4 0h0m7.8-.1h0m2.9 .3h0m8 .6h0m3.6-1.1h0m1.6-1.4h0m.5 1.8h0m1.8-1.5h0m1.8-.1h0m-119.9 2.7h0m1.6 2.6h0m4.4-.8h0m1.6-.3h0m2.3-1.6h0m1.8 1.4h0m20.7 1.1h0m11.9-1.2h0m4.9 0h0m44.4-.4h0m12.8-1.1h0m1.8 .8h0m3.6 2h0m6.8-1.4h0m2.6-.6h0m-121.1 3.7h0m13.4-.5h0m4.4 2h0m5.3-1.7h0m2.1 0h0m1.2 1.5h0m1.4-1.7h0m15.6 1.4h0m2.6-2.1h0m4.1 .8h0m32.1 .9h0m2.3-1.8h0m6.6 .7h0m12.1 1.3h0m8.2-.4h0m2.1 .2h0m-103.2 2.2h0m4.1-.5h0m8.3 2.1h0m5.2-1.9h0m2.9 .1h0m5.9-.2h0m1.9 .8h0m20.8 .7h0m10.6 .3h0m6.2-.2h0m7.5-2h0m1.6 1.1h0m10.4-.1h0m7.8 .3h0m13.7-.2h0m-104.7 1.6h0m7.6 1.2h0m16-.2h0m12.1-.6h0m24 1h0m4.1 0h0m8.1-.8h0m33.6-.1h0" stroke="#1212ff" stroke-width="2.4" stroke-linecap="round"/>
<path d="M299.8 185.7h0" stroke="#182bff" stroke-width="2.4" stroke-linecap="round"/>
<path d="M319.7 175.5h0m-102 1.1h0m83.7 5.1h0m-82.1 8.5h0m17.2-1.6h0m54 7.6h0m5.2-1.1h0m-65.7 4.2h0m-2.7 1.7h0m10.8 3.8h0m3.6-1.3h0m70.8 1.8h0m-73.6 6.3h0m57.7 2.5h0m-41.6 1.3h0m38.8 1.4h0m-49.8 2.4h0m49 .9h0" stroke="#1e44ff" stroke-width="2.4" stroke-linecap="round"/>
<path d="M296.1 184.3h0m2.2 4h0m-5.1 8.1h0m-4.7 1.5h0m1.2 1.5h0m-43.2 7.4h0m23.3 11.6h0" stroke="#245cff" stroke-width="2.4" stroke-linecap="round"/>
<path d="M301.2 179.3h0m-3 5.8h0m-10.3 14.8h0" stroke="#2a72ff" stroke-width="2.4" stroke-linecap="round"/>
<path d="M297 179.8h0m-62.1 3.9h0m10.2 18.1h0" stroke="#3088ff" stroke-width="2.4" stroke-linecap="round"/>
<path d="M292.7 174h0m4 4h0" stroke="#369cff" stroke-width="2.4" stroke-linecap="round"/>
<path d="M288.2 180.1h0m-7.4 18.9h0m-3.1 3.5h0m5-2.8h0m-2.3 3.4h0" stroke="#3cb0ff" stroke-width="2.4" stroke-linecap="round"/>
<path d="M245.7 199.3h0m35 1.4h0m3.4 1.6h0" stroke="#42c3ff" stroke-width="2.4" stroke-linecap="round"/>
<path d="M289.1 172.5h0m-55.5 4.6h0m50.6 13h0m-43.4 1.7h0m41.3 .7h0m.5-1.8h0m-.8 6.9h0m-5 7.6h0m-27.9 1.1h0" stroke="#48d4ff" stroke-width="2.4" stroke-linecap="round"/>
<path d="M236.7 173.2h0m-1.3 4.6h0m45.9-2.2h0m6.7 1.4h0m-3.5 3.3h0m-9 13.7h0m1.8 3.6h0" stroke="#46e4ff" stroke-width="2.4" stroke-linecap="round"/>
<path d="M277.9 189.2h0m.8 2.1h0m-.7 4.1h0m-3.8 3.4h0m2.2 2.4h0" stroke="#40f3ff" stroke-width="2.4" stroke-linecap="round"/>
<path d="M281.9 178.1h0m-1.9 1.8h0m3.4 3.5h0m1.8 .5h0" stroke="#3afffb" stroke-width="2.4" stroke-linecap="round"/>
<path d="M276.2 187.8h0m4.4 1.1h0m-5.4 2.6h0m2.2 1.7h0m-4 2.4h0" stroke="#34ffe9" stroke-width="2.4" stroke-linecap="round"/>
<path d="M244.5 194.5h0m19 27.6h0" stroke="#2effd7" stroke-width="2.4" stroke-linecap="round"/>
<path d="M274.7 189.5h0m-1.9 13.8h0" stroke="#29ffc4" stroke-width="2.4" stroke-linecap="round"/>
<path d="M241.8 185h0m29.1 23.3h0" stroke="#23ffaf" stroke-width="2.4" stroke-linecap="round"/>
<path d="M239 171.8h0m33.9 20.4h0m-2.2 11.2h0" stroke="#1dff9a" stroke-width="2.4" stroke-linecap="round"/>
<path d="M241.2 172.1h0m34.3 1.6h0m1.4 1.4h0m-1.6 9.2h0m-1.9 9.5h0" stroke="#17ff83" stroke-width="2.4" stroke-linecap="round"/>
<path d="M243.6 184.8h0m4.1 14.7h0m1.6 3.1h0" stroke="#12ff6d" stroke-width="2.4" stroke-linecap="round"/>
<path d="M273.6 181.7h0m-2.6 6.7h0m-2.1 12.2h0m-8.3 16.3h0" stroke="#12ff44" stroke-width="2.4" stroke-linecap="round"/>
<path d="M274.5 169.5h0m-.7 5.1h0m-4.2 20.9h0m-.5 8.7h0" stroke="#12ff30" stroke-width="2.4" stroke-linecap="round"/>
<path d="M250.7 206.2h0m11.4 7.2h0" stroke="#12ff1c" stroke-width="2.4" stroke-linecap="round"/>
<path d="M248.1 196.4h0m2.8 7.7h0m.2 4.1h0m16.5 4.3h0" stroke="#1cff12" stroke-width="2.4" stroke-linecap="round"/>
<path d="M247.2 170h0" stroke="#30ff12" stroke-width="2.4" stroke-linecap="round"/>
<path d="M266.9 167.5h0m-17.7 3.4h0m-3.8 7.8h0m3.1 10.2h0" stroke="#44ff12" stroke-width="2.4" stroke-linecap="round"/>
<path d="M265 166.6h0m-14.6 3h0m17.5 5h0m-15.8 3.2h0m17.9 .9h0m-20.3 7.4h0m18.4 12.1h0" stroke="#6dff12" stroke-width="2.4" stroke-linecap="round"/>
<path d="M251.8 168.3h0m3.6-.4h0m4 1.3h0m7.7 3.7h0m-17.4 7.7h0m17.8 8.6h0" stroke="#81ff12" stroke-width="2.4" stroke-linecap="round"/>
<path d="M254.3 165.5h0m8.7 3.6h0m-6.9 5.9h0m-3.8 .9h0" stroke="#95ff12" stroke-width="2.4" stroke-linecap="round"/>
<path d="M256.4 177.8h0m8.2 2.2h0m.2 1.9h0" stroke="#a9ff12" stroke-width="2.4" stroke-linecap="round"/>
<path d="M260 175.4h0m.6-2.3h0m-1 5.4h0m7 .6h0m-13.7 4.1h0m14.8 2.7h0m-16.9 6.2h0" stroke="#bdff12" stroke-width="2.4" stroke-linecap="round"/>
<path d="M253.6 179h0m10.8 15.8h0" stroke="#d2ff12" stroke-width="2.4" stroke-linecap="round"/>
<path d="M261 177h0m2.1 4h0m-3.4 2.8h0m-5.7 15.7h0" stroke="#e6ff12" stroke-width="2.4" stroke-linecap="round"/>
<path d="M261.2 179.9h0m-2.2 1.6h0" stroke="#faff12" stroke-width="2.4" stroke-linecap="round"/>
<path d="M263.2 186.5h0m2.6 10.9h0m1.1 9.3h0" stroke="#fff012" stroke-width="2.4" stroke-linecap="round"/>
<path d="M263.4 196.2h0m-6.9 3.8h0" stroke="#ffb312" stroke-width="2.4" stroke-linecap="round"/>
<path d="M260 194.2h0m-6.3 13.6h0" stroke="#ff9f12" stroke-width="2.4" stroke-linecap="round"/>
<path d="M262.5 197.8h0" stroke="#ff8b12" stroke-width="2.4" stroke-linecap="round"/>
<path d="M258.8 212.2h0" stroke="#ff6312" stroke-width="2.4" stroke-linecap="round"/>
<path d="M258.8 202.1h0" stroke="#ff3a12" stroke-width="2.4" stroke-linecap="round"/>
<path d="M256.5 204.8h0m6.4 3.3h0m-4.6 1.2h0" stroke="#ff2612" stroke-width="2.4" stroke-linecap="round"/>
<path d="M259.6 205h0m2.3 1.8h0m-1.8 3.9h0" stroke="#ff1212" stroke-width="2.4" stroke-linecap="round"/>
<path d="M215.5 174.3h0m6.5-.5h0m1.9-.3h0m85.4 .2h0m-107.3 2.9h0m7.3 .6h0m15-1h0m.4 1.7h0m85.9-1.8h0m4.6 .5h0m4.2 1h0m-98.5 3.2h0m8.5-.4h0m78.3-1.4h0m4.3 .2h0m-112.3 4.5h0m5.1-1.9h0m12 2.2h0m1.6-.9h0m2.3-.6h0m6-.1h0m1.7-.7h0m2 .3h0m1.8-.4h0m79.9 .1h0m.3 1.9h0m4.5-.6h0m-111.7 2.8h0m3.9 .2h0m3.6 .2h0m5 1.1h0m3.7-1.1h0m5-1.6h0m3.7 1.2h0m1.3 1.7h0m71.9-.9h0m5.8 .6h0m1.8 .2h0m6.5-1.2h0m-117.9 2.1h0m4.5-.1h0m1.7-.2h0m3.6 1.4h0m3.6 .9h0m6.8-2.4h0m12.5 2.1h0m79.8-1.1h0m4.6 1.5h0m1.6-1.2h0m-117.3 3.7h0m7 .3h0m5.6-.8h0m7.3-1h0m2.5-.4h0m3.4 1.6h0m9-.3h0m66.1-1.1h0m1.4 1.2h0m1.4-1.9h0m.1 2.8h0m1.8 .1h0m-106.4 1.1h0m16.4 .4h0m4.9 .8h0m2.5 .1h0m.5-2.2h0m9.1 1.2h0m66.3 1.2h0m5.2 0h0m4.2-.8h0m11.9 1h0m-120.6 3.2h0m2.2-2.6h0m8.4 .3h0m6.3 .5h0m7.2 .8h0m3.4 1h0m4.5-1.4h0m5.9-.7h0m54.8 1.8h0m9.7-1.4h0m2.6 .7h0m1.5 .8h0m4.5-1.5h0m6.3-1h0m-118.7 3.7h0m.8 1.5h0m3.3 .5h0m11.9-1.6h0m9.4 1.3h0m73.5-2.2h0m10.8-.4h0m12.4 1.3h0m-119.3 3.7h0m2.5 .4h0m1.3-2.2h0m5.3 1.1h0m3.8-1.1h0m.2 2h0m6.3-1.3h0m4 .5h0m6 1.2h0m5.1-1.6h0m7.1 .9h0m77.3-.1h0m-108.9 4h0m2.9-1.6h0m15.5 .1h0m1.8 1.4h0m5.1-.3h0m1.8-.9h0m1.6 1h0m46.5-1.9h0m0 1.7h0m7.7-.6h0m8.9 .9h0m3.1-1.5h0m4.3-.2h0m8.9 .5h0m-119.5 3.4h0m8.5-1.3h0m2.7 1.4h0m11-1.2h0m5.6 1.5h0m6.2-.3h0m8.9 .8h0m5.7-.4h0m32.7 .4h0m11.6-2.7h0m11.1 1.3h0m2.9-.6h0m-107.8 4.5h0m6.2-2h0m3.2 1.7h0m8 1.1h0m1.9-2.5h0m2.2 .8h0m1.5-1h0m1.3 2.3h0m3-.7h0m2.1-.3h0m4.9-.9h0m49.2 1.1h0m4.8 .7h0m1.7-.8h0m4.7 1h0m1.4-2.1h0m5.4 1.6h0m3.8-.7h0m4.6 1.2h0m4.2-.8h0m1.5-1.1h0m-112.4 4.8h0m3.1-.3h0m.9-1.8h0m2 1.1h0m11.1-.2h0m10.2 .9h0m1.6-.5h0m6.9 .3h0m13.5-.1h0m1.8 .5h0m31.4-.8h0m15.8-.1h0m1.7-1.3h0m2.3 .6h0m1.9 .8h0m10.2 1h0m-109.3 1.5h0m6.5 1.5h0m1.4-2.4h0m7-.2h0m10.2 2.7h0m7-1.8h0m2.1-.1h0m3.5 1.4h0m6-1.6h0m25.7 .7h0m3.5-1h0m5.5-.2h0m5.9 0h0m9.4 2.3h0m3.6 0h0m9.6 .4h0m-113.7 1h0m9.5 .5h0m3 .1h0m17.9-.1h0m2.3 0h0m4.6-.5h0m5.1 .2h0m6.3 .4h0m3.7-.6h0m16.4 .7h0m11.2-.3h0m28.7-.1h0m10-.3h0" stroke="#adadff" stroke-width="2.46" stroke-linecap="round"/>
<path d="M271.6 217.1h0" stroke="#adb4ff" stroke-width="2.46" stroke-linecap="round"/>
<path d="M206.1 173.8h0m-.2 6.2h0m2.5 1.6h0m15 2.6h0m-21 1.2h0m32 .4h0m-4.3 6.1h0m64 .2h0m1.5 1.2h0m-77.3 2h0m22.1-.6h0m48.8 .3h0m-68.2 5.1h0m2.2 .7h0m70.7 4.4h0m23.5-1.8h0m-98.6 11h0m25.3 1.1h0m63.3-1h0m-19.7 4.4h0m-41.5 2.5h0m43.8 0h0m6.6 .6h0" stroke="#adbbff" stroke-width="2.46" stroke-linecap="round"/>
<path d="M303.4 174.2h0m2.9-.1h0m-3.3 5.3h0m2.5-.3h0m-19.5 12.3h0m-26.4 23.1h0" stroke="#adc2ff" stroke-width="2.46" stroke-linecap="round"/>
<path d="M294.6 187.5h0" stroke="#adc9ff" stroke-width="2.46" stroke-linecap="round"/>
<path d="M232 176.2h0m5.6 13.9h0m54.3 4.4h0m-50.3 2.6h0m42.4 1h0m1 6.2h0m-17 15.9h0" stroke="#add0ff" stroke-width="2.46" stroke-linecap="round"/>
<path d="M293.7 176.5h0m1.7 4.2h0m-7.9 8h0m-9.3 19.1h0" stroke="#add7ff" stroke-width="2.46" stroke-linecap="round"/>
<path d="M295.4 174.1h0m.1 2.2h0m-8 7.7h0m3.6-1.2h0m-3.1 9.1h0m-33.2 21.4h0" stroke="#addeff" stroke-width="2.46" stroke-linecap="round"/>
<path d="M231.3 172.2h0m1.2 1.4h0m59.2 3.9h0m-7.6 14.7h0m-41 3.7h0m35.4 8.2h0" stroke="#ade5ff" stroke-width="2.46" stroke-linecap="round"/>
<path d="M234 171.5h0m52 14.9h0m-7.2 12h0" stroke="#adecff" stroke-width="2.46" stroke-linecap="round"/>
<path d="M287.8 174.3h0" stroke="#adf3ff" stroke-width="2.46" stroke-linecap="round"/>
<path d="M283.1 175.5h0m-46.4 5.4h0m45.4-1h0m-4.4 3.7h0m4.5 4.3h0m-37.3 8.4h0m33 3.7h0m-6.7 11.1h0" stroke="#adfaff" stroke-width="2.46" stroke-linecap="round"/>
<path d="M281 185.1h0m-6.1 11.3h0m-.3 4.1h0m0 1.9h0m-3.1 2.5h0m-5.5 15.4h0" stroke="#adfffd" stroke-width="2.46" stroke-linecap="round"/>
<path d="M282.6 172.7h0m-8.7 32.5h0m-3.1 1.4h0m2.2 2.6h0m-3.2 3.4h0" stroke="#adfff6" stroke-width="2.46" stroke-linecap="round"/>
<path d="M279 176.4h0m-40.8 9.4h0" stroke="#adffef" stroke-width="2.46" stroke-linecap="round"/>
<path d="M239.1 183.6h0m.4-1.7h0" stroke="#adffe8" stroke-width="2.46" stroke-linecap="round"/>
<path d="M279.4 173.6h0" stroke="#adffe1" stroke-width="2.46" stroke-linecap="round"/>
<path d="M239.8 174h0m31.9 27h0" stroke="#adffdb" stroke-width="2.46" stroke-linecap="round"/>
<path d="M275.3 171.6h0" stroke="#adffd4" stroke-width="2.46" stroke-linecap="round"/>
<path d="M244.1 172.4h0m29.5-.8h0m-32.5 9.4h0" stroke="#adffcd" stroke-width="2.46" stroke-linecap="round"/>
<path d="M271.9 174.8h0m-5.8 42.1h0" stroke="#adffbf" stroke-width="2.46" stroke-linecap="round"/>
<path d="M242.4 176.1h0" stroke="#adffb8" stroke-width="2.46" stroke-linecap="round"/>
<path d="M271.8 168.5h0m-25.8 2.9h0m23.6 2.8h0m-25.6 3.5h0m2.1 8.2h0m23.1 21.1h0" stroke="#adffb1" stroke-width="2.46" stroke-linecap="round"/>
<path d="M266.2 214h0" stroke="#b1ffad" stroke-width="2.46" stroke-linecap="round"/>
<path d="M250.3 173.6h0m2.2-.6h0m-4.5 17.7h0" stroke="#b8ffad" stroke-width="2.46" stroke-linecap="round"/>
<path d="M248.4 172.8h0m.8 21h0" stroke="#bfffad" stroke-width="2.46" stroke-linecap="round"/>
<path d="M268.2 169.8h0m.8 1.7h0m-24.2 15.7h0m1.9 1.1h0" stroke="#c6ffad" stroke-width="2.46" stroke-linecap="round"/>
<path d="M252.4 170.8h0m1.6-1.3h0m-6.8 8.8h0m.3-1.9h0m.6 10.3h0m19.9 15.4h0" stroke="#cdffad" stroke-width="2.46" stroke-linecap="round"/>
<path d="M255.3 170.7h0m6-.9h0m3.6 2.4h0m-16.9 2.5h0m5.5 0h0m-2.3 13.5h0m17.6 5.3h0m-17.7 4.1h0" stroke="#d4ffad" stroke-width="2.46" stroke-linecap="round"/>
<path d="M261.9 166.1h0m-4.2 1.7h0m5.6-.5h0m1.4 1.2h0m-9.7 4.1h0" stroke="#dbffad" stroke-width="2.46" stroke-linecap="round"/>
<path d="M258 173.1h0m5.1-.3h0m4.4 8.3h0m-15.9 5.2h0m.1 4.3h0" stroke="#e1ffad" stroke-width="2.46" stroke-linecap="round"/>
<path d="M256.8 171.6h0m6.3 3h0m1.3 3.7h0m3.1 13.7h0m-14.6 13.7h0" stroke="#e8ffad" stroke-width="2.46" stroke-linecap="round"/>
<path d="M258.1 186.1h0m-2.8 2.1h0m-1.5 3.1h0m.3 10.5h0" stroke="#efffad" stroke-width="2.46" stroke-linecap="round"/>
<path d="M251.3 181.9h0m15.3 .8h0m-13.3 4.5h0m2.5-1.6h0" stroke="#f6ffad" stroke-width="2.46" stroke-linecap="round"/>
<path d="M261.1 185h0m4.1 1.4h0m.8-1.5h0" stroke="#fdffad" stroke-width="2.46" stroke-linecap="round"/>
<path d="M255.7 196h0" stroke="#fffaad" stroke-width="2.46" stroke-linecap="round"/>
<path d="M264.4 198.6h0" stroke="#fff3ad" stroke-width="2.46" stroke-linecap="round"/>
<path d="M265.8 202.5h0" stroke="#ffecad" stroke-width="2.46" stroke-linecap="round"/>
<path d="M261.7 193.7h0" stroke="#ffe5ad" stroke-width="2.46" stroke-linecap="round"/>
<path d="M266.8 210.7h0" stroke="#ffd7ad" stroke-width="2.46" stroke-linecap="round"/>
<path d="M260.9 199.8h0m2.5 .3h0" stroke="#ffd0ad" stroke-width="2.46" stroke-linecap="round"/>
<path d="M259.3 200.4h0" stroke="#ffc9ad" stroke-width="2.46" stroke-linecap="round"/>
<path d="M262.5 203.3h0" stroke="#ffbbad" stroke-width="2.46" stroke-linecap="round"/>
<path d="M257.3 207.3h0m-1.1 3.2h0" stroke="#ffb4ad" stroke-width="2.46" stroke-linecap="round"/>
<path d="M264.7 206.5h0m-3.5 2.2h0m2.6 1.2h0m-.8 1.7h0" stroke="#ffadad" stroke-width="2.46" stroke-linecap="round"/>
<path d="M215.5 174.3h0m6.5-.5h0m1.9-.3h0m85.4 .2h0m-107.3 2.9h0m7.3 .6h0m15-1h0m.4 1.7h0m85.9-1.8h0m4.6 .5h0m4.2 1h0m-98.5 3.2h0m8.5-.4h0m78.3-1.4h0m4.3 .2h0m-112.3 4.5h0m5.1-1.9h0m12 2.2h0m1.6-.9h0m2.3-.6h0m6-.1h0m1.7-.7h0m2 .3h0m1.8-.4h0m79.9 .1h0m.3 1.9h0m4.5-.6h0m-111.7 2.8h0m3.9 .2h0m3.6 .2h0m5 1.1h0m3.7-1.1h0m5-1.6h0m3.7 1.2h0m1.3 1.7h0m71.9-.9h0m5.8 .6h0m1.8 .2h0m6.5-1.2h0m-117.9 2.1h0m4.5-.1h0m1.7-.2h0m3.6 1.4h0m3.6 .9h0m6.8-2.4h0m12.5 2.1h0m79.8-1.1h0m4.6 1.5h0m1.6-1.2h0m-117.3 3.7h0m7 .3h0m5.6-.8h0m7.3-1h0m2.5-.4h0m3.4 1.6h0m9-.3h0m66.1-1.1h0m1.4 1.2h0m1.4-1.9h0m.1 2.8h0m1.8 .1h0m-106.4 1.1h0m16.4 .4h0m4.9 .8h0m2.5 .1h0m.5-2.2h0m9.1 1.2h0m66.3 1.2h0m5.2 0h0m4.2-.8h0m11.9 1h0m-120.6 3.2h0m2.2-2.6h0m8.4 .3h0m6.3 .5h0m7.2 .8h0m3.4 1h0m4.5-1.4h0m5.9-.7h0m54.8 1.8h0m9.7-1.4h0m2.6 .7h0m1.5 .8h0m4.5-1.5h0m6.3-1h0m-118.7 3.7h0m.8 1.5h0m3.3 .5h0m11.9-1.6h0m9.4 1.3h0m73.5-2.2h0m10.8-.4h0m12.4 1.3h0m-119.3 3.7h0m2.5 .4h0m1.3-2.2h0m5.3 1.1h0m3.8-1.1h0m.2 2h0m6.3-1.3h0m4 .5h0m6 1.2h0m5.1-1.6h0m7.1 .9h0m77.3-.1h0m-108.9 4h0m2.9-1.6h0m15.5 .1h0m1.8 1.4h0m5.1-.3h0m1.8-.9h0m1.6 1h0m46.5-1.9h0m0 1.7h0m7.7-.6h0m8.9 .9h0m3.1-1.5h0m4.3-.2h0m8.9 .5h0m-119.5 3.4h0m8.5-1.3h0m2.7 1.4h0m11-1.2h0m5.6 1.5h0m6.2-.3h0m8.9 .8h0m5.7-.4h0m32.7 .4h0m11.6-2.7h0m11.1 1.3h0m2.9-.6h0m-107.8 4.5h0m6.2-2h0m3.2 1.7h0m8 1.1h0m1.9-2.5h0m2.2 .8h0m1.5-1h0m1.3 2.3h0m3-.7h0m2.1-.3h0m4.9-.9h0m49.2 1.1h0m4.8 .7h0m1.7-.8h0m4.7 1h0m1.4-2.1h0m5.4 1.6h0m3.8-.7h0m4.6 1.2h0m4.2-.8h0m1.5-1.1h0m-112.4 4.8h0m3.1-.3h0m.9-1.8h0m2 1.1h0m11.1-.2h0m10.2 .9h0m1.6-.5h0m6.9 .3h0m13.5-.1h0m1.8 .5h0m31.4-.8h0m15.8-.1h0m1.7-1.3h0m2.3 .6h0m1.9 .8h0m10.2 1h0m-109.3 1.5h0m6.5 1.5h0m1.4-2.4h0m7-.2h0m10.2 2.7h0m7-1.8h0m2.1-.1h0m3.5 1.4h0m6-1.6h0m25.7 .7h0m3.5-1h0m5.5-.2h0m5.9 0h0m9.4 2.3h0m3.6 0h0m9.6 .4h0m-113.7 1h0m9.5 .5h0m3 .1h0m17.9-.1h0m2.3 0h0m4.6-.5h0m5.1 .2h0m6.3 .4h0m3.7-.6h0m16.4 .7h0m11.2-.3h0m28.7-.1h0m10-.3h0" stroke="#1212ff" stroke-width="2.1" stroke-linecap="round"/>
<path d="M271.6 217.1h0" stroke="#182bff" stroke-width="2.1" stroke-linecap="round"/>
<path d="M206.1 173.8h0m-.2 6.2h0m2.5 1.6h0m15 2.6h0m-21 1.2h0m32 .4h0m-4.3 6.1h0m64 .2h0m1.5 1.2h0m-77.3 2h0m22.1-.6h0m48.8 .3h0m-68.2 5.1h0m2.2 .7h0m70.7 4.4h0m23.5-1.8h0m-98.6 11h0m25.3 1.1h0m63.3-1h0m-19.7 4.4h0m-41.5 2.5h0m43.8 0h0m6.6 .6h0" stroke="#1e44ff" stroke-width="2.1" stroke-linecap="round"/>
<path d="M303.4 174.2h0m2.9-.1h0m-3.3 5.3h0m2.5-.3h0m-19.5 12.3h0m-26.4 23.1h0" stroke="#245cff" stroke-width="2.1" stroke-linecap="round"/>
<path d="M294.6 187.5h0" stroke="#2a72ff" stroke-width="2.1" stroke-linecap="round"/>
<path d="M232 176.2h0m5.6 13.9h0m54.3 4.4h0m-50.3 2.6h0m42.4 1h0m1 6.2h0m-17 15.9h0" stroke="#3088ff" stroke-width="2.1" stroke-linecap="round"/>
<path d="M293.7 176.5h0m1.7 4.2h0m-7.9 8h0m-9.3 19.1h0" stroke="#369cff" stroke-width="2.1" stroke-linecap="round"/>
<path d="M295.4 174.1h0m.1 2.2h0m-8 7.7h0m3.6-1.2h0m-3.1 9.1h0m-33.2 21.4h0" stroke="#3cb0ff" stroke-width="2.1" stroke-linecap="round"/>
<path d="M231.3 172.2h0m1.2 1.4h0m59.2 3.9h0m-7.6 14.7h0m-41 3.7h0m35.4 8.2h0" stroke="#42c3ff" stroke-width="2.1" stroke-linecap="round"/>
<path d="M234 171.5h0m52 14.9h0m-7.2 12h0" stroke="#48d4ff" stroke-width="2.1" stroke-linecap="round"/>
<path d="M287.8 174.3h0" stroke="#46e4ff" stroke-width="2.1" stroke-linecap="round"/>
<path d="M283.1 175.5h0m-46.4 5.4h0m45.4-1h0m-4.4 3.7h0m4.5 4.3h0m-37.3 8.4h0m33 3.7h0m-6.7 11.1h0" stroke="#40f3ff" stroke-width="2.1" stroke-linecap="round"/>
<path d="M281 185.1h0m-6.1 11.3h0m-.3 4.1h0m0 1.9h0m-3.1 2.5h0m-5.5 15.4h0" stroke="#3afffb" stroke-width="2.1" stroke-linecap="round"/>
<path d="M282.6 172.7h0m-8.7 32.5h0m-3.1 1.4h0m2.2 2.6h0m-3.2 3.4h0" stroke="#34ffe9" stroke-width="2.1" stroke-linecap="round"/>
<path d="M279 176.4h0m-40.8 9.4h0" stroke="#2effd7" stroke-width="2.1" stroke-linecap="round"/>
<path d="M239.1 183.6h0m.4-1.7h0" stroke="#29ffc4" stroke-width="2.1" stroke-linecap="round"/>
<path d="M279.4 173.6h0" stroke="#23ffaf" stroke-width="2.1" stroke-linecap="round"/>
<path d="M239.8 174h0m31.9 27h0" stroke="#1dff9a" stroke-width="2.1" stroke-linecap="round"/>
<path d="M275.3 171.6h0" stroke="#17ff83" stroke-width="2.1" stroke-linecap="round"/>
<path d="M244.1 172.4h0m29.5-.8h0m-32.5 9.4h0" stroke="#12ff6d" stroke-width="2.1" stroke-linecap="round"/>
<path d="M271.9 174.8h0m-5.8 42.1h0" stroke="#12ff44" stroke-width="2.1" stroke-linecap="round"/>
<path d="M242.4 176.1h0" stroke="#12ff30" stroke-width="2.1" stroke-linecap="round"/>
<path d="M271.8 168.5h0m-25.8 2.9h0m23.6 2.8h0m-25.6 3.5h0m2.1 8.2h0m23.1 21.1h0" stroke="#12ff1c" stroke-width="2.1" stroke-linecap="round"/>
<path d="M266.2 214h0" stroke="#1cff12" stroke-width="2.1" stroke-linecap="round"/>
<path d="M250.3 173.6h0m2.2-.6h0m-4.5 17.7h0" stroke="#30ff12" stroke-width="2.1" stroke-linecap="round"/>
<path d="M248.4 172.8h0m.8 21h0" stroke="#44ff12" stroke-width="2.1" stroke-linecap="round"/>
<path d="M268.2 169.8h0m.8 1.7h0m-24.2 15.7h0m1.9 1.1h0" stroke="#58ff12" stroke-width="2.1" stroke-linecap="round"/>
<path d="M252.4 170.8h0m1.6-1.3h0m-6.8 8.8h0m.3-1.9h0m.6 10.3h0m19.9 15.4h0" stroke="#6dff12" stroke-width="2.1" stroke-linecap="round"/>
<path d="M255.3 170.7h0m6-.9h0m3.6 2.4h0m-16.9 2.5h0m5.5 0h0m-2.3 13.5h0m17.6 5.3h0m-17.7 4.1h0" stroke="#81ff12" stroke-width="2.1" stroke-linecap="round"/>
<path d="M261.9 166.1h0m-4.2 1.7h0m5.6-.5h0m1.4 1.2h0m-9.7 4.1h0" stroke="#95ff12" stroke-width="2.1" stroke-linecap="round"/>
<path d="M258 173.1h0m5.1-.3h0m4.4 8.3h0m-15.9 5.2h0m.1 4.3h0" stroke="#a9ff12" stroke-width="2.1" stroke-linecap="round"/>
<path d="M256.8 171.6h0m6.3 3h0m1.3 3.7h0m3.1 13.7h0m-14.6 13.7h0" stroke="#bdff12" stroke-width="2.1" stroke-linecap="round"/>
<path d="M258.1 186.1h0m-2.8 2.1h0m-1.5 3.1h0m.3 10.5h0" stroke="#d2ff12" stroke-width="2.1" stroke-linecap="round"/>
<path d="M251.3 181.9h0m15.3 .8h0m-13.3 4.5h0m2.5-1.6h0" stroke="#e6ff12" stroke-width="2.1" stroke-linecap="round"/>
<path d="M261.1 185h0m4.1 1.4h0m.8-1.5h0" stroke="#faff12" stroke-width="2.1" stroke-linecap="round"/>
<path d="M255.7 196h0" stroke="#fff012" stroke-width="2.1" stroke-linecap="round"/>
<path d="M264.4 198.6h0" stroke="#ffdc12" stroke-width="2.1" stroke-linecap="round"/>
<path d="M265.8 202.5h0" stroke="#ffc712" stroke-width="2.1" stroke-linecap="round"/>
<path d="M261.7 193.7h0" stroke="#ffb312" stroke-width="2.1" stroke-linecap="round"/>
<path d="M266.8 210.7h0" stroke="#ff8b12" stroke-width="2.1" stroke-linecap="round"/>
<path d="M260.9 199.8h0m2.5 .3h0" stroke="#ff7712" stroke-width="2.1" stroke-linecap="round"/>
<path d="M259.3 200.4h0" stroke="#ff6312" stroke-width="2.1" stroke-linecap="round"/>
<path d="M262.5 203.3h0" stroke="#ff3a12" stroke-width="2.1" stroke-linecap="round"/>
<path d="M257.3 207.3h0m-1.1 3.2h0" stroke="#ff2612" stroke-width="2.1" stroke-linecap="round"/>
<path d="M264.7 206.5h0m-3.5 2.2h0m2.6 1.2h0m-.8 1.7h0" stroke="#ff1212" stroke-width="2.1" stroke-linecap="round"/>
<path d="M254.5 210.8H266.5V224.7H254.5ZM250 213L254.3 211.8L254.3 219.5ZM266.5 209.2L269.4 210.5L266.5 212.3Z" fill="#fff"/>
<path d="M254.5 210.8V226.7M266.5 210.8V226.7" stroke="#c0c8f4" stroke-width=".8"/>
<path d="M254.5 222.39999999999998H266.5" stroke="#c8f0b8" stroke-width=".6"/>
<rect x="335.1" y="163.3" width="3.0" height="54.0" fill="url(#jet)"/>
<g font-family="'Liberation Sans', sans-serif" font-size="4.6" fill="#3a3a3a"><text x="342.2" y="167.7">1.0</text><text x="342.2" y="172.8">9.0</text><text x="342.2" y="177.8">8.0</text><text x="342.2" y="182.8">7.0</text><text x="342.2" y="187.9">6.0</text><text x="342.2" y="192.9">5.0</text><text x="342.2" y="198.0">4.0</text><text x="342.2" y="203.0">3.0</text><text x="342.2" y="208.1">2.0</text><text x="342.2" y="213.1">1.0</text><text x="342.2" y="218.2">0.0</text></g>
<text x="331.8" y="160.4" font-family="'Liberation Serif', serif" font-size="5.4" font-weight="bold" fill="#000" stroke="#000" stroke-width=".08">Displacement</text>
<path d="M388.2 150V222.4M508.7 150V222.4" stroke="#b4dcf4" stroke-width=".8"/>
<path d="M400.5 175.2h0m4.5-.8h0m11.1 .7h0m-27.5 1.7h0m2.5-.9h0m2.3 2h0m1.9-1.3h0m9.4-.4h0m4.9 2h0m1.3-2h0m-14.3 4.3h0m4.8-.2h0m-10.4 4.2h0m5.2-1.3h0m2.9-1.5h0m6 .3h0m5.3 1.7h0m2.8-2.2h0m.9 2.7h0m7.4-1.2h0m78.7-.3h0m5 .8h0m-110.8 1.6h0m2.5 1.5h0m6.7-1.7h0m1.8 1.3h0m12-1.1h0m77.8 1.2h0m10.6-1.2h0m2.4 .4h0m-105.8 3.7h0m3-1.2h0m3.7 1.3h0m6.1 1.1h0m2.9-2.6h0m71.2 2.5h0m.9-1.8h0m13.2-1h0m4.3 2.5h0m-118.5 1.7h0m7.5 1.7h0m3.8 0h0m2.6-2.1h0m8.9 .3h0m9.9-1h0m62.9 .4h0m5.8 .8h0m6.7-1.2h0m-108.6 4.2h0m2.3 1.1h0m3.4-1.2h0m4.4 0h0m3.2-.3h0m11.9 0h0m69.6 1.2h0m7.2-1.6h0m8.4 .2h0m3.4 .1h0m3-.6h0m-113.2 4.7h0m3.7 .8h0m.5-1.8h0m2.3 .8h0m10-1.3h0m2.4 .5h0m8.5 .7h0m2.5 1h0m1.4-1.1h0m2.3-1.3h0m1.7 .5h0m52.9-.7h0m2.6 2.3h0m1.5-1.7h0m1.4 1.7h0m2.9-1.5h0m1.5 1.4h0m5.6-1.1h0m2 .7h0m.9-1.8h0m5.1 1.9h0m1.2-1.7h0m2.4 1.9h0m-114.1 1.5h0m9.3 .5h0m1.9-1.1h0m1.5 1.3h0m1.7-.8h0m9.3 1.2h0m1.4-1.6h0m1.1 1.7h0m57.1-1.6h0m13 2.4h0m15.4-.1h0m2.6 0h0m-111.1 3.3h0m25.7-1.5h0m53.1 .3h0m12.1 1.3h0m6.1-1.3h0m-98.5 2.1h0m5.2 .5h0m1 1.5h0m3.4-2.3h0m6.7 1.7h0m8.5-.8h0m4.6-1h0m4.8 1.3h0m43.1 .4h0m1.5-1.1h0m7.6-.6h0m1.2 1.5h0m10.3 1.2h0m3.3-1.1h0m.6-1.9h0m2.2 1.3h0m3.6 1.4h0m-106.9 2.8h0m1.6-1.8h0m.5 1.8h0m11.9 0h0m4.2-2.1h0m6.6 .5h0m1.8 1h0m4.1-.5h0m41.6 .8h0m8.3 .8h0m2.4-2.3h0m.9 1.5h0m3.7-1.8h0m2.1-.2h0m2 1.8h0m2.2-.4h0m9.2 .7h0m5.8-.8h0m-115.6 2.4h0m4 1.7h0m7.5 .2h0m5.2-1h0m3.9-.5h0m3.1-.6h0m10.3 .5h0m1.7-1.1h0m7.2 1.4h0m5 .1h0m1.6 .6h0m29.1-1.2h0m10.5-1h0m22.6 1.8h0m4.9-.3h0m-113.9 3.7h0m13-1.5h0m3.1 1.8h0m4.7-1.2h0m6.8-1.1h0m51.1 2.7h0m6.1-.2h0m0-2h0m13.4-.6h0m-100.7 3.6h0m3 .4h0m8.2 .9h0m1.6 .8h0m7.5-2h0m6.9 0h0m58.7 .1h0m.8 1.9h0m5.1-2.4h0m4.1 .9h0m-96.4 2.3h0m17.5 .1h0m2.2-.3h0m8.6 .9h0m18.8-.9h0m2.6 .2h0m3.4 .6h0m2.6-.3h0m22.1 .5h0m15.4 0h0m1.9-.1h0m7.4 .1h0m16.5-.3h0" stroke="#adadff" stroke-width="3.36" stroke-linecap="round"/>
<path d="M489.7 181.3h0m-70.5 1.6h0m88.9 5h0m-95.9 6.6h0m62.9 4.1h0m-82.2 5.7h0m71.9 7.8h0m30.1 .5h0m-75.8 4.5h0" stroke="#adbbff" stroke-width="3.36" stroke-linecap="round"/>
<path d="M421.8 179.8h0m74.2-.9h0m-13.1 12.7h0" stroke="#adc2ff" stroke-width="3.36" stroke-linecap="round"/>
<path d="M490.4 176.5h0m.2 1.7h0m1.1 3.2h0m1.7-.2h0m-9.1 5.2h0m.4-1.8h0m.5 4.5h0m-14.6 13.4h0m-34.7 5.2h0m28.3 2.5h0" stroke="#adc9ff" stroke-width="3.36" stroke-linecap="round"/>
<path d="M420.5 173.9h0m68.2 2.4h0m5.4 1.6h0m-1.8 1.8h0m-20.1 16h0" stroke="#add0ff" stroke-width="3.36" stroke-linecap="round"/>
<path d="M486.7 176.5h0m.4 1.7h0m-63.3 5.4h0m60.4-1.1h0m3.2-.8h0m1.3 2.7h0m-10.9 8.1h0m-17.7 22.3h0m-18.5 3.2h0m18.9 .9h0" stroke="#add7ff" stroke-width="3.36" stroke-linecap="round"/>
<path d="M492.4 174.9h0m-11.4 11.7h0m-13.8 16.5h0" stroke="#addeff" stroke-width="3.36" stroke-linecap="round"/>
<path d="M484.7 175.2h0m-63.1 .6h0m61.1 5h0m-20.2 27.9h0m-13.6 4.6h0m11.5-.6h0m-1.6 6.8h0" stroke="#ade5ff" stroke-width="3.36" stroke-linecap="round"/>
<path d="M484.5 173.3h0m-1.3 4.8h0m2.2 3.2h0m-6.9 6.9h0" stroke="#adecff" stroke-width="3.36" stroke-linecap="round"/>
<path d="M464 200.1h0m-5.6 21.3h0" stroke="#adf3ff" stroke-width="3.36" stroke-linecap="round"/>
<path d="M477 176.7h0m3-1.2h0" stroke="#adfaff" stroke-width="3.36" stroke-linecap="round"/>
<path d="M478.9 173.3h0" stroke="#adfffd" stroke-width="3.36" stroke-linecap="round"/>
<path d="M426.3 172.8h0m48.2 9.8h0m2.9 1.5h0" stroke="#adfff6" stroke-width="3.36" stroke-linecap="round"/>
<path d="M475.2 179.3h0m-3.3 2.9h0" stroke="#adffef" stroke-width="3.36" stroke-linecap="round"/>
<path d="M464.2 192.3h0m.2 5.1h0m-12.9 24.3h0" stroke="#adffe1" stroke-width="3.36" stroke-linecap="round"/>
<path d="M469.7 180.3h0m-40 7.1h0m.6 3.1h0m20.3 22h0m6.7 2.7h0m-1 3.8h0" stroke="#adffdb" stroke-width="3.36" stroke-linecap="round"/>
<path d="M469 176.3h0m-6.3 17.9h0m-9.1 17.9h0" stroke="#adffd4" stroke-width="3.36" stroke-linecap="round"/>
<path d="M464.6 189.3h0" stroke="#adffcd" stroke-width="3.36" stroke-linecap="round"/>
<path d="M429.9 169.8h0m.5 2.2h0m32.3-2h0m.9 7.3h0m-32.4 7.4h0" stroke="#adffbf" stroke-width="3.36" stroke-linecap="round"/>
<path d="M460.1 198.8h0" stroke="#adffb8" stroke-width="3.36" stroke-linecap="round"/>
<path d="M465.5 173.5h0m-3.2 7.7h0m-29 4h0m29.8 2.2h0m-3.5 5.5h0" stroke="#adffb1" stroke-width="3.36" stroke-linecap="round"/>
<path d="M435.5 198.2h0m22.3 10.5h0" stroke="#b1ffad" stroke-width="3.36" stroke-linecap="round"/>
<path d="M433.9 169.2h0m25.9 18.7h0m-23.3 5.7h0" stroke="#bfffad" stroke-width="3.36" stroke-linecap="round"/>
<path d="M459.6 195.1h0" stroke="#c6ffad" stroke-width="3.36" stroke-linecap="round"/>
<path d="M434.3 174.9h0m19.2 35.3h0" stroke="#cdffad" stroke-width="3.36" stroke-linecap="round"/>
<path d="M435.9 172.5h0" stroke="#d4ffad" stroke-width="3.36" stroke-linecap="round"/>
<path d="M459.8 166.6h0m-22.5 6.9h0m.8 9.8h0m19.8 12.5h0" stroke="#dbffad" stroke-width="3.36" stroke-linecap="round"/>
<path d="M438 166.6h0m.2 2.8h0" stroke="#e8ffad" stroke-width="3.36" stroke-linecap="round"/>
<path d="M457.9 167.3h0m-.2 5.1h0m-21.1 5.4h0" stroke="#efffad" stroke-width="3.36" stroke-linecap="round"/>
<path d="M447.8 169.2h0m-8.2 3.4h0m-1.5 7.8h0m3.8-1.5h0m16.6 .8h0m-.8 3.1h0m-19 15.3h0" stroke="#f6ffad" stroke-width="3.36" stroke-linecap="round"/>
<path d="M458.8 164.2h0m-19.1 4.3h0m15.5 3.2h0m-9.8 3.8h0m7.5 0h0m-10.9 8.8h0" stroke="#fdffad" stroke-width="3.36" stroke-linecap="round"/>
<path d="M450 162.4h0m2.8 3.1h0m-1.9 1.8h0m-3.5 3.8h0m-5.3 2.7h0m-2.1 16.8h0" stroke="#fffaad" stroke-width="3.36" stroke-linecap="round"/>
<path d="M443.6 162.7h0m10.8 1.9h0m-9.8 7.2h0m5.3 1.8h0" stroke="#fff3ad" stroke-width="3.36" stroke-linecap="round"/>
<path d="M445.3 178.5h0m11.4 1.2h0m-14.2 2.8h0m-.9 4.5h0" stroke="#ffecad" stroke-width="3.36" stroke-linecap="round"/>
<path d="M443.4 166.3h0m1.6 3.1h0" stroke="#ffe5ad" stroke-width="3.36" stroke-linecap="round"/>
<path d="M450.8 178.8h0m2.8 4.8h0m2.8 8.3h0" stroke="#ffdead" stroke-width="3.36" stroke-linecap="round"/>
<path d="M446.2 180.9h0m10 14.8h0" stroke="#ffd7ad" stroke-width="3.36" stroke-linecap="round"/>
<path d="M445 187.4h0m8.4 .4h0m2.2 2.2h0m-15.1 15h0" stroke="#ffd0ad" stroke-width="3.36" stroke-linecap="round"/>
<path d="M448.3 188h0" stroke="#ffc9ad" stroke-width="3.36" stroke-linecap="round"/>
<path d="M447.4 189.6h0m3.3 .7h0" stroke="#ffc2ad" stroke-width="3.36" stroke-linecap="round"/>
<path d="M446.2 192.6h0m3-1.1h0m3.2 5.5h0" stroke="#ffbbad" stroke-width="3.36" stroke-linecap="round"/>
<path d="M453.5 202.3h0" stroke="#ffb4ad" stroke-width="3.36" stroke-linecap="round"/>
<path d="M442.7 202.2h0m7.6 .3h0m1.4-1.2h0m-9.1 3.3h0m2.4-.2h0m-.2 2.3h0" stroke="#ffadad" stroke-width="3.36" stroke-linecap="round"/>
<path d="M400.5 175.2h0m4.5-.8h0m11.1 .7h0m-27.5 1.7h0m2.5-.9h0m2.3 2h0m1.9-1.3h0m9.4-.4h0m4.9 2h0m1.3-2h0m-14.3 4.3h0m4.8-.2h0m-10.4 4.2h0m5.2-1.3h0m2.9-1.5h0m6 .3h0m5.3 1.7h0m2.8-2.2h0m.9 2.7h0m7.4-1.2h0m78.7-.3h0m5 .8h0m-110.8 1.6h0m2.5 1.5h0m6.7-1.7h0m1.8 1.3h0m12-1.1h0m77.8 1.2h0m10.6-1.2h0m2.4 .4h0m-105.8 3.7h0m3-1.2h0m3.7 1.3h0m6.1 1.1h0m2.9-2.6h0m71.2 2.5h0m.9-1.8h0m13.2-1h0m4.3 2.5h0m-118.5 1.7h0m7.5 1.7h0m3.8 0h0m2.6-2.1h0m8.9 .3h0m9.9-1h0m62.9 .4h0m5.8 .8h0m6.7-1.2h0m-108.6 4.2h0m2.3 1.1h0m3.4-1.2h0m4.4 0h0m3.2-.3h0m11.9 0h0m69.6 1.2h0m7.2-1.6h0m8.4 .2h0m3.4 .1h0m3-.6h0m-113.2 4.7h0m3.7 .8h0m.5-1.8h0m2.3 .8h0m10-1.3h0m2.4 .5h0m8.5 .7h0m2.5 1h0m1.4-1.1h0m2.3-1.3h0m1.7 .5h0m52.9-.7h0m2.6 2.3h0m1.5-1.7h0m1.4 1.7h0m2.9-1.5h0m1.5 1.4h0m5.6-1.1h0m2 .7h0m.9-1.8h0m5.1 1.9h0m1.2-1.7h0m2.4 1.9h0m-114.1 1.5h0m9.3 .5h0m1.9-1.1h0m1.5 1.3h0m1.7-.8h0m9.3 1.2h0m1.4-1.6h0m1.1 1.7h0m57.1-1.6h0m13 2.4h0m15.4-.1h0m2.6 0h0m-111.1 3.3h0m25.7-1.5h0m53.1 .3h0m12.1 1.3h0m6.1-1.3h0m-98.5 2.1h0m5.2 .5h0m1 1.5h0m3.4-2.3h0m6.7 1.7h0m8.5-.8h0m4.6-1h0m4.8 1.3h0m43.1 .4h0m1.5-1.1h0m7.6-.6h0m1.2 1.5h0m10.3 1.2h0m3.3-1.1h0m.6-1.9h0m2.2 1.3h0m3.6 1.4h0m-106.9 2.8h0m1.6-1.8h0m.5 1.8h0m11.9 0h0m4.2-2.1h0m6.6 .5h0m1.8 1h0m4.1-.5h0m41.6 .8h0m8.3 .8h0m2.4-2.3h0m.9 1.5h0m3.7-1.8h0m2.1-.2h0m2 1.8h0m2.2-.4h0m9.2 .7h0m5.8-.8h0m-115.6 2.4h0m4 1.7h0m7.5 .2h0m5.2-1h0m3.9-.5h0m3.1-.6h0m10.3 .5h0m1.7-1.1h0m7.2 1.4h0m5 .1h0m1.6 .6h0m29.1-1.2h0m10.5-1h0m22.6 1.8h0m4.9-.3h0m-113.9 3.7h0m13-1.5h0m3.1 1.8h0m4.7-1.2h0m6.8-1.1h0m51.1 2.7h0m6.1-.2h0m0-2h0m13.4-.6h0m-100.7 3.6h0m3 .4h0m8.2 .9h0m1.6 .8h0m7.5-2h0m6.9 0h0m58.7 .1h0m.8 1.9h0m5.1-2.4h0m4.1 .9h0m-96.4 2.3h0m17.5 .1h0m2.2-.3h0m8.6 .9h0m18.8-.9h0m2.6 .2h0m3.4 .6h0m2.6-.3h0m22.1 .5h0m15.4 0h0m1.9-.1h0m7.4 .1h0m16.5-.3h0" stroke="#1212ff" stroke-width="3.0" stroke-linecap="round"/>
<path d="M489.7 181.3h0m-70.5 1.6h0m88.9 5h0m-95.9 6.6h0m62.9 4.1h0m-82.2 5.7h0m71.9 7.8h0m30.1 .5h0m-75.8 4.5h0" stroke="#1e44ff" stroke-width="3.0" stroke-linecap="round"/>
<path d="M421.8 179.8h0m74.2-.9h0m-13.1 12.7h0" stroke="#245cff" stroke-width="3.0" stroke-linecap="round"/>
<path d="M490.4 176.5h0m.2 1.7h0m1.1 3.2h0m1.7-.2h0m-9.1 5.2h0m.4-1.8h0m.5 4.5h0m-14.6 13.4h0m-34.7 5.2h0m28.3 2.5h0" stroke="#2a72ff" stroke-width="3.0" stroke-linecap="round"/>
<path d="M420.5 173.9h0m68.2 2.4h0m5.4 1.6h0m-1.8 1.8h0m-20.1 16h0" stroke="#3088ff" stroke-width="3.0" stroke-linecap="round"/>
<path d="M486.7 176.5h0m.4 1.7h0m-63.3 5.4h0m60.4-1.1h0m3.2-.8h0m1.3 2.7h0m-10.9 8.1h0m-17.7 22.3h0m-18.5 3.2h0m18.9 .9h0" stroke="#369cff" stroke-width="3.0" stroke-linecap="round"/>
<path d="M492.4 174.9h0m-11.4 11.7h0m-13.8 16.5h0" stroke="#3cb0ff" stroke-width="3.0" stroke-linecap="round"/>
<path d="M484.7 175.2h0m-63.1 .6h0m61.1 5h0m-20.2 27.9h0m-13.6 4.6h0m11.5-.6h0m-1.6 6.8h0" stroke="#42c3ff" stroke-width="3.0" stroke-linecap="round"/>
<path d="M484.5 173.3h0m-1.3 4.8h0m2.2 3.2h0m-6.9 6.9h0" stroke="#48d4ff" stroke-width="3.0" stroke-linecap="round"/>
<path d="M464 200.1h0m-5.6 21.3h0" stroke="#46e4ff" stroke-width="3.0" stroke-linecap="round"/>
<path d="M477 176.7h0m3-1.2h0" stroke="#40f3ff" stroke-width="3.0" stroke-linecap="round"/>
<path d="M478.9 173.3h0" stroke="#3afffb" stroke-width="3.0" stroke-linecap="round"/>
<path d="M426.3 172.8h0m48.2 9.8h0m2.9 1.5h0" stroke="#34ffe9" stroke-width="3.0" stroke-linecap="round"/>
<path d="M475.2 179.3h0m-3.3 2.9h0" stroke="#2effd7" stroke-width="3.0" stroke-linecap="round"/>
<path d="M464.2 192.3h0m.2 5.1h0m-12.9 24.3h0" stroke="#23ffaf" stroke-width="3.0" stroke-linecap="round"/>
<path d="M469.7 180.3h0m-40 7.1h0m.6 3.1h0m20.3 22h0m6.7 2.7h0m-1 3.8h0" stroke="#1dff9a" stroke-width="3.0" stroke-linecap="round"/>
<path d="M469 176.3h0m-6.3 17.9h0m-9.1 17.9h0" stroke="#17ff83" stroke-width="3.0" stroke-linecap="round"/>
<path d="M464.6 189.3h0" stroke="#12ff6d" stroke-width="3.0" stroke-linecap="round"/>
<path d="M429.9 169.8h0m.5 2.2h0m32.3-2h0m.9 7.3h0m-32.4 7.4h0" stroke="#12ff44" stroke-width="3.0" stroke-linecap="round"/>
<path d="M460.1 198.8h0" stroke="#12ff30" stroke-width="3.0" stroke-linecap="round"/>
<path d="M465.5 173.5h0m-3.2 7.7h0m-29 4h0m29.8 2.2h0m-3.5 5.5h0" stroke="#12ff1c" stroke-width="3.0" stroke-linecap="round"/>
<path d="M435.5 198.2h0m22.3 10.5h0" stroke="#1cff12" stroke-width="3.0" stroke-linecap="round"/>
<path d="M433.9 169.2h0m25.9 18.7h0m-23.3 5.7h0" stroke="#44ff12" stroke-width="3.0" stroke-linecap="round"/>
<path d="M459.6 195.1h0" stroke="#58ff12" stroke-width="3.0" stroke-linecap="round"/>
<path d="M434.3 174.9h0m19.2 35.3h0" stroke="#6dff12" stroke-width="3.0" stroke-linecap="round"/>
<path d="M435.9 172.5h0" stroke="#81ff12" stroke-width="3.0" stroke-linecap="round"/>
<path d="M459.8 166.6h0m-22.5 6.9h0m.8 9.8h0m19.8 12.5h0" stroke="#95ff12" stroke-width="3.0" stroke-linecap="round"/>
<path d="M438 166.6h0m.2 2.8h0" stroke="#bdff12" stroke-width="3.0" stroke-linecap="round"/>
<path d="M457.9 167.3h0m-.2 5.1h0m-21.1 5.4h0" stroke="#d2ff12" stroke-width="3.0" stroke-linecap="round"/>
<path d="M447.8 169.2h0m-8.2 3.4h0m-1.5 7.8h0m3.8-1.5h0m16.6 .8h0m-.8 3.1h0m-19 15.3h0" stroke="#e6ff12" stroke-width="3.0" stroke-linecap="round"/>
<path d="M458.8 164.2h0m-19.1 4.3h0m15.5 3.2h0m-9.8 3.8h0m7.5 0h0m-10.9 8.8h0" stroke="#faff12" stroke-width="3.0" stroke-linecap="round"/>
<path d="M450 162.4h0m2.8 3.1h0m-1.9 1.8h0m-3.5 3.8h0m-5.3 2.7h0m-2.1 16.8h0" stroke="#fff012" stroke-width="3.0" stroke-linecap="round"/>
<path d="M443.6 162.7h0m10.8 1.9h0m-9.8 7.2h0m5.3 1.8h0" stroke="#ffdc12" stroke-width="3.0" stroke-linecap="round"/>
<path d="M445.3 178.5h0m11.4 1.2h0m-14.2 2.8h0m-.9 4.5h0" stroke="#ffc712" stroke-width="3.0" stroke-linecap="round"/>
<path d="M443.4 166.3h0m1.6 3.1h0" stroke="#ffb312" stroke-width="3.0" stroke-linecap="round"/>
<path d="M450.8 178.8h0m2.8 4.8h0m2.8 8.3h0" stroke="#ff9f12" stroke-width="3.0" stroke-linecap="round"/>
<path d="M446.2 180.9h0m10 14.8h0" stroke="#ff8b12" stroke-width="3.0" stroke-linecap="round"/>
<path d="M445 187.4h0m8.4 .4h0m2.2 2.2h0m-15.1 15h0" stroke="#ff7712" stroke-width="3.0" stroke-linecap="round"/>
<path d="M448.3 188h0" stroke="#ff6312" stroke-width="3.0" stroke-linecap="round"/>
<path d="M447.4 189.6h0m3.3 .7h0" stroke="#ff4e12" stroke-width="3.0" stroke-linecap="round"/>
<path d="M446.2 192.6h0m3-1.1h0m3.2 5.5h0" stroke="#ff3a12" stroke-width="3.0" stroke-linecap="round"/>
<path d="M453.5 202.3h0" stroke="#ff2612" stroke-width="3.0" stroke-linecap="round"/>
<path d="M442.7 202.2h0m7.6 .3h0m1.4-1.2h0m-9.1 3.3h0m2.4-.2h0m-.2 2.3h0" stroke="#ff1212" stroke-width="3.0" stroke-linecap="round"/>
<path d="M393.1 174.2h0m10.1 .3h0m105.1 .7h0m-113.2 3.2h0m12.3-2.8h0m-3.2 4.7h0m6.9-.8h0m5.1-.9h0m1.8 1.1h0m2.7 1.8h0m-22.5 2.1h0m9.1-1.4h0m-4.8 4.4h0m5.4-1.8h0m4.8 1.4h0m1.7-.2h0m5.1 .6h0m2.4-.2h0m75.1-.7h0m2-.4h0m1.7-.7h0m1 1.5h0m4.3 1h0m-116.2 1.8h0m2.2 .4h0m1.6 1h0m14.2-2.7h0m4.5 2.1h0m1.6-1.5h0m9.7 1.1h0m74.6-1h0m1.7 .9h0m4.2 .1h0m1.7 .5h0m-111.5 3h0m4.2 .1h0m7.6-.6h0m10.6-.8h0m72.1 1.2h0m9.5-.3h0m1.7-.6h0m-103.6 3.5h0m19 .8h0m3-2.4h0m5.8 2.6h0m.6-1.8h0m-34.4 4.1h0m20 .5h0m68.7-.2h0m2.9-1.4h0m4.3-.6h0m6.6 1.8h0m3.4 .8h0m-104.9 .5h0m4.5 1.6h0m4.2-1.2h0m10.9 1.7h0m3.2 .4h0m6.9-2.1h0m.7 1.8h0m52.8-1.2h0m3.2 1.2h0m1.9-1.5h0m14-.4h0m.5 2.1h0m2.5-1.2h0m1.7 0h0m-107.8 2.5h0m3.7-.5h0m6 1h0m5.5-.2h0m20-1.1h0m3.7 1.1h0m48.5 .5h0m9.1-1.2h0m2.4 .5h0m9.3-.4h0m9.5 .3h0m-116.5 2.1h0m7.8 2.6h0m4.6-.7h0m6.2-1.7h0m5.1-.4h0m.4 2.6h0m7.3-.6h0m7.9-.6h0m44.8-1.1h0m3.8 1.5h0m11.4-1h0m1.8 0h0m1.7 .2h0m6.7 .8h0m-112.6 1.3h0m3.2 2.4h0m.6-1.7h0m10.5 1.5h0m1.3-1.3h0m1.7 1.8h0m5.3-2h0m4.6 2.1h0m1.2-1.9h0m.7 1.5h0m3 0h0m3.3-1.7h0m3.7 2h0m2.4 0h0m.9-2.3h0m1 1.6h0m2.1-2h0m2.2 .8h0m1.4 1.3h0m35.2-1.6h0m24.6 .2h0m9.2 2h0m-115.4 1.6h0m10.2-.8h0m1.9 .7h0m4.2 .3h0m4.1 1h0m2.9-.7h0m2.5-.6h0m11.6 1.3h0m6.1-2.4h0m4.5 .1h0m34.2 2.2h0m5.3-.4h0m8.8 .1h0m16.4-1.2h0m-105.7 4.6h0m2.1-.9h0m2.3-1.1h0m7.8 1h0m12.6-1h0m3.3 1h0m42.3 .6h0m3.9-.5h0m14.2-.4h0m6.4-1h0m5.5 2.6h0m2.2-1.1h0m1.8-.8h0m5.1 1.4h0m-103.7 .8h0m2.2 .1h0m1.2 1.3h0m10.9 .1h0m2.7-.5h0m4 .6h0m.3-1.7h0m3.3 2.6h0m.3-2.3h0m1.4 1.7h0m3.2-.7h0m32.3-1.3h0m21.6 1h0m3.6 1.2h0m3.6-1.6h0m7.5 1.5h0m2.3-1.2h0m-112.5 2.9h0m30.1-.3h0m1.7 .6h0m44.8-.1h0m11.6 0h0m4.8-1.2h0" stroke="#adadff" stroke-width="3.06" stroke-linecap="round"/>
<path d="M495.3 174.6h0m-4.4 12.3h0m-9.8 5.3h0" stroke="#adb4ff" stroke-width="3.06" stroke-linecap="round"/>
<path d="M497.5 177.6h0m5.2-.7h0m-111.4 4.5h0m17.3-1.2h0m87.9 .3h0m2 .1h0m-97.1 1.9h0m87.9 4h0m12.1 6.3h0m-94.7 4.8h0m94.7 3.8h0m5.3-1.3h0m-37.4 5h0m37.1-1.8h0m-77.9 5.9h0m65.1 1.1h0m-63 4.3h0m3.6 2.6h0m27.6 .2h0m23.1-1h0m-21.3 1.8h0m.6 2.9h0" stroke="#adbbff" stroke-width="3.06" stroke-linecap="round"/>
<path d="M502.5 173.9h0m-2.6 5.5h0m-68.5 21.8h0m41.5-1.3h0" stroke="#adc2ff" stroke-width="3.06" stroke-linecap="round"/>
<path d="M492.5 184h0m-63.1 13.1h0m48.2 .3h0m-4.3 5.1h0m-9.5 13.7h0" stroke="#adc9ff" stroke-width="3.06" stroke-linecap="round"/>
<path d="M484.7 177.2h0m1.2 9.8h0m-58.2 4.7h0m39.9 13.2h0m-25.6 10.1h0m20.2 .5h0" stroke="#add0ff" stroke-width="3.06" stroke-linecap="round"/>
<path d="M488.9 178.9h0m-40.2 36.1h0" stroke="#add7ff" stroke-width="3.06" stroke-linecap="round"/>
<path d="M468.5 198.6h0m2.8 2h0m-27.4 18h0" stroke="#addeff" stroke-width="3.06" stroke-linecap="round"/>
<path d="M424.9 186.9h0m35.2 29.8h0" stroke="#ade5ff" stroke-width="3.06" stroke-linecap="round"/>
<path d="M481.2 179.3h0m-.5 4h0m1.7-.6h0" stroke="#adecff" stroke-width="3.06" stroke-linecap="round"/>
<path d="M424.1 173.7h0m58.7 1.2h0m-56.6 10.5h0m1.2 3.7h0m1.7 4.7h0" stroke="#adf3ff" stroke-width="3.06" stroke-linecap="round"/>
<path d="M476.9 178.8h0m-5.4 10.9h0m2.1 .3h0m-41.4 6.3h0" stroke="#adfaff" stroke-width="3.06" stroke-linecap="round"/>
<path d="M432.1 198.1h0m30.2 8.4h0" stroke="#adfffd" stroke-width="3.06" stroke-linecap="round"/>
<path d="M473.1 183.7h0m-10.2 18.5h0m-1.4 1.2h0" stroke="#adfff6" stroke-width="3.06" stroke-linecap="round"/>
<path d="M474 171.9h0" stroke="#adffef" stroke-width="3.06" stroke-linecap="round"/>
<path d="M473.9 174.1h0m-5.2 12.4h0" stroke="#adffe8" stroke-width="3.06" stroke-linecap="round"/>
<path d="M450.7 219.9h0" stroke="#adffe1" stroke-width="3.06" stroke-linecap="round"/>
<path d="M470.4 174.3h0m-42.6 2.4h0" stroke="#adffdb" stroke-width="3.06" stroke-linecap="round"/>
<path d="M451.3 217.4h0m2.2 4.4h0" stroke="#adffd4" stroke-width="3.06" stroke-linecap="round"/>
<path d="M463.7 174.8h0m3.1 7.1h0" stroke="#adffcd" stroke-width="3.06" stroke-linecap="round"/>
<path d="M432.1 191.6h0" stroke="#adffc6" stroke-width="3.06" stroke-linecap="round"/>
<path d="M465.9 183.5h0m-32.4 9.9h0m.5 1.6h0" stroke="#adffbf" stroke-width="3.06" stroke-linecap="round"/>
<path d="M465.5 170.7h0m-3.3 2.2h0m-29.5 6h0m-.3 3.4h0m29.8 7.9h0" stroke="#adffb8" stroke-width="3.06" stroke-linecap="round"/>
<path d="M462.6 167.3h0m1.5 4.7h0m-34.2 2.1h0m3 14.5h0m5.2 18.2h0" stroke="#adffb1" stroke-width="3.06" stroke-linecap="round"/>
<path d="M432 168.8h0m2.4 10.8h0m-.8 10.9h0" stroke="#b1ffad" stroke-width="3.06" stroke-linecap="round"/>
<path d="M434.7 177h0m.8 18.9h0" stroke="#bfffad" stroke-width="3.06" stroke-linecap="round"/>
<path d="M458.9 201.4h0" stroke="#c6ffad" stroke-width="3.06" stroke-linecap="round"/>
<path d="M460.6 181h0m-24.1 9.8h0" stroke="#cdffad" stroke-width="3.06" stroke-linecap="round"/>
<path d="M437.6 201h0m8.2 10.7h0" stroke="#d4ffad" stroke-width="3.06" stroke-linecap="round"/>
<path d="M457.6 204.1h0m-1.6 4.9h0" stroke="#e1ffad" stroke-width="3.06" stroke-linecap="round"/>
<path d="M458.3 185.9h0m-1 20.2h0" stroke="#efffad" stroke-width="3.06" stroke-linecap="round"/>
<path d="M441 171.5h0" stroke="#f6ffad" stroke-width="3.06" stroke-linecap="round"/>
<path d="M444.9 163.9h0m3 1.9h0m3-.7h0m-3.5 2.4h0m1.7-.6h0m-7.8 2.7h0m.9 6h0m0 5.1h0m-2.9 22.2h0" stroke="#fdffad" stroke-width="3.06" stroke-linecap="round"/>
<path d="M452.8 163.5h0m-7.3 2.1h0m.2 1.9h0m-6.3 18.7h0" stroke="#fffaad" stroke-width="3.06" stroke-linecap="round"/>
<path d="M442.9 164.6h0m10.1 2.8h0m2.4-.5h0m-4.3 2.6h0m-1.5 7.9h0" stroke="#fff3ad" stroke-width="3.06" stroke-linecap="round"/>
<path d="M448.1 173.3h0m-3.6 7.7h0m7.4-.4h0m4.2 .9h0m-16 15.4h0" stroke="#ffecad" stroke-width="3.06" stroke-linecap="round"/>
<path d="M446.9 186.8h0" stroke="#ffe5ad" stroke-width="3.06" stroke-linecap="round"/>
<path d="M447.4 183.5h0m8.7 1.6h0m.8 14.1h0" stroke="#ffd7ad" stroke-width="3.06" stroke-linecap="round"/>
<path d="M443.1 193.6h0m-.8 4.8h0" stroke="#ffd0ad" stroke-width="3.06" stroke-linecap="round"/>
<path d="M444.3 190.9h0m1.1 3.2h0m2.3 .4h0m6.5 1.2h0m-11.4 14.6h0" stroke="#ffc2ad" stroke-width="3.06" stroke-linecap="round"/>
<path d="M454.1 191h0" stroke="#ffbbad" stroke-width="3.06" stroke-linecap="round"/>
<path d="M446.2 202.3h0m3.3-1.4h0m-1.3 6.4h0" stroke="#ffb4ad" stroke-width="3.06" stroke-linecap="round"/>
<path d="M454.6 197.4h0m-12.4 2.8h0m13.5 2.3h0m-14.4 .7h0m2 5.2h0m9.5-.5h0" stroke="#ffadad" stroke-width="3.06" stroke-linecap="round"/>
<path d="M393.1 174.2h0m10.1 .3h0m105.1 .7h0m-113.2 3.2h0m12.3-2.8h0m-3.2 4.7h0m6.9-.8h0m5.1-.9h0m1.8 1.1h0m2.7 1.8h0m-22.5 2.1h0m9.1-1.4h0m-4.8 4.4h0m5.4-1.8h0m4.8 1.4h0m1.7-.2h0m5.1 .6h0m2.4-.2h0m75.1-.7h0m2-.4h0m1.7-.7h0m1 1.5h0m4.3 1h0m-116.2 1.8h0m2.2 .4h0m1.6 1h0m14.2-2.7h0m4.5 2.1h0m1.6-1.5h0m9.7 1.1h0m74.6-1h0m1.7 .9h0m4.2 .1h0m1.7 .5h0m-111.5 3h0m4.2 .1h0m7.6-.6h0m10.6-.8h0m72.1 1.2h0m9.5-.3h0m1.7-.6h0m-103.6 3.5h0m19 .8h0m3-2.4h0m5.8 2.6h0m.6-1.8h0m-34.4 4.1h0m20 .5h0m68.7-.2h0m2.9-1.4h0m4.3-.6h0m6.6 1.8h0m3.4 .8h0m-104.9 .5h0m4.5 1.6h0m4.2-1.2h0m10.9 1.7h0m3.2 .4h0m6.9-2.1h0m.7 1.8h0m52.8-1.2h0m3.2 1.2h0m1.9-1.5h0m14-.4h0m.5 2.1h0m2.5-1.2h0m1.7 0h0m-107.8 2.5h0m3.7-.5h0m6 1h0m5.5-.2h0m20-1.1h0m3.7 1.1h0m48.5 .5h0m9.1-1.2h0m2.4 .5h0m9.3-.4h0m9.5 .3h0m-116.5 2.1h0m7.8 2.6h0m4.6-.7h0m6.2-1.7h0m5.1-.4h0m.4 2.6h0m7.3-.6h0m7.9-.6h0m44.8-1.1h0m3.8 1.5h0m11.4-1h0m1.8 0h0m1.7 .2h0m6.7 .8h0m-112.6 1.3h0m3.2 2.4h0m.6-1.7h0m10.5 1.5h0m1.3-1.3h0m1.7 1.8h0m5.3-2h0m4.6 2.1h0m1.2-1.9h0m.7 1.5h0m3 0h0m3.3-1.7h0m3.7 2h0m2.4 0h0m.9-2.3h0m1 1.6h0m2.1-2h0m2.2 .8h0m1.4 1.3h0m35.2-1.6h0m24.6 .2h0m9.2 2h0m-115.4 1.6h0m10.2-.8h0m1.9 .7h0m4.2 .3h0m4.1 1h0m2.9-.7h0m2.5-.6h0m11.6 1.3h0m6.1-2.4h0m4.5 .1h0m34.2 2.2h0m5.3-.4h0m8.8 .1h0m16.4-1.2h0m-105.7 4.6h0m2.1-.9h0m2.3-1.1h0m7.8 1h0m12.6-1h0m3.3 1h0m42.3 .6h0m3.9-.5h0m14.2-.4h0m6.4-1h0m5.5 2.6h0m2.2-1.1h0m1.8-.8h0m5.1 1.4h0m-103.7 .8h0m2.2 .1h0m1.2 1.3h0m10.9 .1h0m2.7-.5h0m4 .6h0m.3-1.7h0m3.3 2.6h0m.3-2.3h0m1.4 1.7h0m3.2-.7h0m32.3-1.3h0m21.6 1h0m3.6 1.2h0m3.6-1.6h0m7.5 1.5h0m2.3-1.2h0m-112.5 2.9h0m30.1-.3h0m1.7 .6h0m44.8-.1h0m11.6 0h0m4.8-1.2h0" stroke="#1212ff" stroke-width="2.7" stroke-linecap="round"/>
<path d="M495.3 174.6h0m-4.4 12.3h0m-9.8 5.3h0" stroke="#182bff" stroke-width="2.7" stroke-linecap="round"/>
<path d="M497.5 177.6h0m5.2-.7h0m-111.4 4.5h0m17.3-1.2h0m87.9 .3h0m2 .1h0m-97.1 1.9h0m87.9 4h0m12.1 6.3h0m-94.7 4.8h0m94.7 3.8h0m5.3-1.3h0m-37.4 5h0m37.1-1.8h0m-77.9 5.9h0m65.1 1.1h0m-63 4.3h0m3.6 2.6h0m27.6 .2h0m23.1-1h0m-21.3 1.8h0m.6 2.9h0" stroke="#1e44ff" stroke-width="2.7" stroke-linecap="round"/>
<path d="M502.5 173.9h0m-2.6 5.5h0m-68.5 21.8h0m41.5-1.3h0" stroke="#245cff" stroke-width="2.7" stroke-linecap="round"/>
<path d="M492.5 184h0m-63.1 13.1h0m48.2 .3h0m-4.3 5.1h0m-9.5 13.7h0" stroke="#2a72ff" stroke-width="2.7" stroke-linecap="round"/>
<path d="M484.7 177.2h0m1.2 9.8h0m-58.2 4.7h0m39.9 13.2h0m-25.6 10.1h0m20.2 .5h0" stroke="#3088ff" stroke-width="2.7" stroke-linecap="round"/>
<path d="M488.9 178.9h0m-40.2 36.1h0" stroke="#369cff" stroke-width="2.7" stroke-linecap="round"/>
<path d="M468.5 198.6h0m2.8 2h0m-27.4 18h0" stroke="#3cb0ff" stroke-width="2.7" stroke-linecap="round"/>
<path d="M424.9 186.9h0m35.2 29.8h0" stroke="#42c3ff" stroke-width="2.7" stroke-linecap="round"/>
<path d="M481.2 179.3h0m-.5 4h0m1.7-.6h0" stroke="#48d4ff" stroke-width="2.7" stroke-linecap="round"/>
<path d="M424.1 173.7h0m58.7 1.2h0m-56.6 10.5h0m1.2 3.7h0m1.7 4.7h0" stroke="#46e4ff" stroke-width="2.7" stroke-linecap="round"/>
<path d="M476.9 178.8h0m-5.4 10.9h0m2.1 .3h0m-41.4 6.3h0" stroke="#40f3ff" stroke-width="2.7" stroke-linecap="round"/>
<path d="M432.1 198.1h0m30.2 8.4h0" stroke="#3afffb" stroke-width="2.7" stroke-linecap="round"/>
<path d="M473.1 183.7h0m-10.2 18.5h0m-1.4 1.2h0" stroke="#34ffe9" stroke-width="2.7" stroke-linecap="round"/>
<path d="M474 171.9h0" stroke="#2effd7" stroke-width="2.7" stroke-linecap="round"/>
<path d="M473.9 174.1h0m-5.2 12.4h0" stroke="#29ffc4" stroke-width="2.7" stroke-linecap="round"/>
<path d="M450.7 219.9h0" stroke="#23ffaf" stroke-width="2.7" stroke-linecap="round"/>
<path d="M470.4 174.3h0m-42.6 2.4h0" stroke="#1dff9a" stroke-width="2.7" stroke-linecap="round"/>
<path d="M451.3 217.4h0m2.2 4.4h0" stroke="#17ff83" stroke-width="2.7" stroke-linecap="round"/>
<path d="M463.7 174.8h0m3.1 7.1h0" stroke="#12ff6d" stroke-width="2.7" stroke-linecap="round"/>
<path d="M432.1 191.6h0" stroke="#12ff58" stroke-width="2.7" stroke-linecap="round"/>
<path d="M465.9 183.5h0m-32.4 9.9h0m.5 1.6h0" stroke="#12ff44" stroke-width="2.7" stroke-linecap="round"/>
<path d="M465.5 170.7h0m-3.3 2.2h0m-29.5 6h0m-.3 3.4h0m29.8 7.9h0" stroke="#12ff30" stroke-width="2.7" stroke-linecap="round"/>
<path d="M462.6 167.3h0m1.5 4.7h0m-34.2 2.1h0m3 14.5h0m5.2 18.2h0" stroke="#12ff1c" stroke-width="2.7" stroke-linecap="round"/>
<path d="M432 168.8h0m2.4 10.8h0m-.8 10.9h0" stroke="#1cff12" stroke-width="2.7" stroke-linecap="round"/>
<path d="M434.7 177h0m.8 18.9h0" stroke="#44ff12" stroke-width="2.7" stroke-linecap="round"/>
<path d="M458.9 201.4h0" stroke="#58ff12" stroke-width="2.7" stroke-linecap="round"/>
<path d="M460.6 181h0m-24.1 9.8h0" stroke="#6dff12" stroke-width="2.7" stroke-linecap="round"/>
<path d="M437.6 201h0m8.2 10.7h0" stroke="#81ff12" stroke-width="2.7" stroke-linecap="round"/>
<path d="M457.6 204.1h0m-1.6 4.9h0" stroke="#a9ff12" stroke-width="2.7" stroke-linecap="round"/>
<path d="M458.3 185.9h0m-1 20.2h0" stroke="#d2ff12" stroke-width="2.7" stroke-linecap="round"/>
<path d="M441 171.5h0" stroke="#e6ff12" stroke-width="2.7" stroke-linecap="round"/>
<path d="M444.9 163.9h0m3 1.9h0m3-.7h0m-3.5 2.4h0m1.7-.6h0m-7.8 2.7h0m.9 6h0m0 5.1h0m-2.9 22.2h0" stroke="#faff12" stroke-width="2.7" stroke-linecap="round"/>
<path d="M452.8 163.5h0m-7.3 2.1h0m.2 1.9h0m-6.3 18.7h0" stroke="#fff012" stroke-width="2.7" stroke-linecap="round"/>
<path d="M442.9 164.6h0m10.1 2.8h0m2.4-.5h0m-4.3 2.6h0m-1.5 7.9h0" stroke="#ffdc12" stroke-width="2.7" stroke-linecap="round"/>
<path d="M448.1 173.3h0m-3.6 7.7h0m7.4-.4h0m4.2 .9h0m-16 15.4h0" stroke="#ffc712" stroke-width="2.7" stroke-linecap="round"/>
<path d="M446.9 186.8h0" stroke="#ffb312" stroke-width="2.7" stroke-linecap="round"/>
<path d="M447.4 183.5h0m8.7 1.6h0m.8 14.1h0" stroke="#ff8b12" stroke-width="2.7" stroke-linecap="round"/>
<path d="M443.1 193.6h0m-.8 4.8h0" stroke="#ff7712" stroke-width="2.7" stroke-linecap="round"/>
<path d="M444.3 190.9h0m1.1 3.2h0m2.3 .4h0m6.5 1.2h0m-11.4 14.6h0" stroke="#ff4e12" stroke-width="2.7" stroke-linecap="round"/>
<path d="M454.1 191h0" stroke="#ff3a12" stroke-width="2.7" stroke-linecap="round"/>
<path d="M446.2 202.3h0m3.3-1.4h0m-1.3 6.4h0" stroke="#ff2612" stroke-width="2.7" stroke-linecap="round"/>
<path d="M454.6 197.4h0m-12.4 2.8h0m13.5 2.3h0m-14.4 .7h0m2 5.2h0m9.5-.5h0" stroke="#ff1212" stroke-width="2.7" stroke-linecap="round"/>
<path d="M394.8 174.7h0m24 .7h0m-25.6 .5h0m8.4 1.2h0m11.6-.6h0m3.5 .4h0m1.9 1.1h0m86.5-.6h0m1.5-1.3h0m-116.9 2.7h0m1.8-.1h0m3 2.7h0m9.5-2.8h0m7.4 2.7h0m3.3-1.7h0m.4 1.7h0m3.8 0h0m82.9-1.8h0m.3 2h0m1.6-2.4h0m-102.6 5.2h0m16.3-1.8h0m2.8 2h0m78.1-2.1h0m4.1 1.8h0m1.2-1.3h0m2.6-.9h0m-106.3 3.6h0m100.2 1h0m-106.6 .9h0m2.3 .7h0m1.3 1.1h0m1.8-1.1h0m11.8 2.1h0m6.4-.7h0m5.2-1.5h0m-29.8 4.6h0m15.1-1.4h0m14.8 1.7h0m2.2-1.6h0m1.9 2h0m60-.1h0m6-1.6h0m10.4-1.1h0m.3 2.1h0m-102.6 2.9h0m1.8 .6h0m8-1.3h0m3 1.3h0m3-1.5h0m1 1.6h0m1.8 .1h0m.9-2.6h0m2.4 1.1h0m65.1 .1h0m2.3 .9h0m3.1-2.3h0m3.8 1.9h0m4.4-.1h0m1.7 .9h0m1.4-1.2h0m2.8 .3h0m-118.5 3.4h0m.4-2.3h0m12.1 1.4h0m11.6 1.1h0m1.7-1.2h0m2.3 .2h0m4.9-1.2h0m70 .6h0m8.9-.4h0m.7 2h0m4.7-.6h0m-116.4 1.9h0m2.7 1.3h0m5.1-1.2h0m14.4 .1h0m16.9 1.4h0m1.6 .5h0m45.5-.1h0m8.4-1.5h0m2.6 .4h0m16.1-1.3h0m-114.3 3.5h0m12.3-.8h0m9.5 1.6h0m3.3 .2h0m5.4-1.4h0m.2 1.7h0m8.4-.3h0m45.4 .5h0m6.8-.4h0m22.9-.2h0m1.8-.6h0m-114.6 2.1h0m.6 2.6h0m6.3-1.3h0m1.8-1h0m7.9 2h0m1-1.4h0m1.7 .5h0m3.1-1.3h0m1.3 1.2h0m13.9-.2h0m56.9-1.2h0m1.7 .8h0m22.1 1.1h0m-114.5 3.4h0m25.3-2.3h0m51 .3h0m.1 1.8h0m11-2h0m19.3 .6h0m-101 2.9h0m22.1 .5h0m4.4 .3h0m43.7-.5h0m2.6 .5h0m2.4-1h0m6.6 .3h0m8.4-.3h0m2.7 0h0m5.6 .5h0m6.5 1.7h0m-115.6 .9h0m7.8 .8h0m2.3-.6h0m10.5-.7h0m7.5 1.8h0m.1-1.8h0m5.3 2.4h0m2.6-1.7h0m2.2-.9h0m4.7 2.5h0m3.7-2.2h0m.4 2.1h0m1.9-1.2h0m27.9 .1h0m12.9 1.4h0m.6-1.7h0m1.7-.5h0m11.2 1.3h0m1.9 .3h0m1.8-1.8h0m2.5 .2h0m7.6 1.5h0m.3-1.7h0m-115.6 5.2h0m4.9-2.3h0m9.9 1.5h0m21.9-.5h0m13.4 1.7h0m5.8 0h0m19.9-.2h0m12.8 .2h0m2.1-.4h0m2.1-1h0m5.7 .6h0m3.4-1.4h0m10-.3h0m4 .5h0m1 1.4h0m-113.7 2.2h0m3.5-.1h0m3.7-.2h0m13.1-.3h0m5.7-.3h0m6.3-.1h0m69.9 .5h0m1.5-.7h0m2.7 .9h0" stroke="#adadff" stroke-width="2.76" stroke-linecap="round"/>
<path d="M495.6 182h0m-8.6 8.2h0m-38.2 28.7h0" stroke="#adb4ff" stroke-width="2.76" stroke-linecap="round"/>
<path d="M501.5 175.5h0m-6.7 8.3h0m-7.8 4.6h0m8.2 0h0m-98.9 2.9h0m31.1 9.1h0m57.8 2.2h0m-82.6 3.1h0m102.6 .8h0m-39.3 4.3h0m9.7 2.7h0m-79.3 6.7h0m93.9-2.7h0m15.9 3.5h0" stroke="#adbbff" stroke-width="2.76" stroke-linecap="round"/>
<path d="M497.1 174.4h0m-17.9 20.8h0m-46.2 7.1h0m36 1.1h0m-6.7 16.1h0" stroke="#adc2ff" stroke-width="2.76" stroke-linecap="round"/>
<path d="M490.5 184.2h0m-16.7 9.9h0m2.2 2.2h0m-30.1 22h0" stroke="#adc9ff" stroke-width="2.76" stroke-linecap="round"/>
<path d="M487.5 185.7h0m-11.1 8.9h0m-4.6 2.7h0m-6.3 9.4h0m-22.4 10.2h0" stroke="#add0ff" stroke-width="2.76" stroke-linecap="round"/>
<path d="M422.7 178.4h0m70.7-2.1h0m-7.1 7.4h0m-4 4.2h0m-4.8 2.8h0m-32.7 23.3h0m-.1 2h0" stroke="#add7ff" stroke-width="2.76" stroke-linecap="round"/>
<path d="M486.9 179.9h0m-4.8 4.9h0m-12.1 10.4h0m-7.9 15.7h0" stroke="#addeff" stroke-width="2.76" stroke-linecap="round"/>
<path d="M423.3 181.1h0m61.3-1.7h0m-8.2 3.2h0m3-.4h0m-6.4 10.5h0m-4.9 8.1h0m-7.7 20.2h0" stroke="#ade5ff" stroke-width="2.76" stroke-linecap="round"/>
<path d="M476.9 180.6h0m3.7 7.7h0m-5.5 4.6h0" stroke="#adecff" stroke-width="2.76" stroke-linecap="round"/>
<path d="M489.1 174.3h0m-7.4 2.6h0m-6 13.4h0m-4.7 2.9h0m-6.3 10.5h0m-4.4 4.8h0m-18.5 4h0" stroke="#adf3ff" stroke-width="2.76" stroke-linecap="round"/>
<path d="M422.4 173.8h0m3.6 9.1h0m48.9 1.6h0" stroke="#adfaff" stroke-width="2.76" stroke-linecap="round"/>
<path d="M469.6 188h0m-.8 3.9h0m-38.5 3.6h0m6.2 10.2h0" stroke="#adfffd" stroke-width="2.76" stroke-linecap="round"/>
<path d="M424.8 179.1h0m46.5 8.3h0" stroke="#adfff6" stroke-width="2.76" stroke-linecap="round"/>
<path d="M478.1 171.5h0m-4.8 5.8h0m-1.4 2.2h0m-11.7 27.1h0" stroke="#adffef" stroke-width="2.76" stroke-linecap="round"/>
<path d="M425.9 174.6h0m45.5 10.5h0m-10.2 16.4h0" stroke="#adffe8" stroke-width="2.76" stroke-linecap="round"/>
<path d="M468 179h0m1 3h0" stroke="#adffe1" stroke-width="2.76" stroke-linecap="round"/>
<path d="M471.6 172.2h0m-4.8 13.7h0m1.4-1.3h0m-1.8 3.4h0m-27.6 20.5h0m14.1 8.1h0" stroke="#adffdb" stroke-width="2.76" stroke-linecap="round"/>
<path d="M465 187h0m.5 3.9h0m-31.6 6.1h0m20.6 17.7h0m-.6 4.5h0" stroke="#adffd4" stroke-width="2.76" stroke-linecap="round"/>
<path d="M468.6 170.5h0m-16.8 44.3h0" stroke="#adffcd" stroke-width="2.76" stroke-linecap="round"/>
<path d="M429.8 177.3h0m34 2.3h0m2.3-.1h0m-34.4 6.9h0m32-1.2h0" stroke="#adffc6" stroke-width="2.76" stroke-linecap="round"/>
<path d="M466.7 172.1h0m-36.9 9.1h0m31.6 14.3h0m-25.7 6.4h0" stroke="#adffbf" stroke-width="2.76" stroke-linecap="round"/>
<path d="M434.7 199.8h0" stroke="#adffb8" stroke-width="2.76" stroke-linecap="round"/>
<path d="M464.6 181.2h0m-2.7 11.4h0" stroke="#adffb1" stroke-width="2.76" stroke-linecap="round"/>
<path d="M437.5 204.2h0m17.8 6.7h0" stroke="#b1ffad" stroke-width="2.76" stroke-linecap="round"/>
<path d="M461.7 174.9h0m-11.3 34.6h0" stroke="#b8ffad" stroke-width="2.76" stroke-linecap="round"/>
<path d="M434.7 191.8h0" stroke="#bfffad" stroke-width="2.76" stroke-linecap="round"/>
<path d="M436.7 175.2h0m.2 24.1h0" stroke="#c6ffad" stroke-width="2.76" stroke-linecap="round"/>
<path d="M435 183.8h0m24.4-1.3h0m-24.4 4.5h0" stroke="#cdffad" stroke-width="2.76" stroke-linecap="round"/>
<path d="M437 171.1h0m.1 14.6h0m21.3 4h0" stroke="#dbffad" stroke-width="2.76" stroke-linecap="round"/>
<path d="M456.7 163.9h0m3.3 4.7h0m-21.7 21.1h0m-1 5.5h0" stroke="#e1ffad" stroke-width="2.76" stroke-linecap="round"/>
<path d="M459.6 171.1h0m-19.9 11.1h0m-1.7 10.3h0" stroke="#e8ffad" stroke-width="2.76" stroke-linecap="round"/>
<path d="M457.6 165.5h0m-16.8 1h0m-.7 13.4h0" stroke="#f6ffad" stroke-width="2.76" stroke-linecap="round"/>
<path d="M449.9 171.7h0" stroke="#fdffad" stroke-width="2.76" stroke-linecap="round"/>
<path d="M449.6 168.6h0m7.1 .7h0m-8.1 5.9h0m4.5-2.7h0m-9.6 5.5h0m.3-2h0m9.2 2.1h0" stroke="#fffaad" stroke-width="2.76" stroke-linecap="round"/>
<path d="M441.2 164.8h0m16.5 9.9h0m-17 2.6h0m7.2-.1h0m3.3-1.7h0m-7.6 10.6h0" stroke="#fff3ad" stroke-width="2.76" stroke-linecap="round"/>
<path d="M446.3 173h0m8.7 1.1h0m-1.3 7h0m-11.1 8.8h0m13.7-2h0" stroke="#ffecad" stroke-width="2.76" stroke-linecap="round"/>
<path d="M447.9 185.1h0m-7.7 15.9h0" stroke="#ffe5ad" stroke-width="2.76" stroke-linecap="round"/>
<path d="M448.7 180.1h0m1.9 4h0m.7-1.6h0m-9.3 13h0m-1.7 3.7h0" stroke="#ffdead" stroke-width="2.76" stroke-linecap="round"/>
<path d="M453.4 185.9h0" stroke="#ffd7ad" stroke-width="2.76" stroke-linecap="round"/>
<path d="M449.2 186.5h0" stroke="#ffd0ad" stroke-width="2.76" stroke-linecap="round"/>
<path d="M450.9 187.7h0m1.6 5.3h0m-2.9 .7h0m-4.8 16.5h0" stroke="#ffc9ad" stroke-width="2.76" stroke-linecap="round"/>
<path d="M449.1 195.5h0" stroke="#ffc2ad" stroke-width="2.76" stroke-linecap="round"/>
<path d="M445.7 184.8h0m6.6 10.4h0m-3.3 4.1h0m-7.5 9.3h0" stroke="#ffbbad" stroke-width="2.76" stroke-linecap="round"/>
<path d="M453.7 199.6h0m-4 5h0m5.7 1.3h0m-8 2.9h0" stroke="#ffb4ad" stroke-width="2.76" stroke-linecap="round"/>
<path d="M444.5 202h0m6.5-2.3h0m.9 3.3h0m1.1 1.5h0m-10 2.2h0m2.7 1.6h0m7-2.1h0" stroke="#ffadad" stroke-width="2.76" stroke-linecap="round"/>
<path d="M394.8 174.7h0m24 .7h0m-25.6 .5h0m8.4 1.2h0m11.6-.6h0m3.5 .4h0m1.9 1.1h0m86.5-.6h0m1.5-1.3h0m-116.9 2.7h0m1.8-.1h0m3 2.7h0m9.5-2.8h0m7.4 2.7h0m3.3-1.7h0m.4 1.7h0m3.8 0h0m82.9-1.8h0m.3 2h0m1.6-2.4h0m-102.6 5.2h0m16.3-1.8h0m2.8 2h0m78.1-2.1h0m4.1 1.8h0m1.2-1.3h0m2.6-.9h0m-106.3 3.6h0m100.2 1h0m-106.6 .9h0m2.3 .7h0m1.3 1.1h0m1.8-1.1h0m11.8 2.1h0m6.4-.7h0m5.2-1.5h0m-29.8 4.6h0m15.1-1.4h0m14.8 1.7h0m2.2-1.6h0m1.9 2h0m60-.1h0m6-1.6h0m10.4-1.1h0m.3 2.1h0m-102.6 2.9h0m1.8 .6h0m8-1.3h0m3 1.3h0m3-1.5h0m1 1.6h0m1.8 .1h0m.9-2.6h0m2.4 1.1h0m65.1 .1h0m2.3 .9h0m3.1-2.3h0m3.8 1.9h0m4.4-.1h0m1.7 .9h0m1.4-1.2h0m2.8 .3h0m-118.5 3.4h0m.4-2.3h0m12.1 1.4h0m11.6 1.1h0m1.7-1.2h0m2.3 .2h0m4.9-1.2h0m70 .6h0m8.9-.4h0m.7 2h0m4.7-.6h0m-116.4 1.9h0m2.7 1.3h0m5.1-1.2h0m14.4 .1h0m16.9 1.4h0m1.6 .5h0m45.5-.1h0m8.4-1.5h0m2.6 .4h0m16.1-1.3h0m-114.3 3.5h0m12.3-.8h0m9.5 1.6h0m3.3 .2h0m5.4-1.4h0m.2 1.7h0m8.4-.3h0m45.4 .5h0m6.8-.4h0m22.9-.2h0m1.8-.6h0m-114.6 2.1h0m.6 2.6h0m6.3-1.3h0m1.8-1h0m7.9 2h0m1-1.4h0m1.7 .5h0m3.1-1.3h0m1.3 1.2h0m13.9-.2h0m56.9-1.2h0m1.7 .8h0m22.1 1.1h0m-114.5 3.4h0m25.3-2.3h0m51 .3h0m.1 1.8h0m11-2h0m19.3 .6h0m-101 2.9h0m22.1 .5h0m4.4 .3h0m43.7-.5h0m2.6 .5h0m2.4-1h0m6.6 .3h0m8.4-.3h0m2.7 0h0m5.6 .5h0m6.5 1.7h0m-115.6 .9h0m7.8 .8h0m2.3-.6h0m10.5-.7h0m7.5 1.8h0m.1-1.8h0m5.3 2.4h0m2.6-1.7h0m2.2-.9h0m4.7 2.5h0m3.7-2.2h0m.4 2.1h0m1.9-1.2h0m27.9 .1h0m12.9 1.4h0m.6-1.7h0m1.7-.5h0m11.2 1.3h0m1.9 .3h0m1.8-1.8h0m2.5 .2h0m7.6 1.5h0m.3-1.7h0m-115.6 5.2h0m4.9-2.3h0m9.9 1.5h0m21.9-.5h0m13.4 1.7h0m5.8 0h0m19.9-.2h0m12.8 .2h0m2.1-.4h0m2.1-1h0m5.7 .6h0m3.4-1.4h0m10-.3h0m4 .5h0m1 1.4h0m-113.7 2.2h0m3.5-.1h0m3.7-.2h0m13.1-.3h0m5.7-.3h0m6.3-.1h0m69.9 .5h0m1.5-.7h0m2.7 .9h0" stroke="#1212ff" stroke-width="2.4" stroke-linecap="round"/>
<path d="M495.6 182h0m-8.6 8.2h0m-38.2 28.7h0" stroke="#182bff" stroke-width="2.4" stroke-linecap="round"/>
<path d="M501.5 175.5h0m-6.7 8.3h0m-7.8 4.6h0m8.2 0h0m-98.9 2.9h0m31.1 9.1h0m57.8 2.2h0m-82.6 3.1h0m102.6 .8h0m-39.3 4.3h0m9.7 2.7h0m-79.3 6.7h0m93.9-2.7h0m15.9 3.5h0" stroke="#1e44ff" stroke-width="2.4" stroke-linecap="round"/>
<path d="M497.1 174.4h0m-17.9 20.8h0m-46.2 7.1h0m36 1.1h0m-6.7 16.1h0" stroke="#245cff" stroke-width="2.4" stroke-linecap="round"/>
<path d="M490.5 184.2h0m-16.7 9.9h0m2.2 2.2h0m-30.1 22h0" stroke="#2a72ff" stroke-width="2.4" stroke-linecap="round"/>
<path d="M487.5 185.7h0m-11.1 8.9h0m-4.6 2.7h0m-6.3 9.4h0m-22.4 10.2h0" stroke="#3088ff" stroke-width="2.4" stroke-linecap="round"/>
<path d="M422.7 178.4h0m70.7-2.1h0m-7.1 7.4h0m-4 4.2h0m-4.8 2.8h0m-32.7 23.3h0m-.1 2h0" stroke="#369cff" stroke-width="2.4" stroke-linecap="round"/>
<path d="M486.9 179.9h0m-4.8 4.9h0m-12.1 10.4h0m-7.9 15.7h0" stroke="#3cb0ff" stroke-width="2.4" stroke-linecap="round"/>
<path d="M423.3 181.1h0m61.3-1.7h0m-8.2 3.2h0m3-.4h0m-6.4 10.5h0m-4.9 8.1h0m-7.7 20.2h0" stroke="#42c3ff" stroke-width="2.4" stroke-linecap="round"/>
<path d="M476.9 180.6h0m3.7 7.7h0m-5.5 4.6h0" stroke="#48d4ff" stroke-width="2.4" stroke-linecap="round"/>
<path d="M489.1 174.3h0m-7.4 2.6h0m-6 13.4h0m-4.7 2.9h0m-6.3 10.5h0m-4.4 4.8h0m-18.5 4h0" stroke="#46e4ff" stroke-width="2.4" stroke-linecap="round"/>
<path d="M422.4 173.8h0m3.6 9.1h0m48.9 1.6h0" stroke="#40f3ff" stroke-width="2.4" stroke-linecap="round"/>
<path d="M469.6 188h0m-.8 3.9h0m-38.5 3.6h0m6.2 10.2h0" stroke="#3afffb" stroke-width="2.4" stroke-linecap="round"/>
<path d="M424.8 179.1h0m46.5 8.3h0" stroke="#34ffe9" stroke-width="2.4" stroke-linecap="round"/>
<path d="M478.1 171.5h0m-4.8 5.8h0m-1.4 2.2h0m-11.7 27.1h0" stroke="#2effd7" stroke-width="2.4" stroke-linecap="round"/>
<path d="M425.9 174.6h0m45.5 10.5h0m-10.2 16.4h0" stroke="#29ffc4" stroke-width="2.4" stroke-linecap="round"/>
<path d="M468 179h0m1 3h0" stroke="#23ffaf" stroke-width="2.4" stroke-linecap="round"/>
<path d="M471.6 172.2h0m-4.8 13.7h0m1.4-1.3h0m-1.8 3.4h0m-27.6 20.5h0m14.1 8.1h0" stroke="#1dff9a" stroke-width="2.4" stroke-linecap="round"/>
<path d="M465 187h0m.5 3.9h0m-31.6 6.1h0m20.6 17.7h0m-.6 4.5h0" stroke="#17ff83" stroke-width="2.4" stroke-linecap="round"/>
<path d="M468.6 170.5h0m-16.8 44.3h0" stroke="#12ff6d" stroke-width="2.4" stroke-linecap="round"/>
<path d="M429.8 177.3h0m34 2.3h0m2.3-.1h0m-34.4 6.9h0m32-1.2h0" stroke="#12ff58" stroke-width="2.4" stroke-linecap="round"/>
<path d="M466.7 172.1h0m-36.9 9.1h0m31.6 14.3h0m-25.7 6.4h0" stroke="#12ff44" stroke-width="2.4" stroke-linecap="round"/>
<path d="M434.7 199.8h0" stroke="#12ff30" stroke-width="2.4" stroke-linecap="round"/>
<path d="M464.6 181.2h0m-2.7 11.4h0" stroke="#12ff1c" stroke-width="2.4" stroke-linecap="round"/>
<path d="M437.5 204.2h0m17.8 6.7h0" stroke="#1cff12" stroke-width="2.4" stroke-linecap="round"/>
<path d="M461.7 174.9h0m-11.3 34.6h0" stroke="#30ff12" stroke-width="2.4" stroke-linecap="round"/>
<path d="M434.7 191.8h0" stroke="#44ff12" stroke-width="2.4" stroke-linecap="round"/>
<path d="M436.7 175.2h0m.2 24.1h0" stroke="#58ff12" stroke-width="2.4" stroke-linecap="round"/>
<path d="M435 183.8h0m24.4-1.3h0m-24.4 4.5h0" stroke="#6dff12" stroke-width="2.4" stroke-linecap="round"/>
<path d="M437 171.1h0m.1 14.6h0m21.3 4h0" stroke="#95ff12" stroke-width="2.4" stroke-linecap="round"/>
<path d="M456.7 163.9h0m3.3 4.7h0m-21.7 21.1h0m-1 5.5h0" stroke="#a9ff12" stroke-width="2.4" stroke-linecap="round"/>
<path d="M459.6 171.1h0m-19.9 11.1h0m-1.7 10.3h0" stroke="#bdff12" stroke-width="2.4" stroke-linecap="round"/>
<path d="M457.6 165.5h0m-16.8 1h0m-.7 13.4h0" stroke="#e6ff12" stroke-width="2.4" stroke-linecap="round"/>
<path d="M449.9 171.7h0" stroke="#faff12" stroke-width="2.4" stroke-linecap="round"/>
<path d="M449.6 168.6h0m7.1 .7h0m-8.1 5.9h0m4.5-2.7h0m-9.6 5.5h0m.3-2h0m9.2 2.1h0" stroke="#fff012" stroke-width="2.4" stroke-linecap="round"/>
<path d="M441.2 164.8h0m16.5 9.9h0m-17 2.6h0m7.2-.1h0m3.3-1.7h0m-7.6 10.6h0" stroke="#ffdc12" stroke-width="2.4" stroke-linecap="round"/>
<path d="M446.3 173h0m8.7 1.1h0m-1.3 7h0m-11.1 8.8h0m13.7-2h0" stroke="#ffc712" stroke-width="2.4" stroke-linecap="round"/>
<path d="M447.9 185.1h0m-7.7 15.9h0" stroke="#ffb312" stroke-width="2.4" stroke-linecap="round"/>
<path d="M448.7 180.1h0m1.9 4h0m.7-1.6h0m-9.3 13h0m-1.7 3.7h0" stroke="#ff9f12" stroke-width="2.4" stroke-linecap="round"/>
<path d="M453.4 185.9h0" stroke="#ff8b12" stroke-width="2.4" stroke-linecap="round"/>
<path d="M449.2 186.5h0" stroke="#ff7712" stroke-width="2.4" stroke-linecap="round"/>
<path d="M450.9 187.7h0m1.6 5.3h0m-2.9 .7h0m-4.8 16.5h0" stroke="#ff6312" stroke-width="2.4" stroke-linecap="round"/>
<path d="M449.1 195.5h0" stroke="#ff4e12" stroke-width="2.4" stroke-linecap="round"/>
<path d="M445.7 184.8h0m6.6 10.4h0m-3.3 4.1h0m-7.5 9.3h0" stroke="#ff3a12" stroke-width="2.4" stroke-linecap="round"/>
<path d="M453.7 199.6h0m-4 5h0m5.7 1.3h0m-8 2.9h0" stroke="#ff2612" stroke-width="2.4" stroke-linecap="round"/>
<path d="M444.5 202h0m6.5-2.3h0m.9 3.3h0m1.1 1.5h0m-10 2.2h0m2.7 1.6h0m7-2.1h0" stroke="#ff1212" stroke-width="2.4" stroke-linecap="round"/>
<path d="M388.9 175.1h0m7.7 .2h0m12.5 .2h0m5-.4h0m-17.3 2.7h0m1.5-2.1h0m1.4 1.2h0m6.5 .1h0m1.9 .2h0m4.8 1.1h0m1.6-.6h0m89.3-2.2h0m4.2 2.9h0m-118.6 2.1h0m9.7-1.8h0m7.4 .7h0m13.5 .3h0m84.4 1.7h0m2.7-1.3h0m-118.5 2.6h0m4.2 .3h0m10.4-.4h0m3.1 1.2h0m2.9-1.3h0m3.5 .8h0m95.4 .1h0m-119.2 1.7h0m.1 1.8h0m2.1 .1h0m1.4-1.3h0m17-.1h0m94 .2h0m-102.5 2.4h0m5.1 2.1h0m9.7-2.4h0m4.7 1.7h0m71 .7h0m.4-1.7h0m2 1h0m7.9-1.4h0m-111.3 4.8h0m1.1-1.7h0m7.7-.7h0m1.6 .9h0m2.9 1.5h0m5.9 .3h0m4.7-.7h0m5.3-1.3h0m74.5 0h0m.5 2h0m1.9-1.1h0m9.2-.6h0m1.5 1.1h0m-115.1 1.8h0m5.7 1.9h0m8-.7h0m1.5-1.7h0m78.4 1h0m6 .7h0m3.2 .5h0m-101.5 .6h0m10 .8h0m12.1 1.8h0m9.7-.4h0m63.1 .4h0m11.1 0h0m-109.3 2.5h0m14.8 .6h0m4.1-1.3h0m5.3-.5h0m10 .5h0m5.1-1.2h0m50.1 2.4h0m2.4-.7h0m9.3-1.5h0m12 1.4h0m1.5-1.6h0m-105.8 2.7h0m4.2 1.1h0m4.2 1.2h0m1.6-2.1h0m2.9 .6h0m3.9-.1h0m1.6 .6h0m3.5 .8h0m10.8 .1h0m39.7 .4h0m11.4-1h0m2.9 0h0m6.4 .6h0m4.6-1.3h0m4 .8h0m-107.6 2.7h0m1.4 .9h0m22.4-1.3h0m6-.9h0m2.1 2h0m9.1-1.7h0m34.2 .5h0m2 .2h0m5.3 .8h0m1.9-1.1h0m10 1.7h0m1.5-1.4h0m2.4 1.5h0m11.5-2.1h0m3.3 2h0m.9-2.5h0m-118.6 4.9h0m7.2-1.3h0m4.6 1.6h0m6.7-1.1h0m1.2 1.6h0m1.3-2.4h0m62.9 1.9h0m2.4-1.3h0m2.1-.3h0m5.2 1h0m13.6-.6h0m7 1.7h0m5.4-1.5h0m-113.7 3h0m1.5 1.5h0m1.8-.2h0m21.4-1.9h0m14.5 1.9h0m6.8-.5h0m25.8-.4h0m1.7 1.2h0m16.1-2.6h0m1.5 1.6h0m22.5-.9h0m-116.9 2.5h0m3.1 1.2h0m12.6-1.2h0m7.5 2.3h0m.9-1.5h0m5.9-.6h0m7.8 .8h0m10.6 .1h0m30.8-1.7h0m4.7 1.5h0m14 .3h0m19.2-1.7h0m-114.3 5.5h0m7.9-1.9h0m9.4 2.2h0m1.6-1.9h0m3.2 1.9h0m7.8-2.5h0m11.8 1.2h0m1.6-.8h0m2 1h0m3.7 1h0m25.7-.5h0m3.3-.5h0m1.6-1.3h0m3.9 1.1h0m9.9 1.4h0m6.8-.1h0m2.5-1.2h0m.4-1.6h0m2.7 2h0m-100.5 .9h0m5.5 .9h0m23.2 .4h0m3-.3h0m3-.6h0m14.9 .5h0m22.6 .3h0m3.1-.3h0m3.5 .4h0m10.3 .2h0m14-.4h0m1.9-.6h0" stroke="#adadff" stroke-width="2.46" stroke-linecap="round"/>
<path d="M420 176.9h0m77.1 6.7h0m-73.8 1.7h0m2.1 4.2h0" stroke="#adb4ff" stroke-width="2.46" stroke-linecap="round"/>
<path d="M393.5 179.6h0m22.2 3.9h0m77.1 3h0m-82.3 1.5h0m-6.4 7.7h0m78-1.2h0m-75.1 7.9h0m74.4-2.5h0m10.3 2.3h0m-94.4 1.2h0m88.2 7.4h0m-21.9 3.7h0m19.1 2.1h0m.3-1.9h0m-59.9 5.1h0m-20 2.2h0" stroke="#adbbff" stroke-width="2.46" stroke-linecap="round"/>
<path d="M495.6 176.5h0m-13.3 13.2h0m-1.8 4.1h0m-18.3 27.4h0" stroke="#adc2ff" stroke-width="2.46" stroke-linecap="round"/>
<path d="M492.3 177.9h0m7.6-.3h0m-20.5 14.3h0m4.8 1.2h0m-18.6 15.8h0m2.3-.3h0" stroke="#adc9ff" stroke-width="2.46" stroke-linecap="round"/>
<path d="M498.3 175.6h0m-4 4.2h0m-60.3 24.1h0m13.5 13h0" stroke="#add0ff" stroke-width="2.46" stroke-linecap="round"/>
<path d="M499.9 174.9h0m-20.3 14.9h0m-51.2 5.7h0m42 3h0m3-.5h0m-9.6 9.4h0m-16.9 6.6h0m15.3-.7h0" stroke="#add7ff" stroke-width="2.46" stroke-linecap="round"/>
<path d="M479 180.1h0" stroke="#addeff" stroke-width="2.46" stroke-linecap="round"/>
<path d="M423.1 176.5h0" stroke="#ade5ff" stroke-width="2.46" stroke-linecap="round"/>
<path d="M481.1 172.7h0m5.2 1.7h0m-9.7 11.3h0m2.4-.4h0m-19 25.5h0m-15.9 1.4h0m14.3 4.7h0" stroke="#adecff" stroke-width="2.46" stroke-linecap="round"/>
<path d="M480.8 181.1h0" stroke="#adf3ff" stroke-width="2.46" stroke-linecap="round"/>
<path d="M425.1 181.4h0m48.5 4.4h0m-.6 2.4h0m2.2 .2h0m-45.6 3.7h0" stroke="#adfaff" stroke-width="2.46" stroke-linecap="round"/>
<path d="M427.5 184.1h0m.1 2.4h0m39.4 5.7h0m.1 2.2h0m-1.6 7.5h0m-2.5 2.7h0m-4.7 9h0" stroke="#adfffd" stroke-width="2.46" stroke-linecap="round"/>
<path d="M478.1 175.1h0m-53.3 1.4h0m50.3 .7h0m3.4 .9h0m-5.2 2.5h0m-3.5 9.6h0m-2.4 6.2h0m-34.5 3.9h0" stroke="#adfff6" stroke-width="2.46" stroke-linecap="round"/>
<path d="M469.7 172.2h0m6.7 .1h0m-.1 2.5h0m-48.9 6.4h0m40.1 8.8h0m-2.9 5.4h0m2.2 3.7h0m-9 12.5h0" stroke="#adffef" stroke-width="2.46" stroke-linecap="round"/>
<path d="M470 183.9h0m-40.9 1.4h0" stroke="#adffe8" stroke-width="2.46" stroke-linecap="round"/>
<path d="M427.7 175h0m4.2 19.5h0m33.6-.8h0" stroke="#adffe1" stroke-width="2.46" stroke-linecap="round"/>
<path d="M472.3 175.1h0m-44.6 3.4h0m1.3 4.4h0m6.9 20.8h0m18.9 13.5h0m.2 3.6h0" stroke="#adffdb" stroke-width="2.46" stroke-linecap="round"/>
<path d="M428.8 172.5h0m39.2 1.2h0m-1.9 2.8h0m4.5 1.3h0m-14.2 35.5h0m-6.8 3.2h0" stroke="#adffd4" stroke-width="2.46" stroke-linecap="round"/>
<path d="M465.4 168.9h0m-37.4 2h0m3.1 17.9h0m30.9 9.9h0m.6-1.8h0m-22.7 13.2h0" stroke="#adffcd" stroke-width="2.46" stroke-linecap="round"/>
<path d="M459.7 204.2h0" stroke="#adffc6" stroke-width="2.46" stroke-linecap="round"/>
<path d="M456.7 216.8h0" stroke="#adffbf" stroke-width="2.46" stroke-linecap="round"/>
<path d="M431.7 177h0m-1 2.4h0m21.2 31.3h0" stroke="#adffb8" stroke-width="2.46" stroke-linecap="round"/>
<path d="M462.1 179.2h0m.6 4.5h0m-2.3 7.2h0" stroke="#adffb1" stroke-width="2.46" stroke-linecap="round"/>
<path d="M432.6 170.5h0m29.2 15h0" stroke="#b1ffad" stroke-width="2.46" stroke-linecap="round"/>
<path d="M433.7 172.4h0m-1.9 1.2h0" stroke="#b8ffad" stroke-width="2.46" stroke-linecap="round"/>
<path d="M460.8 165.2h0m.3 12.5h0m-25.4 3.3h0m-.2 7.9h0m23.8 8h0" stroke="#c6ffad" stroke-width="2.46" stroke-linecap="round"/>
<path d="M460.5 173.7h0m0 10.3h0m-2.2 7.5h0" stroke="#d4ffad" stroke-width="2.46" stroke-linecap="round"/>
<path d="M435.6 169.9h0" stroke="#dbffad" stroke-width="2.46" stroke-linecap="round"/>
<path d="M438.5 187.9h0" stroke="#e1ffad" stroke-width="2.46" stroke-linecap="round"/>
<path d="M458.2 178h0m-18.8 6.5h0m-2.2 12.4h0" stroke="#e8ffad" stroke-width="2.46" stroke-linecap="round"/>
<path d="M438.9 177.4h0m20.3-.8h0m-1.6 16.7h0m-18.6 2.2h0" stroke="#efffad" stroke-width="2.46" stroke-linecap="round"/>
<path d="M438.8 171h0m1.3 4.4h0m3.8-1.8h0m-3.3 19.1h0" stroke="#f6ffad" stroke-width="2.46" stroke-linecap="round"/>
<path d="M441.9 162.4h0m1.2 8.6h0m11.8-1.2h0" stroke="#fdffad" stroke-width="2.46" stroke-linecap="round"/>
<path d="M442.4 168h0m6.2 43.5h0" stroke="#fffaad" stroke-width="2.46" stroke-linecap="round"/>
<path d="M446.3 162.9h0m6.7 6.8h0m-6.1 4.9h0m4.7-1.1h0m4.4 3.2h0m-15 12.2h0m2.3-.9h0" stroke="#fff3ad" stroke-width="2.46" stroke-linecap="round"/>
<path d="M455.4 162.2h0m-6.7 2.1h0m3 7.1h0m-2.6 11.5h0m-7.1 8.7h0m15.5 6h0" stroke="#ffecad" stroke-width="2.46" stroke-linecap="round"/>
<path d="M440.5 207.1h0" stroke="#ffe5ad" stroke-width="2.46" stroke-linecap="round"/>
<path d="M454.8 179.3h0m2.2 21.6h0" stroke="#ffdead" stroke-width="2.46" stroke-linecap="round"/>
<path d="M447.1 179.2h0m-3.1 5h0m1.8-1.5h0m9.2 4h0" stroke="#ffd7ad" stroke-width="2.46" stroke-linecap="round"/>
<path d="M445.4 189.1h0" stroke="#ffd0ad" stroke-width="2.46" stroke-linecap="round"/>
<path d="M452.5 190.3h0" stroke="#ffc9ad" stroke-width="2.46" stroke-linecap="round"/>
<path d="M450.8 185.8h0" stroke="#ffc2ad" stroke-width="2.46" stroke-linecap="round"/>
<path d="M454.8 194h0m-11.6 2.8h0" stroke="#ffbbad" stroke-width="2.46" stroke-linecap="round"/>
<path d="M446.4 197.3h0m.7 2.5h0" stroke="#ffb4ad" stroke-width="2.46" stroke-linecap="round"/>
<path d="M445.2 196.1h0m-1.4 3.3h0m1.9-.4h0m4.3-1.4h0m5 3.2h0m-7.4 4.1h0m.9-2.3h0m6.3 1.6h0m-3.6 3h0" stroke="#ffadad" stroke-width="2.46" stroke-linecap="round"/>
<path d="M388.9 175.1h0m7.7 .2h0m12.5 .2h0m5-.4h0m-17.3 2.7h0m1.5-2.1h0m1.4 1.2h0m6.5 .1h0m1.9 .2h0m4.8 1.1h0m1.6-.6h0m89.3-2.2h0m4.2 2.9h0m-118.6 2.1h0m9.7-1.8h0m7.4 .7h0m13.5 .3h0m84.4 1.7h0m2.7-1.3h0m-118.5 2.6h0m4.2 .3h0m10.4-.4h0m3.1 1.2h0m2.9-1.3h0m3.5 .8h0m95.4 .1h0m-119.2 1.7h0m.1 1.8h0m2.1 .1h0m1.4-1.3h0m17-.1h0m94 .2h0m-102.5 2.4h0m5.1 2.1h0m9.7-2.4h0m4.7 1.7h0m71 .7h0m.4-1.7h0m2 1h0m7.9-1.4h0m-111.3 4.8h0m1.1-1.7h0m7.7-.7h0m1.6 .9h0m2.9 1.5h0m5.9 .3h0m4.7-.7h0m5.3-1.3h0m74.5 0h0m.5 2h0m1.9-1.1h0m9.2-.6h0m1.5 1.1h0m-115.1 1.8h0m5.7 1.9h0m8-.7h0m1.5-1.7h0m78.4 1h0m6 .7h0m3.2 .5h0m-101.5 .6h0m10 .8h0m12.1 1.8h0m9.7-.4h0m63.1 .4h0m11.1 0h0m-109.3 2.5h0m14.8 .6h0m4.1-1.3h0m5.3-.5h0m10 .5h0m5.1-1.2h0m50.1 2.4h0m2.4-.7h0m9.3-1.5h0m12 1.4h0m1.5-1.6h0m-105.8 2.7h0m4.2 1.1h0m4.2 1.2h0m1.6-2.1h0m2.9 .6h0m3.9-.1h0m1.6 .6h0m3.5 .8h0m10.8 .1h0m39.7 .4h0m11.4-1h0m2.9 0h0m6.4 .6h0m4.6-1.3h0m4 .8h0m-107.6 2.7h0m1.4 .9h0m22.4-1.3h0m6-.9h0m2.1 2h0m9.1-1.7h0m34.2 .5h0m2 .2h0m5.3 .8h0m1.9-1.1h0m10 1.7h0m1.5-1.4h0m2.4 1.5h0m11.5-2.1h0m3.3 2h0m.9-2.5h0m-118.6 4.9h0m7.2-1.3h0m4.6 1.6h0m6.7-1.1h0m1.2 1.6h0m1.3-2.4h0m62.9 1.9h0m2.4-1.3h0m2.1-.3h0m5.2 1h0m13.6-.6h0m7 1.7h0m5.4-1.5h0m-113.7 3h0m1.5 1.5h0m1.8-.2h0m21.4-1.9h0m14.5 1.9h0m6.8-.5h0m25.8-.4h0m1.7 1.2h0m16.1-2.6h0m1.5 1.6h0m22.5-.9h0m-116.9 2.5h0m3.1 1.2h0m12.6-1.2h0m7.5 2.3h0m.9-1.5h0m5.9-.6h0m7.8 .8h0m10.6 .1h0m30.8-1.7h0m4.7 1.5h0m14 .3h0m19.2-1.7h0m-114.3 5.5h0m7.9-1.9h0m9.4 2.2h0m1.6-1.9h0m3.2 1.9h0m7.8-2.5h0m11.8 1.2h0m1.6-.8h0m2 1h0m3.7 1h0m25.7-.5h0m3.3-.5h0m1.6-1.3h0m3.9 1.1h0m9.9 1.4h0m6.8-.1h0m2.5-1.2h0m.4-1.6h0m2.7 2h0m-100.5 .9h0m5.5 .9h0m23.2 .4h0m3-.3h0m3-.6h0m14.9 .5h0m22.6 .3h0m3.1-.3h0m3.5 .4h0m10.3 .2h0m14-.4h0m1.9-.6h0" stroke="#1212ff" stroke-width="2.1" stroke-linecap="round"/>
<path d="M420 176.9h0m77.1 6.7h0m-73.8 1.7h0m2.1 4.2h0" stroke="#182bff" stroke-width="2.1" stroke-linecap="round"/>
<path d="M393.5 179.6h0m22.2 3.9h0m77.1 3h0m-82.3 1.5h0m-6.4 7.7h0m78-1.2h0m-75.1 7.9h0m74.4-2.5h0m10.3 2.3h0m-94.4 1.2h0m88.2 7.4h0m-21.9 3.7h0m19.1 2.1h0m.3-1.9h0m-59.9 5.1h0m-20 2.2h0" stroke="#1e44ff" stroke-width="2.1" stroke-linecap="round"/>
<path d="M495.6 176.5h0m-13.3 13.2h0m-1.8 4.1h0m-18.3 27.4h0" stroke="#245cff" stroke-width="2.1" stroke-linecap="round"/>
<path d="M492.3 177.9h0m7.6-.3h0m-20.5 14.3h0m4.8 1.2h0m-18.6 15.8h0m2.3-.3h0" stroke="#2a72ff" stroke-width="2.1" stroke-linecap="round"/>
<path d="M498.3 175.6h0m-4 4.2h0m-60.3 24.1h0m13.5 13h0" stroke="#3088ff" stroke-width="2.1" stroke-linecap="round"/>
<path d="M499.9 174.9h0m-20.3 14.9h0m-51.2 5.7h0m42 3h0m3-.5h0m-9.6 9.4h0m-16.9 6.6h0m15.3-.7h0" stroke="#369cff" stroke-width="2.1" stroke-linecap="round"/>
<path d="M479 180.1h0" stroke="#3cb0ff" stroke-width="2.1" stroke-linecap="round"/>
<path d="M423.1 176.5h0" stroke="#42c3ff" stroke-width="2.1" stroke-linecap="round"/>
<path d="M481.1 172.7h0m5.2 1.7h0m-9.7 11.3h0m2.4-.4h0m-19 25.5h0m-15.9 1.4h0m14.3 4.7h0" stroke="#48d4ff" stroke-width="2.1" stroke-linecap="round"/>
<path d="M480.8 181.1h0" stroke="#46e4ff" stroke-width="2.1" stroke-linecap="round"/>
<path d="M425.1 181.4h0m48.5 4.4h0m-.6 2.4h0m2.2 .2h0m-45.6 3.7h0" stroke="#40f3ff" stroke-width="2.1" stroke-linecap="round"/>
<path d="M427.5 184.1h0m.1 2.4h0m39.4 5.7h0m.1 2.2h0m-1.6 7.5h0m-2.5 2.7h0m-4.7 9h0" stroke="#3afffb" stroke-width="2.1" stroke-linecap="round"/>
<path d="M478.1 175.1h0m-53.3 1.4h0m50.3 .7h0m3.4 .9h0m-5.2 2.5h0m-3.5 9.6h0m-2.4 6.2h0m-34.5 3.9h0" stroke="#34ffe9" stroke-width="2.1" stroke-linecap="round"/>
<path d="M469.7 172.2h0m6.7 .1h0m-.1 2.5h0m-48.9 6.4h0m40.1 8.8h0m-2.9 5.4h0m2.2 3.7h0m-9 12.5h0" stroke="#2effd7" stroke-width="2.1" stroke-linecap="round"/>
<path d="M470 183.9h0m-40.9 1.4h0" stroke="#29ffc4" stroke-width="2.1" stroke-linecap="round"/>
<path d="M427.7 175h0m4.2 19.5h0m33.6-.8h0" stroke="#23ffaf" stroke-width="2.1" stroke-linecap="round"/>
<path d="M472.3 175.1h0m-44.6 3.4h0m1.3 4.4h0m6.9 20.8h0m18.9 13.5h0m.2 3.6h0" stroke="#1dff9a" stroke-width="2.1" stroke-linecap="round"/>
<path d="M428.8 172.5h0m39.2 1.2h0m-1.9 2.8h0m4.5 1.3h0m-14.2 35.5h0m-6.8 3.2h0" stroke="#17ff83" stroke-width="2.1" stroke-linecap="round"/>
<path d="M465.4 168.9h0m-37.4 2h0m3.1 17.9h0m30.9 9.9h0m.6-1.8h0m-22.7 13.2h0" stroke="#12ff6d" stroke-width="2.1" stroke-linecap="round"/>
<path d="M459.7 204.2h0" stroke="#12ff58" stroke-width="2.1" stroke-linecap="round"/>
<path d="M456.7 216.8h0" stroke="#12ff44" stroke-width="2.1" stroke-linecap="round"/>
<path d="M431.7 177h0m-1 2.4h0m21.2 31.3h0" stroke="#12ff30" stroke-width="2.1" stroke-linecap="round"/>
<path d="M462.1 179.2h0m.6 4.5h0m-2.3 7.2h0" stroke="#12ff1c" stroke-width="2.1" stroke-linecap="round"/>
<path d="M432.6 170.5h0m29.2 15h0" stroke="#1cff12" stroke-width="2.1" stroke-linecap="round"/>
<path d="M433.7 172.4h0m-1.9 1.2h0" stroke="#30ff12" stroke-width="2.1" stroke-linecap="round"/>
<path d="M460.8 165.2h0m.3 12.5h0m-25.4 3.3h0m-.2 7.9h0m23.8 8h0" stroke="#58ff12" stroke-width="2.1" stroke-linecap="round"/>
<path d="M460.5 173.7h0m0 10.3h0m-2.2 7.5h0" stroke="#81ff12" stroke-width="2.1" stroke-linecap="round"/>
<path d="M435.6 169.9h0" stroke="#95ff12" stroke-width="2.1" stroke-linecap="round"/>
<path d="M438.5 187.9h0" stroke="#a9ff12" stroke-width="2.1" stroke-linecap="round"/>
<path d="M458.2 178h0m-18.8 6.5h0m-2.2 12.4h0" stroke="#bdff12" stroke-width="2.1" stroke-linecap="round"/>
<path d="M438.9 177.4h0m20.3-.8h0m-1.6 16.7h0m-18.6 2.2h0" stroke="#d2ff12" stroke-width="2.1" stroke-linecap="round"/>
<path d="M438.8 171h0m1.3 4.4h0m3.8-1.8h0m-3.3 19.1h0" stroke="#e6ff12" stroke-width="2.1" stroke-linecap="round"/>
<path d="M441.9 162.4h0m1.2 8.6h0m11.8-1.2h0" stroke="#faff12" stroke-width="2.1" stroke-linecap="round"/>
<path d="M442.4 168h0m6.2 43.5h0" stroke="#fff012" stroke-width="2.1" stroke-linecap="round"/>
<path d="M446.3 162.9h0m6.7 6.8h0m-6.1 4.9h0m4.7-1.1h0m4.4 3.2h0m-15 12.2h0m2.3-.9h0" stroke="#ffdc12" stroke-width="2.1" stroke-linecap="round"/>
<path d="M455.4 162.2h0m-6.7 2.1h0m3 7.1h0m-2.6 11.5h0m-7.1 8.7h0m15.5 6h0" stroke="#ffc712" stroke-width="2.1" stroke-linecap="round"/>
<path d="M440.5 207.1h0" stroke="#ffb312" stroke-width="2.1" stroke-linecap="round"/>
<path d="M454.8 179.3h0m2.2 21.6h0" stroke="#ff9f12" stroke-width="2.1" stroke-linecap="round"/>
<path d="M447.1 179.2h0m-3.1 5h0m1.8-1.5h0m9.2 4h0" stroke="#ff8b12" stroke-width="2.1" stroke-linecap="round"/>
<path d="M445.4 189.1h0" stroke="#ff7712" stroke-width="2.1" stroke-linecap="round"/>
<path d="M452.5 190.3h0" stroke="#ff6312" stroke-width="2.1" stroke-linecap="round"/>
<path d="M450.8 185.8h0" stroke="#ff4e12" stroke-width="2.1" stroke-linecap="round"/>
<path d="M454.8 194h0m-11.6 2.8h0" stroke="#ff3a12" stroke-width="2.1" stroke-linecap="round"/>
<path d="M446.4 197.3h0m.7 2.5h0" stroke="#ff2612" stroke-width="2.1" stroke-linecap="round"/>
<path d="M445.2 196.1h0m-1.4 3.3h0m1.9-.4h0m4.3-1.4h0m5 3.2h0m-7.4 4.1h0m.9-2.3h0m6.3 1.6h0m-3.6 3h0" stroke="#ff1212" stroke-width="2.1" stroke-linecap="round"/>
<path d="M441.5 208.2H456.5V224.4H441.5ZM434.5 203.3L441.2 203.3L441.2 220.5ZM456.1 207.4L460.2 208.6L456.1 213Z" fill="#fff"/>
<path d="M441.5 208.2V226.4M456.5 208.2V226.4" stroke="#c0c8f4" stroke-width=".8"/>
<path d="M441.5 222.1H456.5" stroke="#c8f0b8" stroke-width=".6"/>
<rect x="521.3" y="164.5" width="2.4" height="53.0" fill="url(#jet)"/>
<g font-family="'Liberation Sans', sans-serif" font-size="4.6" fill="#3a3a3a"><text x="527.6" y="168.9">1.2</text><text x="527.6" y="173.8">1.0</text><text x="527.6" y="178.8">9.6</text><text x="527.6" y="183.7">8.4</text><text x="527.6" y="188.7">7.2</text><text x="527.6" y="193.6">6.0</text><text x="527.6" y="198.6">4.8</text><text x="527.6" y="203.5">3.6</text><text x="527.6" y="208.5">2.4</text><text x="527.6" y="213.4">1.2</text><text x="527.6" y="218.4">0.0</text></g>
<text x="517.6" y="160.9" font-family="'Liberation Serif', serif" font-size="5.4" font-weight="bold" fill="#000" stroke="#000" stroke-width=".08">Displacement</text>
</svg>
</body></html>
